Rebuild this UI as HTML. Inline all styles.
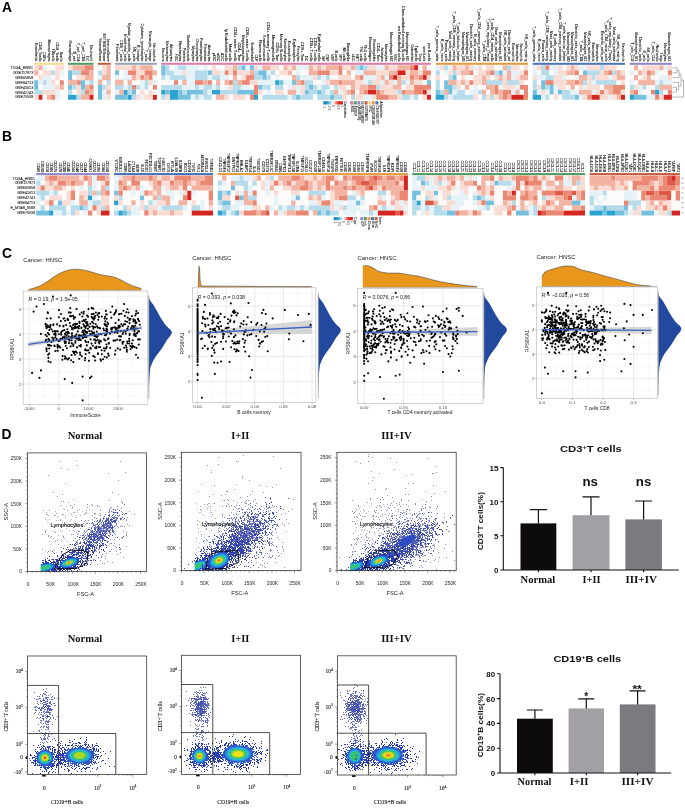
<!DOCTYPE html>
<html><head><meta charset="utf-8"><title>Figure</title>
<style>html,body{margin:0;padding:0;background:#fff;} svg{display:block;filter:blur(0.3px);}</style></head>
<body><svg width="685" height="808" viewBox="0 0 685 808">
<defs><linearGradient id="lg" x1="0" x2="1" y1="0" y2="0">
<stop offset="0" stop-color="#1f72bf"/><stop offset="0.22" stop-color="#2ba2d2"/><stop offset="0.5" stop-color="#ffffff"/>
<stop offset="0.64" stop-color="#f0907e"/><stop offset="0.78" stop-color="#de2c26"/><stop offset="1" stop-color="#d81818"/></linearGradient><filter id="bl" x="-20%" y="-20%" width="140%" height="140%"><feGaussianBlur stdDeviation="0.7"/></filter></defs>
<rect width="685" height="808" fill="#fff"/>
<path stroke="#df5a45" stroke-width="5.19" d="M373.3 178.2h4.3M360.4 183.1h8.6M369.0 188.0h4.3M235.1 197.9h4.3M265.3 212.8h4.3M394.9 212.8h4.3M524.5 183.1h4.3M554.8 193.0h8.6M572.0 193.0h4.3M567.7 197.9h4.3M425.2 202.9h8.6M541.8 212.8h4.3M667.1 178.2h4.3M667.1 183.1h8.6M645.6 193.0h8.6M658.5 193.0h12.9M667.1 197.9h4.3"/>
<path stroke="#d42520" stroke-width="5.19" d="M100.9 212.8h8.6M187.2 193.0h4.3M187.2 197.9h4.3M191.5 212.8h21.5M403.6 178.2h4.3M403.6 183.1h4.3M403.6 188.0h4.3M377.7 212.8h17.3M399.3 212.8h4.3M511.6 193.0h4.3M537.5 212.8h4.3M563.4 212.8h21.6M671.4 178.2h4.3M671.4 212.8h8.6"/>
<path stroke="#74c0de" stroke-width="5.19" d="M57.8 202.9h4.3M79.3 207.8h4.3M36.2 212.8h12.9M114.1 193.0h4.3M139.9 197.9h4.3M122.7 212.8h4.3M230.8 188.0h4.3M217.8 193.0h4.3M226.4 193.0h4.3M217.8 197.9h4.3M239.4 197.9h4.3M295.6 197.9h4.3M222.1 202.9h8.6M356.1 202.9h4.3M222.1 212.8h4.3M235.1 212.8h4.3M317.2 212.8h4.3M325.8 212.8h4.3M420.8 183.1h4.3M494.3 183.1h4.3M412.2 193.0h8.6M433.8 193.0h4.3M412.2 197.9h4.3M477.0 197.9h4.3M485.6 202.9h8.6M572.0 202.9h8.6M446.8 212.8h8.6M515.9 212.8h13.0M602.5 207.8h4.3M624.0 207.8h4.3M602.5 212.8h4.3M615.4 212.8h8.6M641.3 212.8h12.9"/>
<path stroke="#2aa3d0" stroke-width="5.19" d="M87.9 197.9h4.3M49.1 212.8h4.3M114.1 202.9h4.3M118.4 212.8h4.3M217.8 212.8h4.3M416.5 202.9h4.3M589.6 212.8h12.9M606.8 212.8h8.6"/>
<path stroke="#fdfbfa" stroke-width="5.19" d="M40.5 183.1h4.3M83.6 183.1h4.3M96.6 183.1h4.3M66.4 188.0h4.3M75.0 188.0h4.3M83.6 188.0h4.3M96.6 188.0h4.3M57.8 193.0h8.6M75.0 193.0h4.3M44.8 197.9h4.3M62.1 197.9h4.3M75.0 197.9h4.3M96.6 197.9h4.3M40.5 202.9h4.3M53.4 202.9h4.3M75.0 202.9h4.3M36.2 207.8h4.3M44.8 207.8h4.3M66.4 207.8h4.3M79.3 212.8h4.3M92.3 212.8h4.3M127.0 183.1h4.3M139.9 183.1h8.6M144.2 188.0h8.6M187.2 188.0h4.3M122.7 193.0h8.6M135.6 193.0h4.3M161.4 193.0h4.3M174.3 193.0h4.3M195.8 193.0h12.9M122.7 197.9h17.2M144.2 197.9h8.6M174.3 197.9h8.6M191.5 197.9h17.2M122.7 202.9h8.6M135.6 202.9h4.3M144.2 202.9h4.3M170.0 202.9h8.6M187.2 202.9h4.3M195.8 202.9h4.3M204.4 202.9h4.3M118.4 207.8h4.3M187.2 207.8h4.3M204.4 207.8h4.3M139.9 212.8h4.3M182.9 212.8h8.6M217.8 178.2h4.3M226.4 178.2h4.3M261.0 178.2h4.3M274.0 178.2h4.3M338.8 178.2h4.3M226.4 183.1h4.3M248.0 183.1h4.3M256.7 183.1h4.3M330.1 183.1h4.3M222.1 188.0h8.6M235.1 188.0h8.6M252.4 188.0h8.6M274.0 188.0h8.6M230.8 193.0h4.3M256.7 193.0h8.6M269.6 193.0h4.3M278.3 193.0h13.0M299.9 193.0h8.6M325.8 193.0h4.3M347.4 193.0h4.3M364.7 193.0h13.0M386.3 193.0h4.3M230.8 197.9h4.3M256.7 197.9h17.3M278.3 197.9h13.0M299.9 197.9h8.6M325.8 197.9h4.3M356.1 197.9h4.3M364.7 197.9h13.0M386.3 197.9h4.3M230.8 202.9h4.3M256.7 202.9h17.3M278.3 202.9h13.0M295.6 202.9h13.0M343.1 202.9h4.3M364.7 202.9h13.0M386.3 202.9h4.3M239.4 207.8h4.3M261.0 207.8h4.3M274.0 207.8h4.3M360.4 207.8h8.6M269.6 212.8h4.3M308.5 212.8h4.3M338.8 212.8h4.3M356.1 212.8h4.3M477.0 178.2h4.3M494.3 178.2h4.3M550.4 178.2h4.3M416.5 183.1h4.3M455.4 183.1h4.3M477.0 183.1h4.3M485.6 183.1h4.3M554.8 183.1h4.3M468.4 188.0h8.6M494.3 188.0h13.0M520.2 188.0h4.3M541.8 188.0h4.3M572.0 188.0h4.3M420.8 193.0h4.3M438.1 193.0h4.3M451.1 193.0h8.6M468.4 193.0h4.3M494.3 193.0h8.6M515.9 193.0h4.3M537.5 193.0h4.3M416.5 197.9h8.6M438.1 197.9h4.3M468.4 197.9h4.3M494.3 197.9h8.6M515.9 197.9h4.3M537.5 197.9h4.3M438.1 202.9h8.6M464.0 202.9h8.6M494.3 202.9h8.6M515.9 202.9h4.3M524.5 202.9h4.3M537.5 202.9h4.3M554.8 202.9h4.3M459.7 207.8h17.3M490.0 207.8h4.3M563.4 207.8h8.6M416.5 212.8h4.3M481.3 212.8h13.0M502.9 212.8h4.3M511.6 212.8h4.3M628.3 183.1h4.3M628.3 188.0h4.3M606.8 193.0h17.2M637.0 193.0h4.3M671.4 193.0h4.3M598.2 197.9h4.3M606.8 197.9h17.2M637.0 197.9h4.3M671.4 197.9h4.3M593.9 202.9h4.3M602.5 202.9h21.5M641.3 202.9h4.3M654.2 202.9h4.3M671.4 202.9h8.6M628.3 207.8h4.3M641.3 207.8h4.3M671.4 207.8h8.6"/>
<path stroke="#b6dbeb" stroke-width="5.19" d="M36.2 183.1h4.3M87.9 188.0h4.3M105.2 188.0h4.3M36.2 193.0h12.9M53.4 193.0h4.3M87.9 193.0h4.3M96.6 193.0h4.3M40.5 197.9h4.3M92.3 202.9h8.6M40.5 207.8h4.3M49.1 207.8h17.2M70.7 207.8h8.6M83.6 207.8h4.3M100.9 207.8h4.3M62.1 212.8h4.3M70.7 212.8h4.3M118.4 197.9h4.3M157.1 197.9h4.3M148.5 202.9h4.3M122.7 207.8h4.3M144.2 207.8h4.3M161.4 207.8h21.5M191.5 207.8h8.6M114.1 212.8h4.3M127.0 212.8h4.3M239.4 178.2h4.3M269.6 178.2h4.3M217.8 183.1h4.3M235.1 183.1h13.0M252.4 183.1h4.3M243.7 188.0h4.3M222.1 193.0h4.3M308.5 193.0h17.3M377.7 193.0h8.6M248.0 197.9h8.6M347.4 197.9h8.6M360.4 197.9h4.3M217.8 202.9h4.3M222.1 207.8h8.6M278.3 207.8h4.3M286.9 207.8h8.6M299.9 207.8h4.3M308.5 207.8h21.6M343.1 207.8h4.3M382.0 207.8h4.3M230.8 212.8h4.3M321.5 212.8h4.3M330.1 212.8h8.6M369.0 212.8h4.3M416.5 178.2h8.6M425.2 183.1h4.3M438.1 183.1h4.3M498.6 183.1h13.0M576.4 183.1h4.3M425.2 197.9h4.3M446.8 197.9h4.3M472.7 197.9h4.3M481.3 197.9h4.3M541.8 197.9h4.3M412.2 202.9h4.3M511.6 202.9h4.3M412.2 207.8h8.6M425.2 207.8h4.3M433.8 207.8h8.6M485.6 207.8h4.3M533.2 207.8h4.3M412.2 212.8h4.3M433.8 212.8h13.0M533.2 212.8h4.3M602.5 193.0h4.3M589.6 197.9h4.3M589.6 202.9h4.3M628.3 202.9h12.9M593.9 207.8h8.6M606.8 207.8h17.2M632.6 207.8h4.3M624.0 212.8h4.3M667.1 212.8h4.3"/>
<path stroke="#f9ddd4" stroke-width="5.19" d="M79.3 178.2h4.3M44.8 183.1h4.3M53.4 183.1h4.3M100.9 183.1h4.3M36.2 188.0h4.3M44.8 188.0h8.6M62.1 188.0h4.3M70.7 188.0h4.3M66.4 193.0h4.3M79.3 193.0h8.6M49.1 197.9h12.9M66.4 197.9h4.3M83.6 197.9h4.3M100.9 197.9h8.6M44.8 202.9h4.3M62.1 202.9h8.6M100.9 202.9h8.6M96.6 207.8h4.3M75.0 212.8h4.3M96.6 212.8h4.3M118.4 178.2h4.3M157.1 178.2h4.3M170.0 178.2h4.3M148.5 183.1h4.3M161.4 183.1h8.6M191.5 183.1h4.3M131.3 188.0h4.3M165.7 188.0h4.3M178.6 188.0h4.3M152.8 193.0h4.3M182.9 193.0h4.3M114.1 197.9h4.3M118.4 202.9h4.3M139.9 202.9h4.3M157.1 202.9h8.6M191.5 202.9h4.3M127.0 207.8h4.3M139.9 207.8h4.3M148.5 207.8h8.6M208.7 207.8h4.3M148.5 212.8h4.3M157.1 212.8h12.9M174.3 212.8h8.6M252.4 178.2h4.3M265.3 178.2h4.3M304.2 178.2h8.6M317.2 178.2h4.3M334.5 178.2h4.3M261.0 183.1h4.3M269.6 183.1h4.3M278.3 183.1h4.3M291.2 183.1h4.3M312.9 183.1h4.3M347.4 183.1h4.3M399.3 183.1h4.3M261.0 188.0h4.3M282.6 188.0h8.6M312.9 188.0h4.3M321.5 188.0h4.3M377.7 188.0h4.3M235.1 193.0h4.3M274.0 193.0h4.3M291.2 193.0h8.6M330.1 193.0h4.3M356.1 193.0h4.3M222.1 197.9h8.6M312.9 197.9h4.3M330.1 197.9h4.3M377.7 197.9h4.3M390.6 197.9h4.3M317.2 202.9h4.3M330.1 202.9h4.3M394.9 202.9h4.3M403.6 202.9h4.3M252.4 207.8h8.6M330.1 207.8h4.3M338.8 207.8h4.3M394.9 207.8h8.6M239.4 212.8h4.3M282.6 212.8h4.3M403.6 212.8h4.3M425.2 178.2h4.3M433.8 178.2h4.3M442.4 178.2h4.3M455.4 178.2h4.3M468.4 178.2h4.3M502.9 178.2h8.6M537.5 178.2h4.3M546.1 178.2h4.3M567.7 178.2h4.3M580.7 178.2h4.3M433.8 183.1h4.3M446.8 183.1h4.3M459.7 183.1h4.3M490.0 183.1h4.3M520.2 183.1h4.3M580.7 183.1h4.3M420.8 188.0h4.3M438.1 188.0h8.6M451.1 188.0h4.3M459.7 188.0h8.6M485.6 188.0h4.3M511.6 188.0h4.3M528.8 188.0h4.3M546.1 188.0h8.6M563.4 188.0h8.6M576.4 188.0h8.6M425.2 193.0h8.6M442.4 193.0h8.6M464.0 193.0h4.3M477.0 193.0h4.3M485.6 193.0h4.3M429.5 197.9h4.3M442.4 197.9h4.3M490.0 197.9h4.3M546.1 197.9h8.6M446.8 202.9h8.6M477.0 202.9h4.3M507.2 202.9h4.3M528.8 202.9h4.3M541.8 202.9h4.3M442.4 207.8h8.6M494.3 207.8h13.0M524.5 207.8h4.3M537.5 207.8h4.3M546.1 207.8h8.6M425.2 212.8h4.3M468.4 212.8h4.3M494.3 212.8h8.6M615.4 183.1h4.3M624.0 183.1h4.3M654.2 183.1h4.3M589.6 188.0h4.3M598.2 188.0h12.9M615.4 188.0h8.6M654.2 188.0h4.3M645.6 202.9h4.3M662.8 202.9h8.6M637.0 207.8h4.3M645.6 207.8h8.6M658.5 207.8h4.3M667.1 207.8h4.3M632.6 212.8h8.6M658.5 212.8h8.6"/>
<path stroke="#ea8873" stroke-width="5.19" d="M49.1 178.2h8.6M83.6 178.2h4.3M96.6 178.2h8.6M57.8 183.1h8.6M70.7 183.1h4.3M105.2 183.1h4.3M40.5 188.0h4.3M70.7 193.0h4.3M105.2 193.0h4.3M70.7 197.9h4.3M49.1 202.9h4.3M92.3 207.8h4.3M87.9 212.8h4.3M131.3 178.2h4.3M148.5 178.2h4.3M174.3 178.2h17.2M204.4 178.2h8.6M118.4 183.1h4.3M131.3 183.1h8.6M157.1 183.1h4.3M170.0 183.1h4.3M182.9 183.1h4.3M200.1 183.1h12.9M122.7 188.0h4.3M182.9 188.0h4.3M118.4 193.0h4.3M144.2 193.0h4.3M208.7 193.0h4.3M182.9 197.9h4.3M208.7 197.9h4.3M144.2 212.8h4.3M291.2 178.2h8.6M325.8 178.2h8.6M343.1 178.2h4.3M351.7 178.2h13.0M369.0 178.2h4.3M377.7 178.2h4.3M386.3 178.2h8.6M399.3 178.2h4.3M274.0 183.1h4.3M286.9 183.1h4.3M304.2 183.1h4.3M325.8 183.1h4.3M334.5 183.1h4.3M356.1 183.1h4.3M369.0 183.1h8.6M394.9 183.1h4.3M299.9 188.0h8.6M325.8 188.0h4.3M343.1 188.0h4.3M351.7 188.0h4.3M364.7 188.0h4.3M382.0 188.0h4.3M252.4 193.0h4.3M399.3 193.0h8.6M338.8 197.9h8.6M399.3 197.9h8.6M252.4 202.9h4.3M321.5 202.9h8.6M373.3 207.8h4.3M243.7 212.8h13.0M261.0 212.8h4.3M295.6 212.8h13.0M490.0 178.2h4.3M515.9 178.2h13.0M533.2 178.2h4.3M554.8 178.2h8.6M451.1 183.1h4.3M472.7 183.1h4.3M515.9 183.1h4.3M528.8 183.1h13.0M477.0 188.0h4.3M515.9 188.0h4.3M490.0 193.0h4.3M502.9 193.0h4.3M524.5 193.0h4.3M541.8 193.0h13.0M563.4 193.0h8.6M580.7 193.0h4.3M502.9 197.9h13.0M520.2 197.9h8.6M533.2 197.9h4.3M563.4 197.9h4.3M580.7 197.9h4.3M481.3 202.9h4.3M546.1 202.9h4.3M511.6 207.8h4.3M580.7 207.8h4.3M455.4 212.8h4.3M472.7 212.8h4.3M507.2 212.8h4.3M546.1 212.8h17.3M611.1 178.2h4.3M641.3 178.2h17.2M662.8 178.2h4.3M675.7 178.2h4.3M632.6 183.1h17.2M662.8 183.1h4.3M675.7 183.1h4.3M632.6 188.0h4.3M649.9 188.0h4.3M658.5 188.0h17.2M641.3 193.0h4.3M654.2 193.0h4.3M675.7 193.0h4.3M641.3 197.9h4.3M649.9 197.9h17.2M675.7 197.9h4.3M624.0 202.9h4.3M662.8 207.8h4.3"/>
<path stroke="#f2b3a3" stroke-width="5.19" d="M44.8 178.2h4.3M57.8 178.2h21.6M87.9 178.2h4.3M105.2 178.2h4.3M49.1 183.1h4.3M66.4 183.1h4.3M75.0 183.1h8.6M87.9 183.1h4.3M53.4 188.0h8.6M100.9 188.0h4.3M92.3 193.0h4.3M100.9 193.0h4.3M79.3 197.9h4.3M79.3 202.9h8.6M105.2 207.8h4.3M122.7 178.2h8.6M135.6 178.2h12.9M152.8 178.2h4.3M161.4 178.2h8.6M191.5 178.2h12.9M122.7 183.1h4.3M152.8 183.1h4.3M174.3 183.1h8.6M187.2 183.1h4.3M195.8 183.1h4.3M118.4 188.0h4.3M127.0 188.0h4.3M135.6 188.0h4.3M152.8 188.0h8.6M170.0 188.0h8.6M191.5 188.0h21.5M148.5 193.0h4.3M157.1 193.0h4.3M152.8 197.9h4.3M161.4 197.9h8.6M131.3 202.9h4.3M165.7 202.9h4.3M178.6 202.9h8.6M208.7 202.9h4.3M152.8 212.8h4.3M170.0 212.8h4.3M222.1 178.2h4.3M256.7 178.2h4.3M278.3 178.2h13.0M299.9 178.2h4.3M312.9 178.2h4.3M321.5 178.2h4.3M347.4 178.2h4.3M364.7 178.2h4.3M382.0 178.2h4.3M394.9 178.2h4.3M230.8 183.1h4.3M282.6 183.1h4.3M295.6 183.1h8.6M308.5 183.1h4.3M317.2 183.1h8.6M338.8 183.1h8.6M351.7 183.1h4.3M377.7 183.1h17.3M269.6 188.0h4.3M291.2 188.0h8.6M308.5 188.0h4.3M317.2 188.0h4.3M330.1 188.0h13.0M347.4 188.0h4.3M356.1 188.0h8.6M373.3 188.0h4.3M386.3 188.0h17.3M243.7 193.0h4.3M334.5 193.0h13.0M360.4 193.0h4.3M390.6 193.0h8.6M243.7 197.9h4.3M308.5 197.9h4.3M317.2 197.9h4.3M334.5 197.9h4.3M394.9 197.9h4.3M243.7 202.9h8.6M291.2 202.9h4.3M377.7 202.9h8.6M390.6 202.9h4.3M265.3 207.8h4.3M369.0 207.8h4.3M256.7 212.8h4.3M274.0 212.8h4.3M286.9 212.8h8.6M312.9 212.8h4.3M438.1 178.2h4.3M446.8 178.2h8.6M459.7 178.2h4.3M481.3 178.2h8.6M498.6 178.2h4.3M511.6 178.2h4.3M528.8 178.2h4.3M541.8 178.2h4.3M572.0 178.2h8.6M464.0 183.1h8.6M481.3 183.1h4.3M546.1 183.1h8.6M559.1 183.1h4.3M572.0 183.1h4.3M446.8 188.0h4.3M481.3 188.0h4.3M490.0 188.0h4.3M524.5 188.0h4.3M533.2 188.0h8.6M554.8 188.0h8.6M481.3 193.0h4.3M507.2 193.0h4.3M520.2 193.0h4.3M528.8 193.0h8.6M576.4 193.0h4.3M528.8 197.9h4.3M554.8 197.9h8.6M576.4 197.9h4.3M433.8 202.9h4.3M502.9 202.9h4.3M520.2 202.9h4.3M533.2 202.9h4.3M550.4 202.9h4.3M559.1 202.9h13.0M507.2 207.8h4.3M520.2 207.8h4.3M541.8 207.8h4.3M554.8 207.8h8.6M572.0 207.8h8.6M459.7 212.8h8.6M477.0 212.8h4.3M589.6 178.2h21.5M615.4 178.2h25.8M658.5 178.2h4.3M589.6 183.1h25.8M619.7 183.1h4.3M649.9 183.1h4.3M658.5 183.1h4.3M593.9 188.0h4.3M611.1 188.0h4.3M624.0 188.0h4.3M637.0 188.0h12.9M675.7 188.0h4.3M645.6 197.9h4.3M649.9 202.9h4.3M658.5 202.9h4.3M654.2 207.8h4.3"/>
<path stroke="#e5f2f8" stroke-width="5.19" d="M36.2 178.2h8.6M92.3 178.2h4.3M92.3 183.1h4.3M79.3 188.0h4.3M92.3 188.0h4.3M49.1 193.0h4.3M36.2 197.9h4.3M92.3 197.9h4.3M36.2 202.9h4.3M70.7 202.9h4.3M87.9 202.9h4.3M87.9 207.8h4.3M53.4 212.8h8.6M66.4 212.8h4.3M83.6 212.8h4.3M114.1 178.2h4.3M114.1 183.1h4.3M114.1 188.0h4.3M139.9 188.0h4.3M161.4 188.0h4.3M131.3 193.0h4.3M139.9 193.0h4.3M165.7 193.0h8.6M178.6 193.0h4.3M191.5 193.0h4.3M170.0 197.9h4.3M152.8 202.9h4.3M200.1 202.9h4.3M114.1 207.8h4.3M131.3 207.8h8.6M157.1 207.8h4.3M182.9 207.8h4.3M200.1 207.8h4.3M131.3 212.8h8.6M230.8 178.2h8.6M243.7 178.2h8.6M222.1 183.1h4.3M265.3 183.1h4.3M217.8 188.0h4.3M248.0 188.0h4.3M265.3 188.0h4.3M239.4 193.0h4.3M248.0 193.0h4.3M265.3 193.0h4.3M351.7 193.0h4.3M274.0 197.9h4.3M291.2 197.9h4.3M321.5 197.9h4.3M382.0 197.9h4.3M235.1 202.9h8.6M274.0 202.9h4.3M308.5 202.9h8.6M334.5 202.9h8.6M347.4 202.9h8.6M360.4 202.9h4.3M399.3 202.9h4.3M217.8 207.8h4.3M230.8 207.8h8.6M243.7 207.8h8.6M269.6 207.8h4.3M282.6 207.8h4.3M295.6 207.8h4.3M304.2 207.8h4.3M334.5 207.8h4.3M347.4 207.8h13.0M377.7 207.8h4.3M386.3 207.8h8.6M403.6 207.8h4.3M226.4 212.8h4.3M278.3 212.8h4.3M343.1 212.8h13.0M360.4 212.8h8.6M373.3 212.8h4.3M412.2 178.2h4.3M429.5 178.2h4.3M464.0 178.2h4.3M472.7 178.2h4.3M563.4 178.2h4.3M412.2 183.1h4.3M429.5 183.1h4.3M442.4 183.1h4.3M511.6 183.1h4.3M541.8 183.1h4.3M563.4 183.1h8.6M412.2 188.0h8.6M425.2 188.0h13.0M455.4 188.0h4.3M507.2 188.0h4.3M459.7 193.0h4.3M472.7 193.0h4.3M433.8 197.9h4.3M451.1 197.9h17.3M485.6 197.9h4.3M572.0 197.9h4.3M420.8 202.9h4.3M455.4 202.9h8.6M472.7 202.9h4.3M580.7 202.9h4.3M420.8 207.8h4.3M429.5 207.8h4.3M451.1 207.8h8.6M477.0 207.8h8.6M515.9 207.8h4.3M528.8 207.8h4.3M420.8 212.8h4.3M429.5 212.8h4.3M528.8 212.8h4.3M589.6 193.0h12.9M624.0 193.0h12.9M593.9 197.9h4.3M602.5 197.9h4.3M624.0 197.9h12.9M598.2 202.9h4.3M589.6 207.8h4.3M628.3 212.8h4.3M654.2 212.8h4.3"/>
<path stroke="#2aa3d0" stroke-width="5.12" d="M68.1 97.1h8.5M123.5 92.2h4.2M127.6 97.1h4.2M275.1 82.4h4.2M161.3 92.2h4.2M169.7 92.2h8.4M211.9 92.2h8.4M169.7 97.1h8.4M254.0 97.1h4.2M435.7 97.1h8.4M532.7 97.1h8.4M655.1 92.2h4.2M629.8 97.1h4.2"/>
<path stroke="#d42520" stroke-width="5.12" d="M38.4 97.1h4.2M89.3 97.1h4.2M152.7 97.1h4.2M414.1 67.8h4.2M397.3 72.7h8.4M393.1 77.6h4.2M422.6 77.6h4.2M367.8 92.2h8.4M422.6 92.2h4.2M426.8 97.1h4.2M511.2 97.1h12.6M591.4 97.1h8.4M620.8 97.1h4.2M663.5 97.1h8.4"/>
<path stroke="#ea8873" stroke-width="5.12" d="M59.6 82.4h4.2M51.1 97.1h4.2M85.0 67.8h8.5M80.8 72.7h8.5M76.6 82.4h4.2M89.3 87.3h4.2M85.0 92.2h4.2M127.6 72.7h8.4M144.4 72.7h8.4M140.2 77.6h4.2M148.5 77.6h4.2M131.8 87.3h4.2M152.7 87.3h4.2M338.3 67.8h4.2M409.9 67.8h4.2M224.5 72.7h4.2M232.9 72.7h4.2M317.2 72.7h12.6M338.3 72.7h4.2M422.6 72.7h8.4M245.6 77.6h8.4M359.4 77.6h4.2M388.9 77.6h4.2M409.9 77.6h4.2M418.4 77.6h4.2M173.9 82.4h4.2M195.0 82.4h8.4M207.7 82.4h4.2M228.7 82.4h4.2M241.4 82.4h8.4M300.4 82.4h4.2M338.3 82.4h4.2M254.0 87.3h4.2M367.8 87.3h8.4M414.1 87.3h16.9M254.0 92.2h4.2M350.9 92.2h4.2M363.6 92.2h4.2M376.2 92.2h4.2M401.5 92.2h4.2M414.1 92.2h8.4M249.8 97.1h4.2M376.2 97.1h12.6M469.3 72.7h4.2M490.2 72.7h4.2M523.8 72.7h4.2M469.3 82.4h4.2M494.4 87.3h4.2M519.6 87.3h8.4M494.4 92.2h4.2M502.8 92.2h8.4M523.8 92.2h4.2M502.8 97.1h4.2M523.8 97.1h4.2M545.3 67.8h4.2M574.7 72.7h4.2M608.2 72.7h4.2M545.3 82.4h8.4M574.7 82.4h4.2M612.4 87.3h12.6M599.8 92.2h4.2M612.4 92.2h8.4M587.2 97.1h4.2M646.6 72.7h4.2M667.7 72.7h4.2M634.0 92.2h4.2M650.8 92.2h4.2M667.7 92.2h4.2M655.1 97.1h4.2"/>
<path stroke="#74c0de" stroke-width="5.12" d="M34.2 82.4h4.2M34.2 87.3h4.2M68.1 72.7h4.2M68.1 77.6h4.2M80.8 82.4h4.2M68.1 87.3h4.2M80.8 87.3h4.2M97.9 87.3h4.3M97.9 92.2h4.3M97.9 97.1h4.3M115.1 72.7h4.2M131.8 92.2h4.2M115.1 97.1h12.5M161.3 67.8h4.2M241.4 67.8h4.2M249.8 67.8h4.2M359.4 67.8h4.2M161.3 72.7h4.2M207.7 72.7h4.2M258.2 72.7h8.4M262.4 77.6h4.2M279.3 82.4h4.2M291.9 82.4h4.2M426.8 82.4h4.2M258.2 87.3h4.2M308.8 87.3h4.2M165.5 92.2h4.2M178.2 92.2h4.2M186.6 92.2h16.9M237.2 92.2h16.9M304.6 92.2h4.2M317.2 92.2h4.2M178.2 97.1h12.6M296.1 97.1h4.2M329.9 97.1h4.2M498.6 72.7h4.2M452.5 77.6h4.2M444.1 82.4h4.2M444.1 87.3h8.4M435.7 92.2h4.2M448.3 92.2h4.2M583.0 72.7h4.2M541.1 82.4h4.2M541.1 87.3h4.2M549.5 87.3h4.2M532.7 92.2h4.2M549.5 92.2h4.2M557.9 92.2h4.2M574.7 97.1h4.2M634.0 97.1h12.6"/>
<path stroke="#b6dbeb" stroke-width="5.12" d="M51.1 72.7h4.2M42.7 82.4h4.2M34.2 92.2h8.5M72.3 72.7h8.5M89.3 82.4h4.2M72.3 87.3h4.2M68.1 92.2h4.2M80.8 92.2h4.2M76.6 97.1h4.2M97.9 72.7h4.3M106.4 82.4h4.3M102.2 87.3h4.3M144.4 82.4h4.2M115.1 87.3h8.4M127.6 87.3h4.2M136.0 87.3h4.2M144.4 87.3h4.2M127.6 92.2h4.2M131.8 97.1h4.2M165.5 67.8h4.2M178.2 67.8h8.4M237.2 67.8h4.2M355.1 67.8h4.2M363.6 67.8h4.2M165.5 72.7h8.4M195.0 72.7h12.6M254.0 72.7h4.2M270.9 72.7h4.2M161.3 77.6h4.2M169.7 77.6h16.9M195.0 77.6h12.6M211.9 77.6h8.4M254.0 77.6h8.4M266.7 77.6h4.2M296.1 77.6h4.2M317.2 77.6h4.2M325.6 77.6h4.2M232.9 82.4h4.2M304.6 82.4h8.4M367.8 82.4h4.2M401.5 82.4h4.2M161.3 87.3h21.1M195.0 87.3h4.2M203.4 87.3h8.4M216.1 87.3h4.2M232.9 87.3h8.4M262.4 87.3h8.4M275.1 87.3h8.4M304.6 87.3h4.2M313.0 87.3h4.2M321.4 87.3h8.4M334.1 87.3h4.2M376.2 87.3h4.2M182.4 92.2h4.2M203.4 92.2h4.2M220.3 92.2h16.9M308.8 92.2h8.4M321.4 92.2h4.2M329.9 92.2h4.2M397.3 92.2h4.2M161.3 97.1h4.2M195.0 97.1h4.2M203.4 97.1h8.4M262.4 97.1h25.3M291.9 97.1h4.2M300.4 97.1h12.6M317.2 97.1h12.6M334.1 97.1h8.4M350.9 97.1h4.2M401.5 97.1h8.4M414.1 97.1h4.2M444.1 67.8h4.2M507.0 67.8h4.2M435.7 72.7h4.2M452.5 72.7h4.2M494.4 72.7h4.2M448.3 77.6h4.2M435.7 82.4h4.2M486.0 82.4h16.8M507.0 82.4h12.6M435.7 87.3h4.2M452.5 87.3h4.2M439.9 92.2h4.2M456.7 92.2h8.4M477.7 92.2h4.2M444.1 97.1h4.2M452.5 97.1h21.0M481.9 97.1h4.2M490.2 97.1h4.2M541.1 67.8h4.2M599.8 67.8h4.2M541.1 72.7h8.4M587.2 72.7h12.6M612.4 72.7h4.2M545.3 77.6h8.4M591.4 77.6h4.2M532.7 82.4h4.2M583.0 82.4h4.2M595.6 82.4h21.0M532.7 87.3h4.2M545.3 87.3h4.2M562.1 92.2h8.4M545.3 97.1h4.2M562.1 97.1h12.6M659.3 82.4h4.2M629.8 87.3h4.2M642.4 87.3h4.2M655.1 87.3h4.2M659.3 92.2h4.2"/>
<path stroke="#fdfbfa" stroke-width="5.12" d="M46.9 67.8h8.5M38.4 72.7h4.2M34.2 77.6h4.2M51.1 77.6h4.2M59.6 77.6h4.2M55.3 82.4h4.2M38.4 87.3h4.2M59.6 92.2h4.2M42.7 97.1h4.2M59.6 97.1h4.2M72.3 77.6h4.2M72.3 92.2h4.2M97.9 67.8h4.3M102.2 82.4h4.3M152.7 67.8h4.2M119.3 72.7h4.2M119.3 77.6h4.2M152.7 77.6h4.2M123.5 82.4h4.2M131.8 82.4h8.4M148.5 87.3h4.2M136.0 92.2h4.2M144.4 92.2h4.2M152.7 92.2h4.2M169.7 67.8h4.2M199.2 67.8h4.2M207.7 67.8h4.2M216.1 67.8h8.4M279.3 67.8h4.2M418.4 67.8h4.2M426.8 67.8h4.2M275.1 72.7h4.2M291.9 72.7h4.2M300.4 72.7h8.4M342.5 72.7h4.2M350.9 72.7h4.2M228.7 77.6h4.2M237.2 77.6h4.2M270.9 77.6h4.2M279.3 77.6h12.6M329.9 77.6h8.4M350.9 77.6h4.2M161.3 82.4h12.6M178.2 82.4h4.2M211.9 82.4h4.2M220.3 82.4h4.2M313.0 82.4h8.4M422.6 82.4h4.2M220.3 87.3h4.2M249.8 87.3h4.2M270.9 87.3h4.2M283.5 87.3h4.2M329.9 87.3h4.2M346.7 87.3h4.2M401.5 87.3h4.2M262.4 92.2h4.2M270.9 92.2h4.2M283.5 92.2h4.2M355.1 92.2h4.2M211.9 97.1h4.2M228.7 97.1h4.2M245.6 97.1h4.2M258.2 97.1h4.2M313.0 97.1h4.2M346.7 97.1h4.2M418.4 97.1h4.2M481.9 67.8h4.2M494.4 67.8h8.4M519.6 67.8h4.2M439.9 72.7h4.2M473.5 72.7h4.2M439.9 77.6h8.4M456.7 77.6h4.2M465.1 77.6h8.4M490.2 77.6h4.2M439.9 82.4h4.2M523.8 82.4h4.2M439.9 87.3h4.2M460.9 87.3h4.2M469.3 87.3h4.2M477.7 87.3h8.4M465.1 92.2h4.2M486.0 92.2h4.2M519.6 92.2h4.2M477.7 97.1h4.2M562.1 67.8h4.2M616.6 67.8h8.4M536.9 72.7h4.2M549.5 72.7h4.2M578.9 72.7h4.2M566.3 77.6h8.4M536.9 82.4h4.2M616.6 82.4h4.2M566.3 87.3h4.2M574.7 87.3h4.2M599.8 87.3h4.2M549.5 97.1h4.2M557.9 97.1h4.2M629.8 67.8h4.2M638.2 67.8h4.2M634.0 72.7h4.2M659.3 72.7h8.4M629.8 77.6h4.2M638.2 77.6h4.2M650.8 77.6h8.4M634.0 82.4h4.2M646.6 87.3h8.4M642.4 92.2h8.4M663.5 92.2h4.2"/>
<path stroke="#e5f2f8" stroke-width="5.12" d="M42.7 67.8h4.2M59.6 72.7h4.2M42.7 77.6h8.5M38.4 82.4h4.2M46.9 82.4h4.2M42.7 87.3h12.7M55.3 92.2h4.2M55.3 97.1h4.2M85.0 82.4h4.2M97.9 77.6h4.3M102.2 92.2h4.3M102.2 97.1h4.3M123.5 72.7h4.2M115.1 77.6h4.2M123.5 77.6h8.4M140.2 82.4h4.2M152.7 82.4h4.2M123.5 87.3h4.2M140.2 87.3h4.2M115.1 92.2h4.2M140.2 97.1h4.2M173.9 67.8h4.2M186.6 67.8h12.6M203.4 67.8h4.2M245.6 67.8h4.2M258.2 67.8h4.2M296.1 67.8h12.6M376.2 67.8h8.4M173.9 72.7h8.4M186.6 72.7h8.4M220.3 72.7h4.2M266.7 72.7h4.2M296.1 72.7h4.2M355.1 72.7h8.4M165.5 77.6h4.2M186.6 77.6h8.4M207.7 77.6h4.2M220.3 77.6h8.4M275.1 77.6h4.2M300.4 77.6h12.6M321.4 77.6h4.2M363.6 77.6h12.6M384.6 77.6h4.2M186.6 82.4h8.4M258.2 82.4h16.9M283.5 82.4h8.4M321.4 82.4h4.2M363.6 82.4h4.2M380.4 82.4h4.2M393.1 82.4h4.2M405.7 82.4h4.2M182.4 87.3h12.6M199.2 87.3h4.2M211.9 87.3h4.2M224.5 87.3h4.2M241.4 87.3h8.4M287.7 87.3h4.2M296.1 87.3h4.2M317.2 87.3h4.2M207.7 92.2h4.2M266.7 92.2h4.2M296.1 92.2h4.2M325.6 92.2h4.2M338.3 92.2h4.2M190.8 97.1h4.2M199.2 97.1h4.2M287.7 97.1h4.2M363.6 97.1h8.4M409.9 97.1h4.2M435.7 67.8h4.2M448.3 67.8h4.2M473.5 67.8h4.2M444.1 72.7h4.2M502.8 72.7h4.2M511.2 72.7h8.4M511.2 77.6h4.2M473.5 87.3h4.2M498.6 87.3h4.2M515.4 87.3h4.2M452.5 92.2h4.2M469.3 92.2h8.4M511.2 92.2h4.2M448.3 97.1h4.2M532.7 67.8h4.2M549.5 67.8h8.4M578.9 67.8h8.4M532.7 72.7h4.2M553.7 72.7h4.2M536.9 77.6h8.4M562.1 77.6h4.2M574.7 77.6h4.2M608.2 77.6h4.2M591.4 82.4h4.2M553.7 87.3h4.2M583.0 87.3h4.2M536.9 92.2h4.2M545.3 92.2h4.2M553.7 92.2h4.2M570.5 92.2h8.4M591.4 92.2h4.2M541.1 97.1h4.2M578.9 97.1h4.2M608.2 97.1h4.2M663.5 67.8h4.2M629.8 72.7h4.2M655.1 72.7h4.2M659.3 77.6h8.4M629.8 82.4h4.2M655.1 82.4h4.2M663.5 82.4h8.4M638.2 87.3h4.2M638.2 92.2h4.2M646.6 97.1h8.4"/>
<path stroke="#f2b3a3" stroke-width="5.12" d="M38.4 67.8h4.2M34.2 72.7h4.2M59.6 87.3h4.2M46.9 97.1h4.2M72.3 67.8h12.7M89.3 72.7h4.2M85.0 77.6h8.5M68.1 82.4h8.5M85.0 87.3h4.2M89.3 92.2h4.2M80.8 97.1h8.5M106.4 67.8h4.3M106.4 72.7h4.3M102.2 77.6h8.5M97.9 82.4h4.3M106.4 92.2h4.3M131.8 67.8h4.2M140.2 67.8h12.5M152.7 72.7h4.2M131.8 77.6h4.2M144.4 77.6h4.2M115.1 82.4h8.4M127.6 82.4h4.2M119.3 92.2h4.2M232.9 67.8h4.2M262.4 67.8h8.4M283.5 67.8h4.2M291.9 67.8h4.2M308.8 67.8h4.2M317.2 67.8h4.2M325.6 67.8h12.6M350.9 67.8h4.2M384.6 67.8h4.2M397.3 67.8h12.6M422.6 67.8h4.2M249.8 72.7h4.2M287.7 72.7h4.2M308.8 72.7h8.4M346.7 72.7h4.2M363.6 72.7h12.6M388.9 72.7h8.4M409.9 72.7h8.4M232.9 77.6h4.2M291.9 77.6h4.2M355.1 77.6h4.2M380.4 77.6h4.2M397.3 77.6h4.2M414.1 77.6h4.2M182.4 82.4h4.2M203.4 82.4h4.2M216.1 82.4h4.2M224.5 82.4h4.2M237.2 82.4h4.2M296.1 82.4h4.2M329.9 82.4h8.4M342.5 82.4h12.6M384.6 82.4h4.2M397.3 82.4h4.2M409.9 82.4h4.2M350.9 87.3h4.2M359.4 87.3h8.4M393.1 87.3h8.4M287.7 92.2h8.4M334.1 92.2h4.2M346.7 92.2h4.2M359.4 92.2h4.2M380.4 92.2h4.2M405.7 92.2h8.4M216.1 97.1h8.4M388.9 97.1h8.4M452.5 67.8h4.2M465.1 67.8h4.2M502.8 67.8h4.2M460.9 72.7h8.4M486.0 72.7h4.2M507.0 72.7h4.2M481.9 77.6h4.2M498.6 77.6h4.2M507.0 77.6h4.2M519.6 77.6h8.4M448.3 82.4h8.4M460.9 82.4h4.2M481.9 82.4h4.2M465.1 87.3h4.2M486.0 87.3h8.4M444.1 92.2h4.2M481.9 92.2h4.2M490.2 92.2h4.2M498.6 92.2h4.2M515.4 92.2h4.2M498.6 97.1h4.2M507.0 97.1h4.2M570.5 67.8h4.2M566.3 72.7h8.4M604.0 72.7h4.2M616.6 72.7h4.2M578.9 77.6h8.4M616.6 77.6h8.4M566.3 82.4h8.4M578.9 82.4h4.2M570.5 87.3h4.2M604.0 87.3h8.4M578.9 92.2h12.6M608.2 92.2h4.2M616.6 97.1h4.2M634.0 67.8h4.2M659.3 67.8h4.2M638.2 72.7h4.2M650.8 72.7h4.2M634.0 77.6h4.2M646.6 77.6h4.2M638.2 82.4h16.8M659.3 87.3h12.6M629.8 92.2h4.2"/>
<path stroke="#f9ddd4" stroke-width="5.12" d="M34.2 67.8h4.2M55.3 67.8h8.5M42.7 72.7h8.5M55.3 72.7h4.2M38.4 77.6h4.2M55.3 77.6h4.2M51.1 82.4h4.2M55.3 87.3h4.2M42.7 92.2h12.7M34.2 97.1h4.2M68.1 67.8h4.2M76.6 77.6h8.5M76.6 87.3h4.2M76.6 92.2h4.2M102.2 67.8h4.3M102.2 72.7h4.3M106.4 87.3h4.3M106.4 97.1h4.3M115.1 67.8h16.7M136.0 67.8h4.2M136.0 72.7h8.4M136.0 77.6h4.2M148.5 82.4h4.2M140.2 92.2h4.2M148.5 92.2h4.2M136.0 97.1h4.2M144.4 97.1h8.4M211.9 67.8h4.2M224.5 67.8h8.4M254.0 67.8h4.2M270.9 67.8h8.4M287.7 67.8h4.2M313.0 67.8h4.2M321.4 67.8h4.2M342.5 67.8h8.4M367.8 67.8h8.4M388.9 67.8h8.4M182.4 72.7h4.2M211.9 72.7h8.4M228.7 72.7h4.2M237.2 72.7h12.6M279.3 72.7h8.4M329.9 72.7h8.4M376.2 72.7h12.6M405.7 72.7h4.2M418.4 72.7h4.2M241.4 77.6h4.2M313.0 77.6h4.2M338.3 77.6h12.6M376.2 77.6h4.2M401.5 77.6h8.4M426.8 77.6h4.2M249.8 82.4h8.4M325.6 82.4h4.2M355.1 82.4h8.4M372.0 82.4h8.4M388.9 82.4h4.2M414.1 82.4h8.4M228.7 87.3h4.2M291.9 87.3h4.2M300.4 87.3h4.2M338.3 87.3h8.4M355.1 87.3h4.2M380.4 87.3h12.6M405.7 87.3h8.4M258.2 92.2h4.2M275.1 92.2h8.4M300.4 92.2h4.2M342.5 92.2h4.2M384.6 92.2h12.6M426.8 92.2h4.2M165.5 97.1h4.2M224.5 97.1h4.2M232.9 97.1h12.6M342.5 97.1h4.2M355.1 97.1h8.4M372.0 97.1h4.2M397.3 97.1h4.2M422.6 97.1h4.2M439.9 67.8h4.2M456.7 67.8h8.4M469.3 67.8h4.2M477.7 67.8h4.2M486.0 67.8h8.4M511.2 67.8h8.4M523.8 67.8h4.2M448.3 72.7h4.2M456.7 72.7h4.2M477.7 72.7h8.4M519.6 72.7h4.2M435.7 77.6h4.2M460.9 77.6h4.2M473.5 77.6h8.4M486.0 77.6h4.2M494.4 77.6h4.2M502.8 77.6h4.2M515.4 77.6h4.2M456.7 82.4h4.2M465.1 82.4h4.2M473.5 82.4h8.4M502.8 82.4h4.2M519.6 82.4h4.2M456.7 87.3h4.2M502.8 87.3h12.6M473.5 97.1h4.2M486.0 97.1h4.2M494.4 97.1h4.2M536.9 67.8h4.2M557.9 67.8h4.2M566.3 67.8h4.2M574.7 67.8h4.2M587.2 67.8h12.6M604.0 67.8h12.6M557.9 72.7h8.4M599.8 72.7h4.2M620.8 72.7h4.2M532.7 77.6h4.2M553.7 77.6h8.4M587.2 77.6h4.2M595.6 77.6h12.6M612.4 77.6h4.2M553.7 82.4h12.6M587.2 82.4h4.2M620.8 82.4h4.2M536.9 87.3h4.2M557.9 87.3h8.4M578.9 87.3h4.2M587.2 87.3h12.6M541.1 92.2h4.2M595.6 92.2h4.2M604.0 92.2h4.2M620.8 92.2h4.2M553.7 97.1h4.2M583.0 97.1h4.2M599.8 97.1h8.4M612.4 97.1h4.2M642.4 67.8h16.8M667.7 67.8h4.2M642.4 72.7h4.2M642.4 77.6h4.2M667.7 77.6h4.2M634.0 87.3h4.2M659.3 97.1h4.2"/>
<g font-family="Liberation Sans, Arial, sans-serif" fill="#222">
<g font-size="3.75" fill="#161616" stroke="#161616" stroke-width="0.1">
<rect x="34.2" y="62.8" width="29.6" height="2" fill="#f5d98e" stroke="none"/>
<text transform="translate(34.96,61.4) rotate(90)" text-anchor="end" textLength="18.4" lengthAdjust="spacingAndGlyphs">Endothelial</text>
<text transform="translate(39.19,61.4) rotate(90)" text-anchor="end" textLength="19.5" lengthAdjust="spacingAndGlyphs">CD8_Tcells</text>
<text transform="translate(43.42,61.4) rotate(90)" text-anchor="end" textLength="9.4" lengthAdjust="spacingAndGlyphs">CAFs</text>
<text transform="translate(47.65,61.4) rotate(90)" text-anchor="end" textLength="21.9" lengthAdjust="spacingAndGlyphs">Macrophages</text>
<text transform="translate(51.88,61.4) rotate(90)" text-anchor="end" textLength="12.4" lengthAdjust="spacingAndGlyphs">NKcells</text>
<text transform="translate(56.11,61.4) rotate(90)" text-anchor="end" textLength="19.2" lengthAdjust="spacingAndGlyphs">CD4_Tcells</text>
<text transform="translate(60.34,61.4) rotate(90)" text-anchor="end" textLength="9.4" lengthAdjust="spacingAndGlyphs">Bcells</text>
<rect x="68.1" y="62.8" width="25.4" height="2" fill="#4c9a5c" stroke="none"/>
<text transform="translate(68.87,61.4) rotate(90)" text-anchor="end" textLength="20.8" lengthAdjust="spacingAndGlyphs">Macrophage</text>
<text transform="translate(73.1,61.4) rotate(90)" text-anchor="end" textLength="10" lengthAdjust="spacingAndGlyphs">B_cell</text>
<text transform="translate(77.33,61.4) rotate(90)" text-anchor="end" textLength="18.4" lengthAdjust="spacingAndGlyphs">T_cell_CD8</text>
<text transform="translate(81.57,61.4) rotate(90)" text-anchor="end" textLength="19.2" lengthAdjust="spacingAndGlyphs">T_cell_CD4</text>
<text transform="translate(85.8,61.4) rotate(90)" text-anchor="end" textLength="5.2" lengthAdjust="spacingAndGlyphs">DC</text>
<text transform="translate(90.03,61.4) rotate(90)" text-anchor="end" textLength="16.6" lengthAdjust="spacingAndGlyphs">Neutrophil</text>
<rect x="97.9" y="62.8" width="12.8" height="2" fill="#c0583a" stroke="none"/>
<text transform="translate(98.68,61.4) rotate(90)" text-anchor="end" textLength="23.1" lengthAdjust="spacingAndGlyphs">StromalScore</text>
<text transform="translate(102.95,61.4) rotate(90)" text-anchor="end" textLength="27.9" lengthAdjust="spacingAndGlyphs">ESTIMATEScore</text>
<text transform="translate(107.22,61.4) rotate(90)" text-anchor="end" textLength="22.5" lengthAdjust="spacingAndGlyphs">ImmuneScore</text>
<rect x="115.1" y="62.8" width="41.8" height="2" fill="#8fa7b8" stroke="none"/>
<text transform="translate(115.84,61.4) rotate(90)" text-anchor="end" textLength="17.7" lengthAdjust="spacingAndGlyphs">Fibroblasts</text>
<text transform="translate(120.02,61.4) rotate(90)" text-anchor="end" textLength="21.3" lengthAdjust="spacingAndGlyphs">CD8_T_cells</text>
<text transform="translate(124.2,61.4) rotate(90)" text-anchor="end" textLength="27.3" lengthAdjust="spacingAndGlyphs">Endothelial_cells</text>
<text transform="translate(128.38,61.4) rotate(90)" text-anchor="end" textLength="38.6" lengthAdjust="spacingAndGlyphs">Myeloid_dendritic_cells</text>
<text transform="translate(132.56,61.4) rotate(90)" text-anchor="end" textLength="14.5" lengthAdjust="spacingAndGlyphs">NK_cells</text>
<text transform="translate(136.74,61.4) rotate(90)" text-anchor="end" textLength="16.5" lengthAdjust="spacingAndGlyphs">B_lineage</text>
<text transform="translate(140.92,61.4) rotate(90)" text-anchor="end" textLength="37.8" lengthAdjust="spacingAndGlyphs">Cytotoxic_lymphocytes</text>
<text transform="translate(145.1,61.4) rotate(90)" text-anchor="end" textLength="11.7" lengthAdjust="spacingAndGlyphs">T_cells</text>
<text transform="translate(149.28,61.4) rotate(90)" text-anchor="end" textLength="30.6" lengthAdjust="spacingAndGlyphs">Monocytic_lineage</text>
<text transform="translate(153.46,61.4) rotate(90)" text-anchor="end" textLength="18.5" lengthAdjust="spacingAndGlyphs">Neutrophils</text>
<rect x="161.3" y="62.8" width="269.7" height="2" fill="#e07aaa" stroke="none"/>
<text transform="translate(162.06,61.4) rotate(90)" text-anchor="end" textLength="13.6" lengthAdjust="spacingAndGlyphs">Neurons</text>
<text transform="translate(166.27,61.4) rotate(90)" text-anchor="end" textLength="20.6" lengthAdjust="spacingAndGlyphs">Melanocytes</text>
<text transform="translate(170.49,61.4) rotate(90)" text-anchor="end" textLength="17.5" lengthAdjust="spacingAndGlyphs">Adipocytes</text>
<text transform="translate(174.7,61.4) rotate(90)" text-anchor="end" textLength="7.5" lengthAdjust="spacingAndGlyphs">HSC</text>
<text transform="translate(178.91,61.4) rotate(90)" text-anchor="end" textLength="20.6" lengthAdjust="spacingAndGlyphs">Hepatocytes</text>
<text transform="translate(183.13,61.4) rotate(90)" text-anchor="end" textLength="13.6" lengthAdjust="spacingAndGlyphs">Platelets</text>
<text transform="translate(187.34,61.4) rotate(90)" text-anchor="end" textLength="26.7" lengthAdjust="spacingAndGlyphs">Skeletal muscle</text>
<text transform="translate(191.56,61.4) rotate(90)" text-anchor="end" textLength="15.3" lengthAdjust="spacingAndGlyphs">Myocytes</text>
<text transform="translate(195.77,61.4) rotate(90)" text-anchor="end" textLength="22.8" lengthAdjust="spacingAndGlyphs">Chondrocytes</text>
<text transform="translate(199.98,61.4) rotate(90)" text-anchor="end" textLength="23.4" lengthAdjust="spacingAndGlyphs">Preadipocytes</text>
<text transform="translate(204.2,61.4) rotate(90)" text-anchor="end" textLength="17.5" lengthAdjust="spacingAndGlyphs">Fibroblasts</text>
<text transform="translate(208.41,61.4) rotate(90)" text-anchor="end" textLength="16.7" lengthAdjust="spacingAndGlyphs">Astrocytes</text>
<text transform="translate(212.63,61.4) rotate(90)" text-anchor="end" textLength="8.5" lengthAdjust="spacingAndGlyphs">pDC</text>
<text transform="translate(216.84,61.4) rotate(90)" text-anchor="end" textLength="8.3" lengthAdjust="spacingAndGlyphs">aDC</text>
<text transform="translate(221.05,61.4) rotate(90)" text-anchor="end" textLength="8.5" lengthAdjust="spacingAndGlyphs">iDC</text>
<text transform="translate(225.27,61.4) rotate(90)" text-anchor="end" textLength="32.4" lengthAdjust="spacingAndGlyphs">ly Endothelial cells</text>
<text transform="translate(229.48,61.4) rotate(90)" text-anchor="end" textLength="17.5" lengthAdjust="spacingAndGlyphs">Mast cells</text>
<text transform="translate(233.7,61.4) rotate(90)" text-anchor="end" textLength="34.2" lengthAdjust="spacingAndGlyphs">CD4+ naive T-cells</text>
<text transform="translate(237.91,61.4) rotate(90)" text-anchor="end" textLength="18.8" lengthAdjust="spacingAndGlyphs">CD4+ Tem</text>
<text transform="translate(242.12,61.4) rotate(90)" text-anchor="end" textLength="26.7" lengthAdjust="spacingAndGlyphs">Megakaryocytes</text>
<text transform="translate(246.34,61.4) rotate(90)" text-anchor="end" textLength="34.2" lengthAdjust="spacingAndGlyphs">CD8+ naive T-cells</text>
<text transform="translate(250.55,61.4) rotate(90)" text-anchor="end" textLength="18.8" lengthAdjust="spacingAndGlyphs">Endothelial</text>
<text transform="translate(254.77,61.4) rotate(90)" text-anchor="end" textLength="7" lengthAdjust="spacingAndGlyphs">CLP</text>
<text transform="translate(258.98,61.4) rotate(90)" text-anchor="end" textLength="21.6" lengthAdjust="spacingAndGlyphs">Plasma cells</text>
<text transform="translate(263.19,61.4) rotate(90)" text-anchor="end" textLength="26.3" lengthAdjust="spacingAndGlyphs">Smooth muscle</text>
<text transform="translate(267.41,61.4) rotate(90)" text-anchor="end" textLength="39.4" lengthAdjust="spacingAndGlyphs">CD4+ memory T-cells</text>
<text transform="translate(271.62,61.4) rotate(90)" text-anchor="end" textLength="26.7" lengthAdjust="spacingAndGlyphs">Mesangial cells</text>
<text transform="translate(275.84,61.4) rotate(90)" text-anchor="end" textLength="18.8" lengthAdjust="spacingAndGlyphs">CD8+ Tcm</text>
<text transform="translate(280.05,61.4) rotate(90)" text-anchor="end" textLength="27.6" lengthAdjust="spacingAndGlyphs">Memory B-cells</text>
<text transform="translate(284.26,61.4) rotate(90)" text-anchor="end" textLength="22.8" lengthAdjust="spacingAndGlyphs">Keratinocytes</text>
<text transform="translate(288.48,61.4) rotate(90)" text-anchor="end" textLength="20.6" lengthAdjust="spacingAndGlyphs">Eosinophils</text>
<text transform="translate(292.69,61.4) rotate(90)" text-anchor="end" textLength="22.3" lengthAdjust="spacingAndGlyphs">Erythrocytes</text>
<text transform="translate(296.91,61.4) rotate(90)" text-anchor="end" textLength="15.3" lengthAdjust="spacingAndGlyphs">Pericytes</text>
<text transform="translate(301.12,61.4) rotate(90)" text-anchor="end" textLength="19.3" lengthAdjust="spacingAndGlyphs">CD8+ Tem</text>
<text transform="translate(305.34,61.4) rotate(90)" text-anchor="end" textLength="5.7" lengthAdjust="spacingAndGlyphs">DC</text>
<text transform="translate(309.55,61.4) rotate(90)" text-anchor="end" textLength="23.7" lengthAdjust="spacingAndGlyphs">CD8+ T-cells</text>
<text transform="translate(313.76,61.4) rotate(90)" text-anchor="end" textLength="23.7" lengthAdjust="spacingAndGlyphs">CD4+ T-cells</text>
<text transform="translate(317.98,61.4) rotate(90)" text-anchor="end" textLength="27.6" lengthAdjust="spacingAndGlyphs">Epithelial cells</text>
<text transform="translate(322.19,61.4) rotate(90)" text-anchor="end" textLength="5.3" lengthAdjust="spacingAndGlyphs">GMP</text>
<text transform="translate(326.41,61.4) rotate(90)" text-anchor="end" textLength="7" lengthAdjust="spacingAndGlyphs">CMP</text>
<text transform="translate(330.62,61.4) rotate(90)" text-anchor="end" textLength="7.4" lengthAdjust="spacingAndGlyphs">MEP</text>
<text transform="translate(334.83,61.4) rotate(90)" text-anchor="end" textLength="10.9" lengthAdjust="spacingAndGlyphs">B-cells</text>
<text transform="translate(339.05,61.4) rotate(90)" text-anchor="end" textLength="7" lengthAdjust="spacingAndGlyphs">MPP</text>
<text transform="translate(343.26,61.4) rotate(90)" text-anchor="end" textLength="14" lengthAdjust="spacingAndGlyphs">NK cells</text>
<text transform="translate(347.48,61.4) rotate(90)" text-anchor="end" textLength="18.4" lengthAdjust="spacingAndGlyphs">Basophils</text>
<text transform="translate(351.69,61.4) rotate(90)" text-anchor="end" textLength="7.4" lengthAdjust="spacingAndGlyphs">cDC</text>
<text transform="translate(355.9,61.4) rotate(90)" text-anchor="end" textLength="7.4" lengthAdjust="spacingAndGlyphs">NKT</text>
<text transform="translate(360.12,61.4) rotate(90)" text-anchor="end" textLength="15.3" lengthAdjust="spacingAndGlyphs">Th1 cells</text>
<text transform="translate(364.33,61.4) rotate(90)" text-anchor="end" textLength="16.6" lengthAdjust="spacingAndGlyphs">Th2 cells</text>
<text transform="translate(368.55,61.4) rotate(90)" text-anchor="end" textLength="24.1" lengthAdjust="spacingAndGlyphs">Macrophages</text>
<text transform="translate(372.76,61.4) rotate(90)" text-anchor="end" textLength="21.9" lengthAdjust="spacingAndGlyphs">Neutrophils</text>
<text transform="translate(376.97,61.4) rotate(90)" text-anchor="end" textLength="18.4" lengthAdjust="spacingAndGlyphs">CD4+ Tcm</text>
<text transform="translate(381.19,61.4) rotate(90)" text-anchor="end" textLength="14" lengthAdjust="spacingAndGlyphs">Sebocytes</text>
<text transform="translate(385.4,61.4) rotate(90)" text-anchor="end" textLength="17.5" lengthAdjust="spacingAndGlyphs">Monocytes</text>
<text transform="translate(389.62,61.4) rotate(90)" text-anchor="end" textLength="29.3" lengthAdjust="spacingAndGlyphs">Macrophages M2</text>
<text transform="translate(393.83,61.4) rotate(90)" text-anchor="end" textLength="7.4" lengthAdjust="spacingAndGlyphs">MSC</text>
<text transform="translate(398.04,61.4) rotate(90)" text-anchor="end" textLength="35.5" lengthAdjust="spacingAndGlyphs">mv Endothelial cells</text>
<text transform="translate(402.26,61.4) rotate(90)" text-anchor="end" textLength="55.6" lengthAdjust="spacingAndGlyphs">Class-switched memory B-cells</text>
<text transform="translate(406.47,61.4) rotate(90)" text-anchor="end" textLength="29.3" lengthAdjust="spacingAndGlyphs">Macrophages M1</text>
<text transform="translate(410.69,61.4) rotate(90)" text-anchor="end" textLength="17.1" lengthAdjust="spacingAndGlyphs">Osteoblast</text>
<text transform="translate(414.9,61.4) rotate(90)" text-anchor="end" textLength="15.8" lengthAdjust="spacingAndGlyphs">Tgd cells</text>
<text transform="translate(419.11,61.4) rotate(90)" text-anchor="end" textLength="7.9" lengthAdjust="spacingAndGlyphs">Tregs</text>
<text transform="translate(423.33,61.4) rotate(90)" text-anchor="end" textLength="15.3" lengthAdjust="spacingAndGlyphs">naive B-cells</text>
<text transform="translate(427.54,61.4) rotate(90)" text-anchor="end" textLength="18.4" lengthAdjust="spacingAndGlyphs">pro B-cells</text>
<rect x="435.7" y="62.8" width="92.3" height="2" fill="#e49a3e" stroke="none"/>
<text transform="translate(436.45,61.4) rotate(90)" text-anchor="end" textLength="36" lengthAdjust="spacingAndGlyphs">T_cells_gamma_delta</text>
<text transform="translate(440.64,61.4) rotate(90)" text-anchor="end" textLength="22.4" lengthAdjust="spacingAndGlyphs">B_cells_naive</text>
<text transform="translate(444.84,61.4) rotate(90)" text-anchor="end" textLength="21.6" lengthAdjust="spacingAndGlyphs">Plasma_cells</text>
<text transform="translate(449.03,61.4) rotate(90)" text-anchor="end" textLength="30.3" lengthAdjust="spacingAndGlyphs">Mast_cells_resting</text>
<text transform="translate(453.23,61.4) rotate(90)" text-anchor="end" textLength="50" lengthAdjust="spacingAndGlyphs">T_cells_CD4_memory_resting</text>
<text transform="translate(457.42,61.4) rotate(90)" text-anchor="end" textLength="39.5" lengthAdjust="spacingAndGlyphs">T_cells_follicular_helper</text>
<text transform="translate(461.62,61.4) rotate(90)" text-anchor="end" textLength="29.4" lengthAdjust="spacingAndGlyphs">Macrophages_M0</text>
<text transform="translate(465.82,61.4) rotate(90)" text-anchor="end" textLength="29.4" lengthAdjust="spacingAndGlyphs">Macrophages_M1</text>
<text transform="translate(470.01,61.4) rotate(90)" text-anchor="end" textLength="37.3" lengthAdjust="spacingAndGlyphs">Dendritic_cells_resting</text>
<text transform="translate(474.21,61.4) rotate(90)" text-anchor="end" textLength="27.2" lengthAdjust="spacingAndGlyphs">B_cells_memory</text>
<text transform="translate(478.4,61.4) rotate(90)" text-anchor="end" textLength="53.5" lengthAdjust="spacingAndGlyphs">T_cells_CD4_memory_activated</text>
<text transform="translate(482.6,61.4) rotate(90)" text-anchor="end" textLength="21.1" lengthAdjust="spacingAndGlyphs">T_cells_CD8</text>
<text transform="translate(486.79,61.4) rotate(90)" text-anchor="end" textLength="43" lengthAdjust="spacingAndGlyphs">T_cells_regulatory_(Tregs)</text>
<text transform="translate(490.99,61.4) rotate(90)" text-anchor="end" textLength="43.3" lengthAdjust="spacingAndGlyphs">T_cells_CD4_naive_cells</text>
<text transform="translate(495.18,61.4) rotate(90)" text-anchor="end" textLength="34.2" lengthAdjust="spacingAndGlyphs">Mast_cells_activated</text>
<text transform="translate(499.38,61.4) rotate(90)" text-anchor="end" textLength="29.3" lengthAdjust="spacingAndGlyphs">Macrophages_M2</text>
<text transform="translate(503.57,61.4) rotate(90)" text-anchor="end" textLength="31.1" lengthAdjust="spacingAndGlyphs">NK_cells_activated</text>
<text transform="translate(507.77,61.4) rotate(90)" text-anchor="end" textLength="31.1" lengthAdjust="spacingAndGlyphs">Dendritic_cells_act</text>
<text transform="translate(511.97,61.4) rotate(90)" text-anchor="end" textLength="18.4" lengthAdjust="spacingAndGlyphs">Eosinophils</text>
<text transform="translate(516.16,61.4) rotate(90)" text-anchor="end" textLength="17.5" lengthAdjust="spacingAndGlyphs">Monocytes</text>
<text transform="translate(520.36,61.4) rotate(90)" text-anchor="end" textLength="18" lengthAdjust="spacingAndGlyphs">Neutrophils</text>
<text transform="translate(524.55,61.4) rotate(90)" text-anchor="end" textLength="27.1" lengthAdjust="spacingAndGlyphs">NK_cells_resting</text>
<rect x="532.7" y="62.8" width="92.3" height="2" fill="#4a74b8" stroke="none"/>
<text transform="translate(533.45,61.4) rotate(90)" text-anchor="end" textLength="35.5" lengthAdjust="spacingAndGlyphs">T_cells_gamma_delta</text>
<text transform="translate(537.64,61.4) rotate(90)" text-anchor="end" textLength="22.3" lengthAdjust="spacingAndGlyphs">B_cells_naive</text>
<text transform="translate(541.84,61.4) rotate(90)" text-anchor="end" textLength="21.5" lengthAdjust="spacingAndGlyphs">Plasma_cells</text>
<text transform="translate(546.03,61.4) rotate(90)" text-anchor="end" textLength="50" lengthAdjust="spacingAndGlyphs">T_cells_CD4_memory_resting</text>
<text transform="translate(550.23,61.4) rotate(90)" text-anchor="end" textLength="30.7" lengthAdjust="spacingAndGlyphs">Mast_cells_resting</text>
<text transform="translate(554.43,61.4) rotate(90)" text-anchor="end" textLength="27.6" lengthAdjust="spacingAndGlyphs">B_cells_memory</text>
<text transform="translate(558.62,61.4) rotate(90)" text-anchor="end" textLength="53.4" lengthAdjust="spacingAndGlyphs">T_cells_CD4_memory_activated</text>
<text transform="translate(562.82,61.4) rotate(90)" text-anchor="end" textLength="39.4" lengthAdjust="spacingAndGlyphs">T_cells_follicular_helper</text>
<text transform="translate(567.01,61.4) rotate(90)" text-anchor="end" textLength="29.3" lengthAdjust="spacingAndGlyphs">Macrophages_M0</text>
<text transform="translate(571.21,61.4) rotate(90)" text-anchor="end" textLength="29.3" lengthAdjust="spacingAndGlyphs">Macrophages_M1</text>
<text transform="translate(575.4,61.4) rotate(90)" text-anchor="end" textLength="37.2" lengthAdjust="spacingAndGlyphs">Dendritic_cells_resting</text>
<text transform="translate(579.6,61.4) rotate(90)" text-anchor="end" textLength="21" lengthAdjust="spacingAndGlyphs">T_cells_CD8</text>
<text transform="translate(583.79,61.4) rotate(90)" text-anchor="end" textLength="29.3" lengthAdjust="spacingAndGlyphs">Macrophages_M2</text>
<text transform="translate(587.99,61.4) rotate(90)" text-anchor="end" textLength="30.5" lengthAdjust="spacingAndGlyphs">NK_cells_activated</text>
<text transform="translate(592.18,61.4) rotate(90)" text-anchor="end" textLength="19" lengthAdjust="spacingAndGlyphs">Eosinophils</text>
<text transform="translate(596.38,61.4) rotate(90)" text-anchor="end" textLength="17.5" lengthAdjust="spacingAndGlyphs">Monocytes</text>
<text transform="translate(600.57,61.4) rotate(90)" text-anchor="end" textLength="30.6" lengthAdjust="spacingAndGlyphs">Dendritic_cells_act</text>
<text transform="translate(604.77,61.4) rotate(90)" text-anchor="end" textLength="40.9" lengthAdjust="spacingAndGlyphs">T_cells_CD4_naive_cells</text>
<text transform="translate(608.97,61.4) rotate(90)" text-anchor="end" textLength="43.8" lengthAdjust="spacingAndGlyphs">T_cells_regulatory_(Tregs)</text>
<text transform="translate(613.16,61.4) rotate(90)" text-anchor="end" textLength="34.3" lengthAdjust="spacingAndGlyphs">Mast_cells_activated</text>
<text transform="translate(617.36,61.4) rotate(90)" text-anchor="end" textLength="27" lengthAdjust="spacingAndGlyphs">NK_cells_resting</text>
<text transform="translate(621.55,61.4) rotate(90)" text-anchor="end" textLength="18.2" lengthAdjust="spacingAndGlyphs">Neutrophils</text>
<rect x="629.8" y="62.8" width="42.1" height="2" fill="#8e86c6" stroke="none"/>
<text transform="translate(630.55,61.4) rotate(90)" text-anchor="end" textLength="19" lengthAdjust="spacingAndGlyphs">T_cells_CD8</text>
<text transform="translate(634.76,61.4) rotate(90)" text-anchor="end" textLength="29.2" lengthAdjust="spacingAndGlyphs">Macrophages_M1</text>
<text transform="translate(638.97,61.4) rotate(90)" text-anchor="end" textLength="24.1" lengthAdjust="spacingAndGlyphs">Dendritic_cells</text>
<text transform="translate(643.18,61.4) rotate(90)" text-anchor="end" textLength="10.9" lengthAdjust="spacingAndGlyphs">B_cells</text>
<text transform="translate(647.39,61.4) rotate(90)" text-anchor="end" textLength="13.9" lengthAdjust="spacingAndGlyphs">NK_cells</text>
<text transform="translate(651.6,61.4) rotate(90)" text-anchor="end" textLength="19.7" lengthAdjust="spacingAndGlyphs">T_cells_CD4</text>
<text transform="translate(655.81,61.4) rotate(90)" text-anchor="end" textLength="16.8" lengthAdjust="spacingAndGlyphs">Neutrophils</text>
<text transform="translate(660.02,61.4) rotate(90)" text-anchor="end" textLength="8.7" lengthAdjust="spacingAndGlyphs">Tregs</text>
<text transform="translate(664.24,61.4) rotate(90)" text-anchor="end" textLength="18.2" lengthAdjust="spacingAndGlyphs">Monocytes</text>
<text transform="translate(668.44,61.4) rotate(90)" text-anchor="end" textLength="29.2" lengthAdjust="spacingAndGlyphs">Macrophages_M2</text>
</g>
<text x="33.2" y="69.19" font-size="3.7" text-anchor="end" stroke="#222" stroke-width="0.08">TCGA_HNSC</text>
<text x="33.2" y="74.06" font-size="3.7" text-anchor="end" stroke="#222" stroke-width="0.08">GSE117973</text>
<text x="33.2" y="78.92" font-size="3.7" text-anchor="end" stroke="#222" stroke-width="0.08">GSE65858</text>
<text x="33.2" y="83.8" font-size="3.7" text-anchor="end" stroke="#222" stroke-width="0.08">GSE84713</text>
<text x="33.2" y="88.66" font-size="3.7" text-anchor="end" stroke="#222" stroke-width="0.08">GSE41613</text>
<text x="33.2" y="93.53" font-size="3.7" text-anchor="end" stroke="#222" stroke-width="0.08">GSE42743</text>
<text x="33.2" y="98.41" font-size="3.7" text-anchor="end" stroke="#222" stroke-width="0.08">GSE75538</text>
<path d="M672.5 67.84H677V72.71H672.5 M677 70.27H679V77.58H672.5 M672.5 87.31H676.5V92.19H672.5 M676.5 89.75H678.5V82.45H672.5 M679 73.92H681V86.1H678.5 M681 80H683.5V97.06H672.5" fill="none" stroke="#888" stroke-width="0.6"/>
<g font-size="3.75" fill="#161616" stroke="#161616" stroke-width="0.1">
<rect x="36.2" y="173.1" width="73.3" height="2" fill="#8c88c9" stroke="none"/>
<text transform="translate(37.01,172.2) rotate(90)" text-anchor="end" textLength="9" lengthAdjust="spacingAndGlyphs">CD80</text>
<text transform="translate(41.32,172.2) rotate(90)" text-anchor="end" textLength="11.4" lengthAdjust="spacingAndGlyphs">CD160</text>
<text transform="translate(45.63,172.2) rotate(90)" text-anchor="end" textLength="9.6" lengthAdjust="spacingAndGlyphs">CD28</text>
<text transform="translate(49.94,172.2) rotate(90)" text-anchor="end" textLength="9.6" lengthAdjust="spacingAndGlyphs">CD86</text>
<text transform="translate(54.25,172.2) rotate(90)" text-anchor="end" textLength="11.7" lengthAdjust="spacingAndGlyphs">CD276</text>
<text transform="translate(58.56,172.2) rotate(90)" text-anchor="end" textLength="9.6" lengthAdjust="spacingAndGlyphs">CD70</text>
<text transform="translate(62.88,172.2) rotate(90)" text-anchor="end" textLength="11.7" lengthAdjust="spacingAndGlyphs">CD200</text>
<text transform="translate(67.19,172.2) rotate(90)" text-anchor="end" textLength="9.8" lengthAdjust="spacingAndGlyphs">CD40</text>
<text transform="translate(71.5,172.2) rotate(90)" text-anchor="end" textLength="11.7" lengthAdjust="spacingAndGlyphs">CD244</text>
<text transform="translate(75.81,172.2) rotate(90)" text-anchor="end" textLength="9.8" lengthAdjust="spacingAndGlyphs">CD48</text>
<text transform="translate(80.12,172.2) rotate(90)" text-anchor="end" textLength="9.8" lengthAdjust="spacingAndGlyphs">CD27</text>
<text transform="translate(84.44,172.2) rotate(90)" text-anchor="end" textLength="9.8" lengthAdjust="spacingAndGlyphs">CD44</text>
<text transform="translate(88.75,172.2) rotate(90)" text-anchor="end" textLength="13.7" lengthAdjust="spacingAndGlyphs">CD200R1</text>
<text transform="translate(93.06,172.2) rotate(90)" text-anchor="end" textLength="11.7" lengthAdjust="spacingAndGlyphs">CD274</text>
<text transform="translate(97.37,172.2) rotate(90)" text-anchor="end" textLength="9.8" lengthAdjust="spacingAndGlyphs">CD96</text>
<text transform="translate(101.68,172.2) rotate(90)" text-anchor="end" textLength="9.6" lengthAdjust="spacingAndGlyphs">CD84</text>
<text transform="translate(105.99,172.2) rotate(90)" text-anchor="end" textLength="11.7" lengthAdjust="spacingAndGlyphs">CD160</text>
<rect x="114.1" y="173.1" width="98.9" height="2" fill="#4070b6" stroke="none"/>
<text transform="translate(114.9,172.2) rotate(90)" text-anchor="end" textLength="12.6" lengthAdjust="spacingAndGlyphs">VTCN1</text>
<text transform="translate(119.2,172.2) rotate(90)" text-anchor="end" textLength="15.3" lengthAdjust="spacingAndGlyphs">KIR2DL1</text>
<text transform="translate(123.5,172.2) rotate(90)" text-anchor="end" textLength="9.5" lengthAdjust="spacingAndGlyphs">CD96</text>
<text transform="translate(127.8,172.2) rotate(90)" text-anchor="end" textLength="11.5" lengthAdjust="spacingAndGlyphs">LAG3</text>
<text transform="translate(132.1,172.2) rotate(90)" text-anchor="end" textLength="11.5" lengthAdjust="spacingAndGlyphs">CTLA4</text>
<text transform="translate(136.4,172.2) rotate(90)" text-anchor="end" textLength="7.7" lengthAdjust="spacingAndGlyphs">KDR</text>
<text transform="translate(140.7,172.2) rotate(90)" text-anchor="end" textLength="7.7" lengthAdjust="spacingAndGlyphs">IL10</text>
<text transform="translate(145,172.2) rotate(90)" text-anchor="end" textLength="12.6" lengthAdjust="spacingAndGlyphs">PDCD1</text>
<text transform="translate(149.3,172.2) rotate(90)" text-anchor="end" textLength="19.2" lengthAdjust="spacingAndGlyphs">PDCD1LG2</text>
<text transform="translate(153.6,172.2) rotate(90)" text-anchor="end" textLength="11.5" lengthAdjust="spacingAndGlyphs">TIGIT</text>
<text transform="translate(157.9,172.2) rotate(90)" text-anchor="end" textLength="15" lengthAdjust="spacingAndGlyphs">TGFBR1</text>
<text transform="translate(162.2,172.2) rotate(90)" text-anchor="end" textLength="14.1" lengthAdjust="spacingAndGlyphs">HAVCR2</text>
<text transform="translate(166.5,172.2) rotate(90)" text-anchor="end" textLength="9.2" lengthAdjust="spacingAndGlyphs">CSF1R</text>
<text transform="translate(170.8,172.2) rotate(90)" text-anchor="end" textLength="11.5" lengthAdjust="spacingAndGlyphs">BTLA</text>
<text transform="translate(175.1,172.2) rotate(90)" text-anchor="end" textLength="14.6" lengthAdjust="spacingAndGlyphs">LGALS9</text>
<text transform="translate(179.4,172.2) rotate(90)" text-anchor="end" textLength="12.3" lengthAdjust="spacingAndGlyphs">IL10RB</text>
<text transform="translate(183.7,172.2) rotate(90)" text-anchor="end" textLength="9.2" lengthAdjust="spacingAndGlyphs">IDO1</text>
<text transform="translate(188,172.2) rotate(90)" text-anchor="end" textLength="12.3" lengthAdjust="spacingAndGlyphs">CD274</text>
<text transform="translate(192.3,172.2) rotate(90)" text-anchor="end" textLength="9.2" lengthAdjust="spacingAndGlyphs">TGFB1</text>
<text transform="translate(196.6,172.2) rotate(90)" text-anchor="end" textLength="8.4" lengthAdjust="spacingAndGlyphs">PVRL2</text>
<text transform="translate(200.9,172.2) rotate(90)" text-anchor="end" textLength="17.6" lengthAdjust="spacingAndGlyphs">ADORA2A</text>
<text transform="translate(205.2,172.2) rotate(90)" text-anchor="end" textLength="14.1" lengthAdjust="spacingAndGlyphs">KIR2DL3</text>
<text transform="translate(209.5,172.2) rotate(90)" text-anchor="end" textLength="14.1" lengthAdjust="spacingAndGlyphs">TGFBR2</text>
<rect x="217.8" y="173.1" width="190.1" height="2" fill="#e69a3c" stroke="none"/>
<text transform="translate(218.61,172.2) rotate(90)" text-anchor="end" textLength="15" lengthAdjust="spacingAndGlyphs">CXCL12</text>
<text transform="translate(222.93,172.2) rotate(90)" text-anchor="end" textLength="14.1" lengthAdjust="spacingAndGlyphs">TNFSF4</text>
<text transform="translate(227.25,172.2) rotate(90)" text-anchor="end" textLength="18.9" lengthAdjust="spacingAndGlyphs">TNFRSF17</text>
<text transform="translate(231.57,172.2) rotate(90)" text-anchor="end" textLength="15.3" lengthAdjust="spacingAndGlyphs">ENTPD1</text>
<text transform="translate(235.89,172.2) rotate(90)" text-anchor="end" textLength="18.9" lengthAdjust="spacingAndGlyphs">TNFRSF14</text>
<text transform="translate(240.21,172.2) rotate(90)" text-anchor="end" textLength="12.4" lengthAdjust="spacingAndGlyphs">HHLA2</text>
<text transform="translate(244.53,172.2) rotate(90)" text-anchor="end" textLength="12.4" lengthAdjust="spacingAndGlyphs">ULBP1</text>
<text transform="translate(248.85,172.2) rotate(90)" text-anchor="end" textLength="16" lengthAdjust="spacingAndGlyphs">TNFSF14</text>
<text transform="translate(253.17,172.2) rotate(90)" text-anchor="end" textLength="5.8" lengthAdjust="spacingAndGlyphs">IL6</text>
<text transform="translate(257.49,172.2) rotate(90)" text-anchor="end" textLength="14.1" lengthAdjust="spacingAndGlyphs">TMIGD2</text>
<text transform="translate(261.81,172.2) rotate(90)" text-anchor="end" textLength="10.9" lengthAdjust="spacingAndGlyphs">CD70</text>
<text transform="translate(266.14,172.2) rotate(90)" text-anchor="end" textLength="13.1" lengthAdjust="spacingAndGlyphs">CD276</text>
<text transform="translate(270.46,172.2) rotate(90)" text-anchor="end" textLength="21.8" lengthAdjust="spacingAndGlyphs">TNFRSF13C</text>
<text transform="translate(274.78,172.2) rotate(90)" text-anchor="end" textLength="12.4" lengthAdjust="spacingAndGlyphs">BTN2A1</text>
<text transform="translate(279.1,172.2) rotate(90)" text-anchor="end" textLength="9.4" lengthAdjust="spacingAndGlyphs">CD86</text>
<text transform="translate(283.42,172.2) rotate(90)" text-anchor="end" textLength="16" lengthAdjust="spacingAndGlyphs">ENTPD1</text>
<text transform="translate(287.74,172.2) rotate(90)" text-anchor="end" textLength="18.2" lengthAdjust="spacingAndGlyphs">TNFSF13</text>
<text transform="translate(292.06,172.2) rotate(90)" text-anchor="end" textLength="18.9" lengthAdjust="spacingAndGlyphs">TNFSF13B</text>
<text transform="translate(296.38,172.2) rotate(90)" text-anchor="end" textLength="10.9" lengthAdjust="spacingAndGlyphs">IL2RA</text>
<text transform="translate(300.7,172.2) rotate(90)" text-anchor="end" textLength="16.4" lengthAdjust="spacingAndGlyphs">TNFSF15</text>
<text transform="translate(305.02,172.2) rotate(90)" text-anchor="end" textLength="14.6" lengthAdjust="spacingAndGlyphs">ICOSLG</text>
<text transform="translate(309.34,172.2) rotate(90)" text-anchor="end" textLength="12.4" lengthAdjust="spacingAndGlyphs">CD27</text>
<text transform="translate(313.66,172.2) rotate(90)" text-anchor="end" textLength="10.9" lengthAdjust="spacingAndGlyphs">CD28</text>
<text transform="translate(317.98,172.2) rotate(90)" text-anchor="end" textLength="21.8" lengthAdjust="spacingAndGlyphs">TNFRSF13B</text>
<text transform="translate(322.3,172.2) rotate(90)" text-anchor="end" textLength="15.3" lengthAdjust="spacingAndGlyphs">CD40LG</text>
<text transform="translate(326.62,172.2) rotate(90)" text-anchor="end" textLength="18.9" lengthAdjust="spacingAndGlyphs">TNFRSF18</text>
<text transform="translate(330.94,172.2) rotate(90)" text-anchor="end" textLength="13.1" lengthAdjust="spacingAndGlyphs">TNFSF9</text>
<text transform="translate(335.26,172.2) rotate(90)" text-anchor="end" textLength="16.8" lengthAdjust="spacingAndGlyphs">TNFRSF25</text>
<text transform="translate(339.58,172.2) rotate(90)" text-anchor="end" textLength="14.6" lengthAdjust="spacingAndGlyphs">NT5E</text>
<text transform="translate(343.9,172.2) rotate(90)" text-anchor="end" textLength="10.2" lengthAdjust="spacingAndGlyphs">CD40</text>
<text transform="translate(348.22,172.2) rotate(90)" text-anchor="end" textLength="10.2" lengthAdjust="spacingAndGlyphs">CD80</text>
<text transform="translate(352.54,172.2) rotate(90)" text-anchor="end" textLength="10.2" lengthAdjust="spacingAndGlyphs">CD48</text>
<text transform="translate(356.86,172.2) rotate(90)" text-anchor="end" textLength="10.2" lengthAdjust="spacingAndGlyphs">CD86</text>
<text transform="translate(361.19,172.2) rotate(90)" text-anchor="end" textLength="10.2" lengthAdjust="spacingAndGlyphs">CD96</text>
<text transform="translate(365.51,172.2) rotate(90)" text-anchor="end" textLength="18.9" lengthAdjust="spacingAndGlyphs">TNFRSF8</text>
<text transform="translate(369.83,172.2) rotate(90)" text-anchor="end" textLength="8.7" lengthAdjust="spacingAndGlyphs">PVR</text>
<text transform="translate(374.15,172.2) rotate(90)" text-anchor="end" textLength="11.6" lengthAdjust="spacingAndGlyphs">ICOS</text>
<text transform="translate(378.47,172.2) rotate(90)" text-anchor="end" textLength="16" lengthAdjust="spacingAndGlyphs">TNFSF18</text>
<text transform="translate(382.79,172.2) rotate(90)" text-anchor="end" textLength="7.3" lengthAdjust="spacingAndGlyphs">IL6R</text>
<text transform="translate(387.11,172.2) rotate(90)" text-anchor="end" textLength="17" lengthAdjust="spacingAndGlyphs">TNFRSF9</text>
<text transform="translate(391.43,172.2) rotate(90)" text-anchor="end" textLength="9.4" lengthAdjust="spacingAndGlyphs">KDR</text>
<text transform="translate(395.75,172.2) rotate(90)" text-anchor="end" textLength="17" lengthAdjust="spacingAndGlyphs">TNFRSF4</text>
<text transform="translate(400.07,172.2) rotate(90)" text-anchor="end" textLength="10.2" lengthAdjust="spacingAndGlyphs">CD28</text>
<text transform="translate(404.39,172.2) rotate(90)" text-anchor="end" textLength="10.2" lengthAdjust="spacingAndGlyphs">CD44</text>
<rect x="412.2" y="173.1" width="172.8" height="2" fill="#4c9a5c" stroke="none"/>
<text transform="translate(413.01,172.2) rotate(90)" text-anchor="end">CCL1</text>
<text transform="translate(417.33,172.2) rotate(90)" text-anchor="end">CCL11</text>
<text transform="translate(421.65,172.2) rotate(90)" text-anchor="end">CCL13</text>
<text transform="translate(425.97,172.2) rotate(90)" text-anchor="end">CCL2</text>
<text transform="translate(430.29,172.2) rotate(90)" text-anchor="end">CCL14</text>
<text transform="translate(434.61,172.2) rotate(90)" text-anchor="end">CCL15</text>
<text transform="translate(438.93,172.2) rotate(90)" text-anchor="end">CCL16</text>
<text transform="translate(443.25,172.2) rotate(90)" text-anchor="end">CCL17</text>
<text transform="translate(447.57,172.2) rotate(90)" text-anchor="end">CCL18</text>
<text transform="translate(451.89,172.2) rotate(90)" text-anchor="end">CCL19</text>
<text transform="translate(456.21,172.2) rotate(90)" text-anchor="end">CCL20</text>
<text transform="translate(460.53,172.2) rotate(90)" text-anchor="end">CCL21</text>
<text transform="translate(464.85,172.2) rotate(90)" text-anchor="end">CCL22</text>
<text transform="translate(469.17,172.2) rotate(90)" text-anchor="end">CCL23</text>
<text transform="translate(473.49,172.2) rotate(90)" text-anchor="end">CCL24</text>
<text transform="translate(477.81,172.2) rotate(90)" text-anchor="end">CCL25</text>
<text transform="translate(482.13,172.2) rotate(90)" text-anchor="end">CCL3</text>
<text transform="translate(486.45,172.2) rotate(90)" text-anchor="end">CCL26</text>
<text transform="translate(490.77,172.2) rotate(90)" text-anchor="end">CCL4</text>
<text transform="translate(495.09,172.2) rotate(90)" text-anchor="end">CCL27</text>
<text transform="translate(499.41,172.2) rotate(90)" text-anchor="end">CCL28</text>
<text transform="translate(503.73,172.2) rotate(90)" text-anchor="end">CCL5</text>
<text transform="translate(508.05,172.2) rotate(90)" text-anchor="end">CCL7</text>
<text transform="translate(512.37,172.2) rotate(90)" text-anchor="end">CCL8</text>
<text transform="translate(516.69,172.2) rotate(90)" text-anchor="end">CXCL1</text>
<text transform="translate(521.01,172.2) rotate(90)" text-anchor="end">CXCL2</text>
<text transform="translate(525.33,172.2) rotate(90)" text-anchor="end">CXCL3</text>
<text transform="translate(529.65,172.2) rotate(90)" text-anchor="end">CXCL5</text>
<text transform="translate(533.97,172.2) rotate(90)" text-anchor="end">CXCL6</text>
<text transform="translate(538.29,172.2) rotate(90)" text-anchor="end">CXCL8</text>
<text transform="translate(542.61,172.2) rotate(90)" text-anchor="end">CXCL9</text>
<text transform="translate(546.93,172.2) rotate(90)" text-anchor="end">CXCL10</text>
<text transform="translate(551.25,172.2) rotate(90)" text-anchor="end">CXCL11</text>
<text transform="translate(555.57,172.2) rotate(90)" text-anchor="end">CXCL12</text>
<text transform="translate(559.89,172.2) rotate(90)" text-anchor="end">CXCL13</text>
<text transform="translate(564.21,172.2) rotate(90)" text-anchor="end">CXCL14</text>
<text transform="translate(568.53,172.2) rotate(90)" text-anchor="end">CXCL16</text>
<text transform="translate(572.85,172.2) rotate(90)" text-anchor="end">CXCL17</text>
<text transform="translate(577.17,172.2) rotate(90)" text-anchor="end">CX3CL1</text>
<text transform="translate(581.49,172.2) rotate(90)" text-anchor="end">XCL1</text>
<rect x="589.6" y="173.1" width="90.4" height="2" fill="#c65a3a" stroke="none"/>
<text transform="translate(590.4,172.2) rotate(90)" text-anchor="end">HLA-DOA</text>
<text transform="translate(594.71,172.2) rotate(90)" text-anchor="end">HLA-DOB</text>
<text transform="translate(599.01,172.2) rotate(90)" text-anchor="end">HLA-DMA</text>
<text transform="translate(603.32,172.2) rotate(90)" text-anchor="end">HLA-DMB</text>
<text transform="translate(607.62,172.2) rotate(90)" text-anchor="end">HLA-DPA1</text>
<text transform="translate(611.93,172.2) rotate(90)" text-anchor="end">HLA-DPB1</text>
<text transform="translate(616.23,172.2) rotate(90)" text-anchor="end">HLA-DRA</text>
<text transform="translate(620.54,172.2) rotate(90)" text-anchor="end">HLA-DPB2</text>
<text transform="translate(624.84,172.2) rotate(90)" text-anchor="end">HLA-DQA1</text>
<text transform="translate(629.15,172.2) rotate(90)" text-anchor="end">TAP1</text>
<text transform="translate(633.45,172.2) rotate(90)" text-anchor="end">HLA-DQB1</text>
<text transform="translate(637.75,172.2) rotate(90)" text-anchor="end">HLA-DQA2</text>
<text transform="translate(642.06,172.2) rotate(90)" text-anchor="end">HLA-DRB1</text>
<text transform="translate(646.36,172.2) rotate(90)" text-anchor="end">HLA-A</text>
<text transform="translate(650.67,172.2) rotate(90)" text-anchor="end">HLA-B</text>
<text transform="translate(654.97,172.2) rotate(90)" text-anchor="end">HLA-C</text>
<text transform="translate(659.28,172.2) rotate(90)" text-anchor="end">HLA-E</text>
<text transform="translate(663.58,172.2) rotate(90)" text-anchor="end">HLA-F</text>
<text transform="translate(667.89,172.2) rotate(90)" text-anchor="end">HLA-G</text>
<text transform="translate(672.19,172.2) rotate(90)" text-anchor="end">TAPBP</text>
<text transform="translate(676.5,172.2) rotate(90)" text-anchor="end">TAP2</text>
</g>
<text x="35.2" y="179.52" font-size="3.7" text-anchor="end" stroke="#222" stroke-width="0.08">TCGA_HNSC</text>
<text x="35.2" y="184.46" font-size="3.7" text-anchor="end" stroke="#222" stroke-width="0.08">GSE117973</text>
<text x="35.2" y="189.4" font-size="3.7" text-anchor="end" stroke="#222" stroke-width="0.08">GSE65858</text>
<text x="35.2" y="194.34" font-size="3.7" text-anchor="end" stroke="#222" stroke-width="0.08">GSE41613</text>
<text x="35.2" y="199.28" font-size="3.7" text-anchor="end" stroke="#222" stroke-width="0.08">GSE42743</text>
<text x="35.2" y="204.22" font-size="3.7" text-anchor="end" stroke="#222" stroke-width="0.08">GSE84713</text>
<text x="35.2" y="209.16" font-size="3.7" text-anchor="end" stroke="#222" stroke-width="0.08">E_MTAB_8588</text>
<text x="35.2" y="214.1" font-size="3.7" text-anchor="end" stroke="#222" stroke-width="0.08">GSE75538</text>
<rect x="681.5" y="177.87" width="2" height="0.6" fill="#666"/>
<rect x="681.5" y="182.81" width="2" height="0.6" fill="#666"/>
<rect x="681.5" y="187.75" width="2" height="0.6" fill="#666"/>
<rect x="681.5" y="192.69" width="2" height="0.6" fill="#666"/>
<rect x="681.5" y="197.63" width="2" height="0.6" fill="#666"/>
<rect x="681.5" y="202.57" width="2" height="0.6" fill="#666"/>
<rect x="681.5" y="207.51" width="2" height="0.6" fill="#666"/>
<rect x="681.5" y="212.45" width="2" height="0.6" fill="#666"/>
<rect x="323.3" y="101.2" width="19.6" height="3.3" fill="url(#lg)"/>
<text transform="translate(323.3,105.3) rotate(90)" font-size="3">-1</text>
<text transform="translate(327.7,105.3) rotate(90)" font-size="3">-0.5</text>
<text transform="translate(332.1,105.3) rotate(90)" font-size="3">0</text>
<text transform="translate(336.5,105.3) rotate(90)" font-size="3">0.5</text>
<text transform="translate(340.9,105.3) rotate(90)" font-size="3">1</text>
<text transform="translate(344.1,101.2) rotate(90)" font-size="3.2" font-weight="bold" textLength="16.4" lengthAdjust="spacingAndGlyphs">Correlation</text>
<rect x="350.2" y="101.2" width="2.9" height="3.3" fill="#e07aaa"/>
<rect x="353.8" y="101.2" width="2.9" height="3.3" fill="#4c9a5c"/>
<rect x="357.4" y="101.2" width="2.9" height="3.3" fill="#8e86c6"/>
<rect x="361" y="101.2" width="2.9" height="3.3" fill="#8fa7b8"/>
<rect x="364.6" y="101.2" width="2.9" height="3.3" fill="#c0583a"/>
<rect x="368.2" y="101.2" width="2.9" height="3.3" fill="#f5d98e"/>
<rect x="371.8" y="101.2" width="2.9" height="3.3" fill="#e49a3e"/>
<rect x="375.4" y="101.2" width="2.9" height="3.3" fill="#4a74b8"/>
<text transform="translate(350.6,105.4) rotate(90)" font-size="3.1" stroke="#222" stroke-width="0.08" textLength="7.2" lengthAdjust="spacingAndGlyphs">XCELL</text>
<text transform="translate(354.2,105.4) rotate(90)" font-size="3.1" stroke="#222" stroke-width="0.08" textLength="10.5" lengthAdjust="spacingAndGlyphs">TIMER</text>
<text transform="translate(357.8,105.4) rotate(90)" font-size="3.1" stroke="#222" stroke-width="0.08" textLength="14.9" lengthAdjust="spacingAndGlyphs">QUANTISEQ</text>
<text transform="translate(361.4,105.4) rotate(90)" font-size="3.1" stroke="#222" stroke-width="0.08" textLength="17.8" lengthAdjust="spacingAndGlyphs">MCPCOUNTER</text>
<text transform="translate(365,105.4) rotate(90)" font-size="3.1" stroke="#222" stroke-width="0.08" textLength="15.6" lengthAdjust="spacingAndGlyphs">ESTIMATE</text>
<text transform="translate(368.6,105.4) rotate(90)" font-size="3.1" stroke="#222" stroke-width="0.08" textLength="6.9" lengthAdjust="spacingAndGlyphs">EPIC</text>
<text transform="translate(372.2,105.4) rotate(90)" font-size="3.1" stroke="#222" stroke-width="0.08" textLength="19.6" lengthAdjust="spacingAndGlyphs">CIBERSORT-ABS</text>
<text transform="translate(375.8,105.4) rotate(90)" font-size="3.1" stroke="#222" stroke-width="0.08" textLength="18.5" lengthAdjust="spacingAndGlyphs">CIBERSORT</text>
<text transform="translate(380,101.2) rotate(90)" font-size="3.2" font-weight="bold" textLength="16.4" lengthAdjust="spacingAndGlyphs">Algorithm</text>
<rect x="333.7" y="217.1" width="19.2" height="3.1" fill="url(#lg)"/>
<text transform="translate(333.7,221) rotate(90)" font-size="3">-1</text>
<text transform="translate(338,221) rotate(90)" font-size="3">-0.5</text>
<text transform="translate(342.3,221) rotate(90)" font-size="3">0</text>
<text transform="translate(346.6,221) rotate(90)" font-size="3">0.5</text>
<text transform="translate(350.9,221) rotate(90)" font-size="3">1</text>
<text transform="translate(354.1,217.1) rotate(90)" font-size="3.2" font-weight="bold" textLength="7.5" lengthAdjust="spacingAndGlyphs">Corr</text>
<rect x="360.3" y="217.1" width="2.9" height="3.1" fill="#8c88c9"/>
<rect x="363.9" y="217.1" width="2.9" height="3.1" fill="#4c9a5c"/>
<rect x="367.5" y="217.1" width="2.9" height="3.1" fill="#e69a3c"/>
<rect x="371.1" y="217.1" width="2.9" height="3.1" fill="#4070b6"/>
<rect x="374.7" y="217.1" width="2.9" height="3.1" fill="#c65a3a"/>
<text transform="translate(360.7,221.1) rotate(90)" font-size="3.1" stroke="#222" stroke-width="0.08">ICP</text>
<text transform="translate(364.3,221.1) rotate(90)" font-size="3.1" stroke="#222" stroke-width="0.08">Inh</text>
<text transform="translate(367.9,221.1) rotate(90)" font-size="3.1" stroke="#222" stroke-width="0.08">Chem</text>
<text transform="translate(371.5,221.1) rotate(90)" font-size="3.1" stroke="#222" stroke-width="0.08">Stim</text>
<text transform="translate(375.1,221.1) rotate(90)" font-size="3.1" stroke="#222" stroke-width="0.08">MHC</text>
<text transform="translate(379.3,217.1) rotate(90)" font-size="3.2" font-weight="bold" textLength="7.5" lengthAdjust="spacingAndGlyphs">Imm</text>
<text x="2.1" y="12.0" font-size="13.8" font-weight="bold" fill="#000">A</text>
<text x="1.9" y="141.4" font-size="13.8" font-weight="bold" fill="#000">B</text>
<text x="1.9" y="257.6" font-size="13.8" font-weight="bold" fill="#000">C</text>
<text x="1.5" y="439.3" font-size="13.8" font-weight="bold" fill="#000">D</text>
</g>
<g font-family="Liberation Sans, Arial, sans-serif">
<text x="23.2" y="262.2" font-size="5.9" fill="#222">Cancer: HNSC</text>
<path d="M28.5 290.2L28.5 289.6C30.2 289.1 35.8 287.7 39 286.3C42.2 284.9 44.8 283 48 281C51.2 279 54.8 276.1 58 274.3C61.2 272.6 63.8 271.4 67 270.5C70.2 269.6 73.5 269.1 77 269.2C80.5 269.3 84.5 270.2 88 271C91.5 271.8 95.4 273.3 98 274C100.6 274.7 101 274.8 103.5 275.3C106 275.8 110.2 276.1 113 276.8C115.8 277.5 117.8 278.5 120 279.5C122.2 280.5 124 281.8 126.3 282.9C128.6 284 131.5 285.4 134 286.3C136.5 287.2 140.2 288.2 141.4 288.6L141.4 290.2Z" fill="#e8961c"/>
<path d="M28.5 289.6C30.2 289.1 35.8 287.7 39 286.3C42.2 284.9 44.8 283 48 281C51.2 279 54.8 276.1 58 274.3C61.2 272.6 63.8 271.4 67 270.5C70.2 269.6 73.5 269.1 77 269.2C80.5 269.3 84.5 270.2 88 271C91.5 271.8 95.4 273.3 98 274C100.6 274.7 101 274.8 103.5 275.3C106 275.8 110.2 276.1 113 276.8C115.8 277.5 117.8 278.5 120 279.5C122.2 280.5 124 281.8 126.3 282.9C128.6 284 131.5 285.4 134 286.3C136.5 287.2 140.2 288.2 141.4 288.6" fill="none" stroke="#3a3a3a" stroke-width="0.55"/>
<path d="M28.5 290.2H141.4" stroke="#8a8a8a" stroke-width="0.6"/>
<rect x="23.2" y="291" width="124.6" height="113.5" fill="#fff"/>
<path d="M43.9 291V404.5M73.6 291V404.5M103.3 291V404.5M133.1 291V404.5M23.2 396.6H147.8M23.2 371.6H147.8M23.2 346.6H147.8M23.2 321.6H147.8M23.2 296.6H147.8" stroke="#f1f1f1" stroke-width="0.5"/>
<path d="M29.1 291V404.5M58.8 291V404.5M88.5 291V404.5M118.2 291V404.5M23.2 384.1H147.8M23.2 359.1H147.8M23.2 334.1H147.8M23.2 309.1H147.8" stroke="#e2e2e2" stroke-width="0.7"/>
<path d="M28.3 342.1L141.7 325.9L141.7 329.9L28.3 346.5Z" fill="#c8c8c8" fill-opacity="0.75"/>
<path d="M59.8 340.4h0M80.2 339.8h0M93.7 319.6h0M54.1 334.3h0M124 324.2h0M135.5 323.2h0M83.1 330.8h0M84.4 336.9h0M74.8 328.3h0M98.8 316.9h0M80.8 340.1h0M65 338.2h0M86.1 342.1h0M73.9 318.8h0M111.9 331.7h0M128.6 312.6h0M72.8 329.1h0M117.4 332.8h0M91.9 314.1h0M99.9 328.4h0M71.2 316.3h0M100.5 359.3h0M97.9 354.1h0M112.1 329h0M139.8 324.8h0M109 343h0M89.3 331.1h0M118.4 325.7h0M69 358.3h0M88.1 316.7h0M129.4 319h0M84.9 360.3h0M129.5 323.1h0M67.5 338.6h0M91.5 343.6h0M85.3 340.7h0M99.3 313.1h0M104.1 339.4h0M50.6 318.4h0M61.1 333h0M55.3 351h0M51.4 329.3h0M77.8 331.6h0M45.5 334.8h0M47.9 333.1h0M75.4 341h0M78.5 340.2h0M94.7 318.3h0M53.6 338.5h0M78 338h0M47.6 312.2h0M72.4 337.5h0M48 345.1h0M79.4 345.7h0M61.3 334.7h0M76.8 352.8h0M122.6 334h0M101.8 354.2h0M94.6 336.1h0M72 333.4h0M111.3 317.8h0M78.5 338.1h0M66.4 335.3h0M104.7 323.9h0M100.1 347h0M121.4 313.8h0M103.3 328.5h0M62.4 359.8h0M77 323.9h0M83.6 313.8h0M57.5 344.8h0M131.4 327.9h0M73 315.7h0M97.6 336.3h0M46.8 318.5h0M134.2 334h0M128.3 326.5h0M73.3 344.5h0M101.2 334.3h0M131.9 316h0M89 360.8h0M132.7 345.7h0M96 336.6h0M62.8 337.4h0M121.4 324.1h0M98.3 319.7h0M94.7 357h0M98.7 342h0M71.8 333.8h0M117.7 348.4h0M54.9 331h0M94.1 339.5h0M90.9 348.7h0M70.3 326.1h0M135.1 334.1h0M93.4 328.7h0M52.3 337.6h0M119.9 326.2h0M106.8 314.5h0M59 310.1h0M136 354.8h0M91.7 307.9h0M86.4 336.4h0M77.7 331.5h0M47.3 326.8h0M87.3 322.2h0M94.1 332.6h0M139.1 321h0M70.7 312.6h0M57.7 331.4h0M132.1 326h0M132.8 340.3h0M112 328.3h0M85.9 332.3h0M134.6 347h0M126.8 349.9h0M127.4 343.2h0M133.5 326.8h0M57.7 347.6h0M60.8 338.9h0M64.6 341.3h0M73 325h0M62.3 338.5h0M46.9 336.2h0M97.8 327.8h0M110.6 312.2h0M92.5 318.2h0M63.4 326.5h0M138.8 344.5h0M105.9 310.9h0M78.5 328.5h0M115.8 329.6h0M60.9 314h0M108.6 338.2h0M73.3 346h0M60.4 347.5h0M91.7 316.9h0M137.2 333.1h0M79.3 321.7h0M93.2 334h0M93.4 323.2h0M83.4 334.7h0M47.6 341.8h0M95.7 324.3h0M107.9 338.9h0M76.4 327.8h0M106.6 333.7h0M124.8 315.9h0M122.6 343.8h0M95.2 360.5h0M84.3 326.4h0M57.6 346.2h0M48.4 357.9h0M79.7 314.4h0M105.1 316.7h0M110.1 333.7h0M116.6 331.9h0M96.3 336.6h0M69.4 340.7h0M70.7 337.5h0M138.2 339.4h0M81.8 356.3h0M104.1 330.3h0M52.8 331.4h0M74.4 327.3h0M46.6 328.2h0M111.2 328.4h0M73.1 351.6h0M56.7 339.1h0M106.1 330.5h0M123.4 332.4h0M67.7 333h0M135.3 325.7h0M95.2 316h0M115.1 312.9h0M129.7 333.7h0M69 339.5h0M92.2 334h0M74.1 327.8h0M125.3 321.2h0M116.8 328.2h0M75.3 342.7h0M80.8 346.5h0M71.6 343.2h0M55.1 331.8h0M68.7 336.4h0M63.5 325.9h0M136.3 311h0M132.2 347.5h0M49.4 345h0M115 354.4h0M72.6 328.9h0M133.5 319.4h0M73.7 324.6h0M138.2 331.3h0M98.4 313.2h0M61.3 332.1h0M99.3 343.4h0M85.8 319.5h0M63.7 337.2h0M77.9 326.9h0M99.6 327.9h0M85.5 349.3h0M95.3 343h0M71.8 327.2h0M105.3 321.2h0M127.4 328.6h0M83.4 324.2h0M136.1 313.6h0M48.5 361.4h0M130.6 349h0M82.6 332h0M106.9 357.4h0M85.6 328.1h0M95.1 347.8h0M107 331.4h0M49.2 353.6h0M67.5 318.9h0M57.6 347.2h0M105.9 335.1h0M95.3 340.4h0M82.3 332h0M74.1 317.2h0M136.6 348h0M67.7 359.4h0M136.7 333.5h0M92.8 345.7h0M85.4 335.8h0M120.7 331.1h0M85.4 331.2h0M64.3 330.1h0M64.9 358.7h0M68.9 312.4h0M66.5 335.8h0M65.7 345.7h0M85.1 334.7h0M135.6 321.7h0M138 318.9h0M50.4 325.1h0M94.3 317.1h0M59.7 325.9h0M134.4 335.5h0M48.5 345.3h0M77 347.4h0M45.7 341h0M107.3 329.4h0M107.1 326.3h0M90.4 347.8h0M132.8 325.8h0M106.7 318.7h0M90.2 334h0M51.4 342h0M83.8 311.8h0M75.5 326.3h0M71.8 343.4h0M75.5 336h0M132.5 329.3h0M135.1 320.2h0M136.4 328.6h0M71.9 329.2h0M92.3 326.2h0M78.9 337.3h0M103.1 359.2h0M75.8 351.6h0M64.2 318.2h0M68.9 333h0M76.4 334.2h0M138 357.8h0M53.4 324.3h0M87.9 325.3h0M85.1 350.1h0M125.9 345.5h0M57 331.2h0M80.9 345.1h0M64.4 336.6h0M129.5 320.3h0M76.5 309.1h0M67.4 329.2h0M53.3 325.1h0M101.7 316.6h0M73.3 362.1h0M63.5 318.6h0M80.2 354.8h0M70.1 316.1h0M135.3 315.4h0M66.1 325h0M58.9 334.3h0M107.4 322.5h0M46.5 348.3h0M75.1 317.2h0M121 336.4h0M83 336.6h0M106.2 325.9h0M84.4 330.4h0M74.7 324.3h0M79.4 338.9h0M127.6 317.6h0M114.6 332.4h0M46 326.5h0M71.1 360.3h0M60.9 321h0M97.9 353.2h0M104.6 356.8h0M93.4 327.2h0M133.4 321.4h0M92.1 321.9h0M57.5 350.8h0M50.5 325.7h0M75 354.8h0M120.1 349.6h0M83.9 320h0M66.2 358.3h0M94.7 339.3h0M114.3 327.4h0M115.1 327.5h0M49.1 334.5h0M97.7 339.7h0M74.5 352.1h0M108.1 323.9h0M87.1 315.5h0M67.8 333.6h0M119.6 340.2h0M55.6 335.3h0M86.4 322.1h0M49.3 330h0M53.3 340.4h0M50.6 362.2h0M81.3 328h0M81.6 312.5h0M84.6 321.2h0M136.4 322.9h0M133.9 334.6h0M78.8 335.2h0M71.6 340.2h0M93.2 308.7h0M90.3 323.8h0M75.8 327.1h0M134.4 328.3h0M130.5 318.7h0M95.9 312.5h0M79.6 323h0M129.3 343.6h0M139.8 339.4h0M70.6 346.4h0M65.7 342.9h0M87.5 324.4h0M123.4 310.7h0M106.2 314.4h0M75.1 337.7h0M48.6 326.8h0M94.2 318.4h0M97.1 326.4h0M47.6 325.3h0M79.4 335.2h0M100.9 341.4h0M90.6 339.4h0M134.4 330h0M106.1 325h0M90.4 348.3h0M46.5 349.5h0M106.8 347.1h0M134.5 331.4h0M67.7 319.9h0M68 331.8h0M119.5 314h0M87.9 328.8h0M93.6 326.8h0M122.7 325.9h0M50 327.4h0M93.3 355.9h0M125.7 331.6h0M88.4 350.2h0M55.4 337.2h0M116.7 328.1h0M125.8 333.7h0M86.9 345.4h0M95.2 335.9h0M119.4 325.8h0M70.2 308.1h0M116.1 310.2h0M129.1 338.7h0M68.2 319.9h0M108.7 343.6h0M40.9 333.9h0M126.9 351.8h0M74.7 327.2h0M104.6 318.6h0M48 313.1h0M58.9 317.3h0M49.4 345.2h0M115.5 350.6h0M101.6 350.2h0M118.7 327.8h0M80 352.6h0M65 333.9h0M89.6 326.9h0M54.4 345.5h0M54.7 346.2h0M64.9 342.9h0M69.8 323h0M113.5 340.6h0M100.9 360.8h0M48.4 338.9h0M86.9 332.9h0M96.6 346.6h0M127.4 309.2h0M45.6 324.5h0M117.9 330.6h0M92.1 334.4h0M63 349.9h0M86.3 337h0M65.8 341.8h0M105.9 348.6h0M120.3 339.7h0M79.2 358.7h0M82.9 330.5h0M79.1 326.1h0M131.1 329.1h0M81.5 327.6h0M96 340.7h0M117 339.8h0M60.2 347.5h0M65 356.4h0M87.1 332h0M89.3 352.7h0M86.7 325.6h0M112.3 327.9h0M69 343.1h0M95.1 327.3h0M138.1 319.4h0M55.1 331.4h0M138.9 331.4h0M115.1 340.6h0M55.6 333.9h0M82.3 321.3h0M111.3 329.5h0M105.5 340.5h0M83.9 333.2h0M131.7 347.1h0M85.5 327.1h0M114.1 314.6h0M126.5 347.6h0M106.4 344.5h0M54.7 334.2h0M119.8 336.2h0M85.7 354h0M104.5 350.8h0M104.7 324.7h0M82.4 316.5h0M138.1 313h0M119.7 327.5h0M74.6 336.6h0M96.9 337.2h0M124.2 347.7h0M84.4 325.8h0M82.7 338.2h0M57.1 324.4h0M71.5 337.4h0M46.7 351.2h0M78.9 328.3h0M66.8 338.4h0M66.2 332.2h0M57.7 350.7h0M122.4 341.9h0M66.9 348.3h0M65.1 320.8h0M96.3 348.2h0M97.5 315h0M126.3 312.3h0M81.2 335.6h0M45.7 323.8h0M72.2 335.7h0M86.2 322.9h0M108.1 353.6h0M127.1 321.8h0M88.3 342.1h0M82.8 336.9h0M135.9 336.1h0M59 346.1h0M119.2 336.3h0M96.8 331.6h0M71.6 355.1h0M130.4 346.1h0M125.2 324.2h0M115.9 311.7h0M129.3 341.1h0M58.7 341.1h0M51 345.7h0M92.8 332.6h0M127.4 329.9h0M98.9 347.2h0M85.2 358h0M115.6 323h0M48.1 354.7h0M62.6 356.1h0M91.5 331.4h0M104.9 335.3h0M127.3 341.6h0M118.7 319.9h0M86.8 350.5h0M99.7 340.5h0M93.3 308.8h0M93.6 313.9h0M76.9 338.8h0M73.9 352.9h0M49.2 348.5h0M129.6 335.1h0M46 339.8h0M133 346.4h0M131.9 343.5h0M104 348.2h0M110.2 348h0M108.8 355.6h0M62.7 330.8h0M119 314.2h0M123.6 341.8h0M98.9 334.2h0M75.7 323.9h0M106.4 328.6h0M49.2 340.1h0M32.1 372.9h0M39.5 377.9h0M41 370.4h0M33.6 311.6h0M36.5 306.6h0M64.7 379.1h0M72.2 382.9h0M82.6 376.6h0M90 377.9h0M91.5 376.6h0M82.6 400.4h0M52.9 296.6h0M70.7 295.4h0M43.9 304.1h0M88.5 309.1h0M112.3 306.6h0M124.1 304.1h0" stroke="#000" stroke-width="2.1" stroke-linecap="round"/>
<path d="M28.3 344.3L141.7 327.9" stroke="#3a62c0" stroke-width="1.3"/>
<rect x="23.2" y="291" width="124.6" height="113.5" fill="none" stroke="#b5b5b5" stroke-width="0.6"/>
<text x="28.6" y="301.2" font-size="5.2" fill="#222"><tspan font-style="italic">R</tspan> = 0.19, <tspan font-style="italic">p</tspan> = 1.5e-05</text>
<text x="29.1" y="410.1" font-size="4.4" fill="#4d4d4d" text-anchor="middle">-1000</text>
<text x="58.8" y="410.1" font-size="4.4" fill="#4d4d4d" text-anchor="middle">0</text>
<text x="88.5" y="410.1" font-size="4.4" fill="#4d4d4d" text-anchor="middle">1000</text>
<text x="118.2" y="410.1" font-size="4.4" fill="#4d4d4d" text-anchor="middle">2000</text>
<text x="21.2" y="385.6" font-size="4.4" fill="#4d4d4d" text-anchor="end">2</text>
<text x="21.2" y="360.6" font-size="4.4" fill="#4d4d4d" text-anchor="end">3</text>
<text x="21.2" y="335.6" font-size="4.4" fill="#4d4d4d" text-anchor="end">4</text>
<text x="21.2" y="310.6" font-size="4.4" fill="#4d4d4d" text-anchor="end">5</text>
<path d="M29.1 404.5v1.3M58.8 404.5v1.3M88.5 404.5v1.3M118.2 404.5v1.3M23.2 384.1h-1.3M23.2 359.1h-1.3M23.2 334.1h-1.3M23.2 309.1h-1.3" stroke="#555" stroke-width="0.4"/>
<text x="85.5" y="416.6" font-size="4.9" fill="#222" text-anchor="middle">ImmuneScore</text>
<text transform="translate(13.6,349.5) rotate(-90)" font-size="4.9" fill="#222" text-anchor="middle">RPS6KA1</text>
<path d="M148.8 296.2L148.8 296.2C149 296.9 149.1 298.5 150 300.2C150.9 301.9 152.6 303.4 154.3 306.2C156 309 158.5 314 160.4 317.2C162.3 320.4 163.9 322.7 165.8 325.2C167.7 327.7 171.6 329.7 171.8 332.2C172 334.7 168.5 337.5 166.8 340.2C165.1 342.9 163.8 345.5 161.8 348.5C159.8 351.5 156.5 355.2 154.8 358C153.1 360.8 152.2 363.1 151.4 365C150.6 366.9 150.6 366.7 150.2 369.2C149.9 371.7 149.5 376 149.3 380.2C149.1 384.4 148.9 391.9 148.8 394.2L148.8 394.2Z" fill="#22499e"/>
<path d="M148.8 295.4V398.8" stroke="#9a9a9a" stroke-width="0.7"/>
<text x="192.3" y="259.6" font-size="5.9" fill="#222">Cancer: HNSC</text>
<path d="M198.2 287.2L198.2 286.8C198.3 285 198.5 279.4 198.6 276C198.7 272.6 198.8 267.5 199 266.5C199.2 265.5 199.4 267.4 199.6 270C199.8 272.6 200 279.4 200.3 282C200.6 284.6 200.7 284.9 201.5 285.6C202.3 286.3 200.2 286 205 286.1C209.8 286.2 220.8 286.1 230 286.2C239.2 286.2 250 286.3 260 286.4C270 286.5 281.4 286.6 290 286.6C298.6 286.7 307.9 286.7 311.5 286.7L311.5 287.2Z" fill="#e8961c"/>
<path d="M198.2 286.8C198.3 285 198.5 279.4 198.6 276C198.7 272.6 198.8 267.5 199 266.5C199.2 265.5 199.4 267.4 199.6 270C199.8 272.6 200 279.4 200.3 282C200.6 284.6 200.7 284.9 201.5 285.6C202.3 286.3 200.2 286 205 286.1C209.8 286.2 220.8 286.1 230 286.2C239.2 286.2 250 286.3 260 286.4C270 286.5 281.4 286.6 290 286.6C298.6 286.7 307.9 286.7 311.5 286.7" fill="none" stroke="#3a3a3a" stroke-width="0.55"/>
<path d="M198.2 287.2H311.9" stroke="#8a8a8a" stroke-width="0.6"/>
<rect x="192.3" y="287.8" width="123.5" height="114.8" fill="#fff"/>
<path d="M211.9 287.8V402.6M240.5 287.8V402.6M269.1 287.8V402.6M297.7 287.8V402.6M192.3 393.9H315.8M192.3 368.9H315.8M192.3 343.8H315.8M192.3 318.6H315.8M192.3 293.5H315.8" stroke="#f1f1f1" stroke-width="0.5"/>
<path d="M197.6 287.8V402.6M226.2 287.8V402.6M254.8 287.8V402.6M283.4 287.8V402.6M312 287.8V402.6M192.3 381.4H315.8M192.3 356.3H315.8M192.3 331.2H315.8M192.3 306.1H315.8" stroke="#e2e2e2" stroke-width="0.7"/>
<path d="M197.6 331.7L311.9 320L311.9 334L197.6 334.7Z" fill="#c8c8c8" fill-opacity="0.75"/>
<path d="M197.6 315.7h0M197.6 316.9h0M197.6 334.5h0M197.6 331.8h0M197.6 299.8h0M197.6 345.9h0M197.6 318h0M197.6 321.7h0M197.6 331.2h0M197.6 332.3h0M197.6 327.2h0M197.6 333.6h0M197.6 312.6h0M197.6 330.2h0M197.6 330.9h0M197.6 328.7h0M197.6 320h0M197.6 348.5h0M197.6 336h0M197.6 345.9h0M197.6 313h0M197.6 336.9h0M197.6 346h0M197.6 351.2h0M197.6 333.4h0M197.6 340h0M197.6 321.3h0M197.6 328h0M197.6 335.6h0M197.6 338.7h0M197.6 343.3h0M197.6 346.4h0M197.6 325.6h0M197.6 361.9h0M197.6 333.6h0M197.6 328.2h0M197.6 327.2h0M197.6 342.4h0M197.6 324.1h0M197.6 347.3h0M197.6 323.1h0M197.6 340.3h0M197.6 314.4h0M197.6 346.3h0M197.6 333.5h0M197.6 319.3h0M197.6 329.7h0M197.6 334.9h0M197.6 321.5h0M197.6 344.6h0M197.6 325.8h0M197.6 350.3h0M197.6 318.7h0M197.6 324.3h0M197.6 332.4h0M197.6 361.5h0M197.6 338.6h0M197.6 345.1h0M197.6 332.3h0M197.6 354.7h0M197.6 324.9h0M197.6 352.7h0M197.6 311.6h0M197.6 348.2h0M197.6 339.3h0M197.6 336.8h0M197.6 336.1h0M197.6 343.8h0M197.6 339.5h0M197.6 333.2h0M197.6 336.6h0M197.6 328.2h0M197.6 323h0M197.6 318.4h0M197.6 329.2h0M197.6 332h0M197.6 348.6h0M197.6 331.1h0M197.6 359.6h0M197.6 318.8h0M197.6 323.1h0M197.6 334.6h0M197.6 330.2h0M197.6 327.7h0M197.6 322.9h0M197.6 342.5h0M197.6 316.9h0M197.6 325.8h0M197.6 323.1h0M197.6 334.9h0M197.6 314.5h0M197.6 337.5h0M197.6 314.9h0M197.6 305h0M197.6 323.1h0M197.6 330.1h0M197.6 312.7h0M197.6 345.9h0M197.6 337h0M197.6 350h0M197.6 319.5h0M197.6 315.8h0M197.6 337.5h0M197.6 316.4h0M197.6 336.8h0M197.6 323.8h0M197.6 327.9h0M197.6 324.4h0M197.6 312.6h0M197.6 330.9h0M197.6 324.5h0M197.6 336.3h0M197.6 327.2h0M197.6 336.9h0M197.6 310.7h0M197.6 342.9h0M197.6 344.9h0M197.6 312.7h0M197.6 326.9h0M197.6 325.5h0M197.6 339.1h0M197.6 334.8h0M197.6 338.7h0M197.6 328.6h0M197.6 336.3h0M197.6 325.9h0M197.6 327.4h0M197.6 336h0M197.6 317.7h0M197.6 343.9h0M197.6 334.6h0M197.6 323h0M197.6 335h0M197.6 324h0M197.6 326.5h0M197.6 334h0M197.6 342.8h0M197.6 328.4h0M197.6 343.2h0M197.6 324.9h0M197.6 345.8h0M197.6 325h0M197.6 337.1h0M197.6 323.3h0M197.6 313h0M197.6 327.7h0M197.6 329.9h0M197.6 333.7h0M197.6 324h0M197.6 326.2h0M197.6 347.8h0M197.6 333.8h0M197.6 345.2h0M197.6 328.2h0M197.6 343h0M197.6 334.7h0M197.6 332.4h0M197.6 325.6h0M197.6 339.6h0M197.6 337.5h0M197.6 326.9h0M197.6 317.3h0M197.6 332h0M197.6 318h0M197.6 318.8h0M197.6 341h0M197.6 314.6h0M197.6 308.8h0M197.6 322.9h0M197.6 347.8h0M197.6 333.7h0M197.6 323.7h0M197.6 334.3h0M197.6 332.5h0M197.6 309.3h0M197.6 335.1h0M197.6 340.3h0M197.6 346h0M197.6 339.5h0M197.6 318.8h0M197.6 347h0M197.6 347.2h0M197.6 331.9h0M197.6 338.1h0M197.6 328.6h0M197.6 322.6h0M197.6 319.4h0M197.6 318.9h0M197.6 358.7h0M197.6 324.3h0M197.6 345.4h0M197.6 330.5h0M197.6 343.7h0M197.6 365h0M197.6 318.5h0M197.6 322.8h0M197.6 354.8h0M197.6 304.2h0M197.6 340.1h0M197.6 340.5h0M197.6 341.3h0M197.6 346h0M197.6 326.4h0M197.6 311.1h0M197.6 336.6h0M197.6 323h0M197.6 356.7h0M197.6 338.7h0M197.6 340.1h0M197.6 360h0M197.6 339.9h0M197.6 345.7h0M197.6 334.2h0M197.6 338.6h0M197.6 315.4h0M197.6 318h0M197.6 336.6h0M197.6 339.4h0M197.6 334h0M197.6 335.9h0M197.6 320.1h0M197.6 319h0M197.6 324.2h0M197.6 348.9h0M197.6 340.2h0M197.6 347.8h0M197.6 328.6h0M197.6 335.9h0M197.6 323.8h0M197.6 344.8h0M197.6 321.3h0M197.6 326.5h0M197.6 339.5h0M197.6 340.5h0M197.6 331.4h0M197.6 339.8h0M197.6 336.6h0M197.6 330.8h0M197.6 333h0M197.6 338.5h0M197.6 333h0M197.6 339.7h0M197.6 340.3h0M197.6 347.9h0M197.6 352.9h0M197.6 334.7h0M197.6 354.2h0M197.6 329h0M197.6 314.8h0M197.6 314.2h0M197.6 345.1h0M197.6 340h0M197.6 351.6h0M197.6 321.6h0M197.6 342.5h0M197.6 323h0M197.6 335.8h0M197.6 320.4h0M197.6 342.1h0M197.6 312.6h0M197.6 340h0M197.6 329.7h0M197.6 347.2h0M197.6 340h0M197.6 343.3h0M197.6 310.8h0M197.6 328.7h0M197.6 319.8h0M197.6 317h0M197.6 327.7h0M197.6 330.2h0M197.6 347.9h0M197.6 351.4h0M197.6 334.5h0M197.6 342.1h0M197.6 339h0M197.6 338.1h0M197.6 333.4h0M197.6 347.6h0M197.6 338.6h0M197.6 345.9h0M197.6 331.3h0M197.6 341h0M197.6 319.6h0M197.6 346.9h0M197.6 300.8h0M197.6 312h0M197.6 315.4h0M197.6 306.2h0M197.6 334.1h0M197.6 336.2h0M197.6 317.9h0M197.6 325.2h0M197.6 316.3h0M197.6 314.6h0M197.6 333.2h0M197.6 329.9h0M197.6 342.9h0M197.6 340.5h0M197.6 309.7h0M197.6 327.6h0M197.6 318.5h0M197.6 341.8h0M197.6 344.8h0M197.6 337.9h0M197.6 329.1h0M197.6 327.9h0M197.6 328.9h0M197.6 324.8h0M197.6 348h0M197.6 311h0M197.6 330.8h0M197.6 337.1h0M197.6 326.4h0M197.6 318.8h0M197.6 341.9h0M197.6 335.6h0M197.6 329.7h0M197.6 319.4h0M197.6 335.8h0M197.6 304.5h0M197.6 324.5h0M197.6 313.9h0M197.6 346.2h0M197.6 318.2h0M197.6 336.1h0M197.6 347.8h0M197.6 319.7h0M197.6 322.2h0M197.6 342.6h0M197.6 327h0M197.6 322h0M197.6 336.5h0M197.6 316.9h0M197.6 342.1h0M197.6 324.1h0M197.6 327.1h0M197.6 342.8h0M197.6 334.4h0M197.6 323.4h0M206.7 332.9h0M233.9 337.1h0M218.2 318.3h0M214.6 352.6h0M251.3 322.1h0M289.3 333.6h0M218.6 316.5h0M236.5 315.4h0M215.2 330.8h0M235.4 312.3h0M221 341.8h0M251.5 334.1h0M223.2 336.3h0M207.5 318.5h0M249.7 334.7h0M214.9 336.9h0M212.4 320.3h0M205.5 326.4h0M211.8 356h0M265.7 314h0M244.3 331.8h0M227 327.9h0M217 342.8h0M234.4 349.2h0M225.6 328.4h0M261.5 325h0M202.1 323.2h0M212.6 329.2h0M202 338.6h0M234.1 312.9h0M229.2 331.6h0M214.4 316.5h0M233.9 329.3h0M234.7 342.4h0M202.4 331h0M246.5 324.5h0M261.9 313h0M230.4 320.2h0M248.5 303h0M237.7 313.3h0M230 321.8h0M202.6 348.2h0M217.6 362.8h0M231 333.6h0M228.6 327.5h0M239.3 341.3h0M222.2 331.2h0M216.9 326.4h0M212.9 317.1h0M210 314.8h0M221.1 361.6h0M212.4 320.2h0M244.6 342.7h0M256.2 336h0M245.3 340.5h0M231.1 347.3h0M243.8 334.4h0M202.9 318.5h0M208.4 335.7h0M213.5 345.6h0M215 328.6h0M240.2 326.6h0M242.9 339.1h0M204.8 345.9h0M222.2 330.2h0M237.3 343.1h0M259.2 346.5h0M210.3 329.1h0M264.5 328.7h0M207.9 348.5h0M245.3 351.6h0M264.2 331.8h0M233.5 343.5h0M215.2 343.8h0M247.3 335.4h0M223.2 348.9h0M236.7 349.6h0M288.9 339.3h0M223.7 331.2h0M228 323.5h0M272.7 318.4h0M218.1 323.2h0M234.1 310.6h0M263 341.3h0M221.1 326.1h0M214 350.1h0M266.4 323.5h0M212.3 347.9h0M208.3 325h0M213.4 322.2h0M265.3 336.9h0M232.9 311.9h0M212.4 323.6h0M238.6 351h0M214.2 328.8h0M241.3 323.4h0M203.9 311.9h0M215.4 343.7h0M223.1 338.2h0M205 318.9h0M205 304.9h0M247.7 317.2h0M220.1 321.7h0M209.5 337.3h0M224 334.2h0M216.8 317.9h0M256.2 324.6h0M230.8 303.4h0M243.4 324.5h0M238.9 343.3h0M231.5 315.6h0M209.9 313.1h0M201.1 339.1h0M228.8 336.5h0M236 351.5h0M237.2 350.5h0M245.3 331.6h0M260 343.8h0M244 347h0M298 315h0M224.6 317.1h0M243.7 321h0M259.8 331.5h0M234 322.2h0M205 324.6h0M245.8 330.3h0M212.1 336.4h0M235.5 343.7h0M228.1 319.2h0M214.2 362.6h0M220.6 313.9h0M207.8 348.9h0M259.9 343.4h0M234.3 321.4h0M235.4 335.4h0M209.1 334.7h0M257.4 323.1h0M219.2 328.9h0M216 332.1h0M213.8 330h0M218.9 327h0M227.3 331.6h0M211.4 342h0M221.6 331.2h0M308.8 313.9h0M265.5 327.4h0M258.6 339.9h0M232.3 341h0M267.3 336.1h0M261.7 341.9h0M225.9 341.5h0M202.9 317.1h0M213.4 315.4h0M210.2 332.4h0M214.4 330.1h0M253.5 329.9h0M223.2 333.9h0M212.5 323.3h0M229.6 362h0M237.3 341.5h0M197.6 380.1h0M197.6 375.1h0M197.6 373.9h0M201.9 397.7h0M214.8 373.9h0M250.5 377.6h0M251.9 370.1h0M263.4 309.9h0M284.8 309.9h0M303.4 341.2h0M310.6 324.9h0M267.7 351.3h0M249.1 356.3h0M211.9 293.5h0" stroke="#000" stroke-width="2.1" stroke-linecap="round"/>
<path d="M197.6 333.2L311.9 327" stroke="#3a62c0" stroke-width="1.3"/>
<rect x="192.3" y="287.8" width="123.5" height="114.8" fill="none" stroke="#b5b5b5" stroke-width="0.6"/>
<text x="197.6" y="299.2" font-size="5.2" fill="#222"><tspan font-style="italic">R</tspan> = 0.093, <tspan font-style="italic">p</tspan> = 0.038</text>
<text x="197.6" y="408.2" font-size="4.4" fill="#4d4d4d" text-anchor="middle">0.00</text>
<text x="226.2" y="408.2" font-size="4.4" fill="#4d4d4d" text-anchor="middle">0.02</text>
<text x="254.8" y="408.2" font-size="4.4" fill="#4d4d4d" text-anchor="middle">0.04</text>
<text x="283.4" y="408.2" font-size="4.4" fill="#4d4d4d" text-anchor="middle">0.06</text>
<text x="312" y="408.2" font-size="4.4" fill="#4d4d4d" text-anchor="middle">0.08</text>
<text x="190.3" y="382.9" font-size="4.4" fill="#4d4d4d" text-anchor="end">2</text>
<text x="190.3" y="357.8" font-size="4.4" fill="#4d4d4d" text-anchor="end">3</text>
<text x="190.3" y="332.7" font-size="4.4" fill="#4d4d4d" text-anchor="end">4</text>
<text x="190.3" y="307.6" font-size="4.4" fill="#4d4d4d" text-anchor="end">5</text>
<path d="M197.6 402.6v1.3M226.2 402.6v1.3M254.8 402.6v1.3M283.4 402.6v1.3M312 402.6v1.3M192.3 381.4h-1.3M192.3 356.3h-1.3M192.3 331.2h-1.3M192.3 306.1h-1.3" stroke="#555" stroke-width="0.4"/>
<text x="254" y="414.2" font-size="4.9" fill="#222" text-anchor="middle">B cells memory</text>
<text transform="translate(184.4,343.5) rotate(-90)" font-size="4.9" fill="#222" text-anchor="middle">RPS6KA1</text>
<path d="M318.3 294L318.3 294C318.5 294.7 318.6 296.3 319.5 298C320.4 299.7 322 301.2 323.7 304C325.4 306.8 327.8 311.8 329.7 315C331.5 318.2 333.1 320.5 335 323C336.8 325.5 340.7 327.5 340.8 330C341 332.5 337.6 335.3 335.9 338C334.3 340.7 333 343.3 331 346.3C329.1 349.3 325.9 353.1 324.2 355.8C322.5 358.6 321.6 360.9 320.8 362.8C320.1 364.7 320 364.5 319.7 367C319.3 369.5 319 373.8 318.8 378C318.6 382.2 318.4 389.7 318.3 392L318.3 392Z" fill="#22499e"/>
<path d="M318.3 292.5V398.5" stroke="#9a9a9a" stroke-width="0.7"/>
<text x="357.6" y="259.6" font-size="5.9" fill="#222">Cancer: HNSC</text>
<path d="M362.8 287.3L362.8 266.2C363.5 266.1 365.3 265.4 366.8 265.6C368.3 265.8 370 266.4 372 267.3C374 268.2 376 270.3 378.6 271.3C381.2 272.3 384.5 272.8 387.8 273.1C391.1 273.4 394.8 272.8 398.3 273.1C401.8 273.4 404.9 274.1 408.8 274.7C412.8 275.3 417.6 276 422 277C426.4 278 430.6 279.5 435 280.5C439.4 281.5 443.8 282.4 448.2 283.1C452.6 283.9 456.6 284.4 461.4 285C466.2 285.6 474.5 286.3 477.1 286.6L477.1 287.3Z" fill="#e8961c"/>
<path d="M362.8 266.2C363.5 266.1 365.3 265.4 366.8 265.6C368.3 265.8 370 266.4 372 267.3C374 268.2 376 270.3 378.6 271.3C381.2 272.3 384.5 272.8 387.8 273.1C391.1 273.4 394.8 272.8 398.3 273.1C401.8 273.4 404.9 274.1 408.8 274.7C412.8 275.3 417.6 276 422 277C426.4 278 430.6 279.5 435 280.5C439.4 281.5 443.8 282.4 448.2 283.1C452.6 283.9 456.6 284.4 461.4 285C466.2 285.6 474.5 286.3 477.1 286.6" fill="none" stroke="#3a3a3a" stroke-width="0.55"/>
<path d="M362.8 287.3H477.5" stroke="#8a8a8a" stroke-width="0.6"/>
<rect x="357.6" y="288.4" width="125.4" height="115" fill="#fff"/>
<path d="M383.9 288.4V403.4M423.3 288.4V403.4M462.7 288.4V403.4M357.6 394.9H483M357.6 369.4H483M357.6 343.9H483M357.6 318.4H483M357.6 292.9H483" stroke="#f1f1f1" stroke-width="0.5"/>
<path d="M364.2 288.4V403.4M403.6 288.4V403.4M443 288.4V403.4M357.6 382.2H483M357.6 356.7H483M357.6 331.2H483M357.6 305.7H483" stroke="#e2e2e2" stroke-width="0.7"/>
<path d="M364.2 331.3L477.5 327.1L477.5 336.1L364.2 333.7Z" fill="#c8c8c8" fill-opacity="0.75"/>
<path d="M364.1 337h0M364.2 335.1h0M364.3 320.5h0M364.2 333.4h0M364.2 329.2h0M364.3 336h0M364.1 334.1h0M364.1 322.8h0M364.1 334.7h0M364.2 312.7h0M364.3 327.2h0M364.2 316h0M364.3 325.7h0M364.2 312.9h0M364.3 312.1h0M364.2 321.4h0M364.2 327.1h0M364.3 326.2h0M364.1 350.9h0M364.1 354.7h0M364.2 332.6h0M364.3 350.9h0M364.2 334.8h0M364.1 328.7h0M364.2 340.5h0M364.2 340.7h0M364.1 333.1h0M364.3 318.3h0M364.1 347.3h0M364.1 347.9h0M364.1 345.9h0M364.3 328.5h0M364.1 326.6h0M364.2 327.2h0M364.2 344.8h0M364.2 350h0M364.1 338.8h0M364.3 333h0M364.3 342.3h0M364.3 330.7h0M364.3 343.3h0M364.2 342.3h0M364.3 329.5h0M364.2 331.3h0M364.2 331.2h0M364.3 330.6h0M364.1 344.4h0M364.1 332.2h0M364.1 338h0M364.2 318.5h0M364.1 326.9h0M364.1 321.2h0M364.1 337h0M364.1 334.7h0M364.1 361.2h0M364.3 330.8h0M364.2 341.8h0M364.3 340.2h0M364.2 341.3h0M364.1 344.8h0M364.3 307.8h0M364.2 315.6h0M364.3 325.1h0M364.2 317.2h0M364.3 326.4h0M364.1 315.6h0M364.1 338.5h0M364.1 333.5h0M364.1 318.9h0M364.1 331.4h0M364.3 350.7h0M364.1 329h0M364.3 316.3h0M364.3 325.6h0M364.3 339.8h0M364.2 334.8h0M364.3 321.3h0M364.2 322.3h0M364.2 316.1h0M364.1 355.7h0M364.3 345.1h0M364.3 346.7h0M364.1 315.4h0M364.1 305.3h0M364.1 363.7h0M364.1 306.1h0M364.3 310.2h0M364.1 320.3h0M364.1 315.6h0M364.2 334.7h0M364.3 337.5h0M364.3 338h0M364.1 358.2h0M364.3 330.3h0M364.1 310h0M364.2 341.7h0M364.1 332.8h0M364.1 327.6h0M364.2 327.8h0M364.1 336.9h0M364.3 339.7h0M364.1 329h0M364.1 333.6h0M364.2 347.5h0M364.2 361h0M364.1 331.8h0M364.3 306.6h0M364.1 337.8h0M364.1 328.1h0M364.1 323.5h0M364.2 345.5h0M364.2 333.2h0M364.2 313.1h0M364.2 331.2h0M364.3 351.1h0M364.3 338.4h0M364.1 335.1h0M364.2 345.1h0M364.2 320h0M364.2 334.6h0M364.1 304.1h0M364.1 355.2h0M364.2 350.7h0M364.1 339.2h0M364.1 325.9h0M364.3 320.2h0M364.1 351.1h0M364.2 336.4h0M364.2 343.1h0M364.1 346.1h0M364.2 333.1h0M364.2 357.5h0M364.2 323.2h0M364.3 332.8h0M364.2 347h0M364.2 318.6h0M364.1 347h0M364.2 345h0M364.2 341.2h0M364.1 334.9h0M364.3 320.3h0M364.2 340.3h0M364.1 341.4h0M364.3 331.2h0M364.2 347.8h0M364.3 335.3h0M364.3 331.9h0M364.2 324.7h0M364.3 347.6h0M364.3 350.9h0M364.3 320.4h0M364.3 329.1h0M364.1 327.2h0M364.1 327.3h0M364.2 346.8h0M364.2 314.5h0M364.3 321.6h0M364.3 325.8h0M364.3 346.3h0M364.3 327.9h0M364.2 321.1h0M364.2 316.9h0M364.2 331.5h0M364.2 320.2h0M364.2 324h0M364.1 331.5h0M364.1 323.7h0M364.1 314.2h0M364.1 331.2h0M364.2 308.3h0M369.5 353.3h0M375.2 321.6h0M407.4 346.5h0M404.2 317h0M403.6 340.3h0M425.4 322h0M456.1 335.5h0M373.6 344.9h0M436.3 344.2h0M449.7 321.3h0M364.8 344.8h0M444 340.6h0M410.2 321.5h0M413.7 341.6h0M390.4 333.3h0M429.2 345.9h0M398.9 331.6h0M373.7 339.1h0M366.7 313.6h0M365.5 320.8h0M393.5 336.9h0M377 332h0M456.5 327.3h0M414.3 337.8h0M457.7 334.1h0M390.1 322.3h0M383.4 346.3h0M394.6 333.4h0M402.5 326.1h0M371.4 340.5h0M401 347.5h0M375 329.1h0M369.5 317.7h0M395.5 340.7h0M404.3 343.2h0M440 337.1h0M432.1 326.7h0M452.8 349.3h0M447.5 319.3h0M365.4 327.5h0M366 339.3h0M383.7 337.2h0M380.5 341.6h0M386 350.1h0M367.9 324.6h0M375.3 336.9h0M435.4 349.2h0M450.1 322.5h0M368.2 313.3h0M443.7 325.3h0M388 342.6h0M368.2 338.2h0M373.5 328.3h0M456.8 338.9h0M369.6 346.3h0M416.9 319.5h0M409.4 334.4h0M367.1 346.4h0M367.3 353h0M381.9 335.6h0M380.4 320.6h0M366.5 358.8h0M382.6 329.9h0M379.4 336.2h0M370.3 329.4h0M445.1 334h0M453.6 334.8h0M408 336h0M435 322.4h0M373 311.4h0M366.6 354.6h0M378.8 339.9h0M413.9 316.8h0M419.9 321.5h0M401.1 336.6h0M453.4 339.3h0M444.2 321.9h0M375.2 343.3h0M367.1 348.9h0M409.7 332.1h0M415.9 345.1h0M403.8 333h0M378.3 330.8h0M448.7 329.5h0M439.5 350.8h0M435.7 341.2h0M390.9 319.5h0M393.5 329.9h0M366.3 341h0M400.4 337.1h0M365.7 332h0M365.2 314.6h0M392 327.7h0M378.8 343.6h0M364.5 319.8h0M374.7 337.5h0M434.2 335.8h0M379.5 339.3h0M386.8 350.1h0M401.3 347.9h0M420.6 330.5h0M388.1 326.6h0M400.7 314.8h0M432.7 337.1h0M390.6 326.1h0M367.6 317.7h0M396.5 360h0M402.5 344.4h0M400.5 340.1h0M372.6 316.6h0M367.1 336.4h0M400.8 332.8h0M384.8 307.2h0M388.4 361.4h0M393.5 331.1h0M438.8 327h0M405.5 351.8h0M374.6 347h0M421.4 353.1h0M401.4 317.1h0M376.8 332h0M377 344.1h0M386.3 341.4h0M444.4 340.5h0M391.6 340h0M378 345.2h0M429.5 352.9h0M442.4 328.2h0M374.8 322.8h0M448.6 354.1h0M412.6 350.4h0M380.9 323.9h0M368.4 333.1h0M366.6 318h0M441.2 332.5h0M417.5 320.1h0M381.3 354.2h0M390.1 311.2h0M424.1 363.8h0M427.5 321h0M375.3 352.2h0M380.5 335.2h0M456.6 308.9h0M383.5 323.7h0M435.8 315.9h0M365 346h0M379.2 305.7h0M420.7 340.6h0M365.3 349.6h0M372 318.7h0M372.3 345.8h0M388.9 336.3h0M390.9 357.4h0M392 309.2h0M381.5 354.6h0M374.3 343.8h0M414.1 326.8h0M368.6 338h0M371.5 336.3h0M441.6 320h0M395.1 324.2h0M407 335.5h0M390.6 342.8h0M371.5 324.4h0M450.3 356.5h0M399.8 324.7h0M380.6 331.8h0M390.5 347.4h0M371.8 351.7h0M393.2 310h0M371.3 332h0M384 336.3h0M453.2 333.4h0M417.1 322.6h0M391 353h0M394.9 319.9h0M445.1 346h0M376.1 347.6h0M396.3 339.7h0M374.4 321.4h0M446.9 348.2h0M419 335.7h0M397.8 319.9h0M445.1 327h0M384.6 346.7h0M444.5 322.6h0M407.3 321h0M380.6 316.4h0M418.4 333.6h0M414.1 357h0M431.5 337.7h0M372.8 350h0M405.3 333.8h0M375.2 323.4h0M451.2 328.4h0M366 344.3h0M373.5 313.8h0M391.9 332.1h0M407.7 355.1h0M442.8 340.6h0M387.3 340.8h0M419 341.3h0M439.7 326h0M382.4 308h0M438.3 317h0M372.4 329.7h0M394.7 344h0M420.8 339.3h0M446.6 308.5h0M373.6 333.1h0M366 339.5h0M429.5 331.5h0M378.5 337.2h0M392.6 325.3h0M434.4 346.6h0M431.4 333.9h0M391.1 351.6h0M396.8 340.1h0M423.9 336.1h0M385.5 353.3h0M446.2 335.8h0M399.3 350.9h0M424.9 321.2h0M382.7 333.1h0M449.4 327.6h0M376.4 346.2h0M438.2 325.2h0M401.6 356.8h0M376.6 328.8h0M381 329.9h0M450.4 322.7h0M432.9 318.4h0M375.7 334.2h0M407.7 331.1h0M420.5 330.9h0M367.4 321.2h0M370.6 352.9h0M382.3 321.9h0M415.4 327.4h0M425.5 329.8h0M375.6 323h0M421.1 326.3h0M420.5 326.2h0M393.2 337.1h0M365.5 330.6h0M403.5 342.2h0M426.4 351h0M379.3 314.2h0M365.7 309.9h0M457.5 330.7h0M405.2 319.4h0M396.2 326.8h0M402.6 331.1h0M371.1 330.6h0M428.5 315.3h0M371.4 340.5h0M368.2 332.2h0M393.5 338.7h0M441 324.2h0M439.1 318.9h0M422.9 306.6h0M404.9 332.1h0M423.7 352.2h0M371.6 345.8h0M393.4 333.8h0M364.8 331.5h0M403.7 339h0M369.7 330.7h0M376.7 316h0M375.2 334.9h0M409 328.9h0M394.5 337.5h0M368 361.3h0M364.4 355.3h0M377 338.8h0M408.6 349.2h0M422.9 350.1h0M401.8 356.2h0M407.1 333.2h0M409 335.7h0M447.5 318.9h0M431.7 332.7h0M396.5 321.3h0M407.4 313.3h0M398.2 334.8h0M453 334h0M368.5 322.5h0M448.3 322.1h0M399.5 338.1h0M401.6 338.6h0M373.1 333.7h0M375 340.5h0M415.5 342.2h0M376.6 345.8h0M391.9 326.8h0M393.1 333.6h0M364.5 333.8h0M368.8 311.5h0M429.9 340.5h0M371 352.9h0M369.1 335.8h0M455.5 340.9h0M385.3 342.4h0M372.8 347.3h0M372.7 320h0M377 331.3h0M456 336.5h0M368.8 342.3h0M394.5 349.5h0M433.7 321.5h0M452.5 346.2h0M443 311.5h0M445.4 326h0M367.5 351.2h0M450 321.8h0M389.8 316.2h0M379.8 310.8h0M426.7 341h0M367.9 336.5h0M367.5 320.2h0M367.7 335.4h0M371.1 343.2h0M389.5 320.5h0M372.1 349h0M384.4 317.1h0M402 345.1h0M446.7 318.3h0M427.7 327.5h0M407 340.8h0M409 333.9h0M410.8 338.2h0M387.8 338.7h0M399.9 330h0M452.9 337.3h0M435.2 334.2h0M412.5 307h0M453.6 338.6h0M388.7 319.8h0M374.2 309.2h0M451.8 353.3h0M408.3 327.3h0M385.5 339h0M457.3 343.2h0M383.2 313.2h0M368.8 331.2h0M434.8 341.9h0M422.3 334.7h0M367.9 321.9h0M410.2 362.7h0M449.8 328.5h0M419 323.8h0M386.6 318.6h0M384.2 329.3h0M384.9 320h0M364.5 337.5h0M370.5 348.2h0M380.2 330.2h0M387.1 327.2h0M458.7 307.9h0M387.4 321.1h0M364.2 380.9h0M364.2 375.8h0M368.1 373.3h0M380 377.1h0M383.9 398.8h0M395.7 375.8h0M399.7 374.6h0M443 372h0M458.8 370.7h0M458.8 310.8h0M462.7 315.9h0M466.6 332.5h0M395.7 292.9h0M364.2 292.9h0M435.1 333.8h0" stroke="#000" stroke-width="2.1" stroke-linecap="round"/>
<path d="M364.2 332.5L477.5 331.6" stroke="#3a62c0" stroke-width="1.3"/>
<rect x="357.6" y="288.4" width="125.4" height="115" fill="none" stroke="#b5b5b5" stroke-width="0.6"/>
<text x="362.8" y="298.6" font-size="5.2" fill="#222"><tspan font-style="italic">R</tspan> = 0.0076, <tspan font-style="italic">p</tspan> = 0.86</text>
<text x="364.2" y="409" font-size="4.4" fill="#4d4d4d" text-anchor="middle">0.00</text>
<text x="403.6" y="409" font-size="4.4" fill="#4d4d4d" text-anchor="middle">0.05</text>
<text x="443" y="409" font-size="4.4" fill="#4d4d4d" text-anchor="middle">0.10</text>
<text x="355.6" y="383.7" font-size="4.4" fill="#4d4d4d" text-anchor="end">2</text>
<text x="355.6" y="358.2" font-size="4.4" fill="#4d4d4d" text-anchor="end">3</text>
<text x="355.6" y="332.7" font-size="4.4" fill="#4d4d4d" text-anchor="end">4</text>
<text x="355.6" y="307.2" font-size="4.4" fill="#4d4d4d" text-anchor="end">5</text>
<path d="M364.2 403.4v1.3M403.6 403.4v1.3M443 403.4v1.3M357.6 382.2h-1.3M357.6 356.7h-1.3M357.6 331.2h-1.3M357.6 305.7h-1.3" stroke="#555" stroke-width="0.4"/>
<text x="420" y="414.2" font-size="4.9" fill="#222" text-anchor="middle">T cells CD4 memory activated</text>
<text transform="translate(350,343.5) rotate(-90)" font-size="4.9" fill="#222" text-anchor="middle">RPS6KA1</text>
<path d="M483.9 293.6L483.9 293.6C484.1 294.3 484.2 295.9 485.1 297.6C486 299.3 487.7 300.8 489.4 303.6C491.1 306.4 493.6 311.4 495.5 314.6C497.4 317.8 499 320.1 500.9 322.6C502.8 325.1 506.7 327.1 506.9 329.6C507.1 332.1 503.6 334.9 501.9 337.6C500.2 340.3 498.9 342.9 496.9 345.9C494.9 348.9 491.6 352.7 489.9 355.4C488.2 358.2 487.3 360.5 486.5 362.4C485.7 364.3 485.6 364.1 485.3 366.6C484.9 369.1 484.6 373.4 484.4 377.6C484.2 381.8 484 389.3 483.9 391.6L483.9 391.6Z" fill="#22499e"/>
<path d="M483.9 292.5V398.7" stroke="#9a9a9a" stroke-width="0.7"/>
<text x="536.5" y="259.4" font-size="5.9" fill="#222">Cancer: HNSC</text>
<path d="M541.8 286.5L541.8 277.2C542.3 276.3 543.2 273.3 545 272C546.8 270.7 549.8 270 552.3 269.2C554.8 268.4 557.7 267.5 560 267C562.3 266.5 563.7 266.1 565.9 266C568.1 265.9 570.8 266 573.3 266.6C575.8 267.2 578 268.8 581.2 269.8C584.5 270.8 589.2 271.6 592.8 272.5C596.4 273.4 599.5 274.5 603 275.5C606.5 276.5 610.3 277.4 613.8 278.4C617.3 279.3 620.5 280.2 624 281.2C627.5 282.2 631.6 283.5 634.8 284.2C638 284.9 640.3 285.1 643 285.4C645.7 285.7 649.8 285.8 651.2 285.9L651.2 286.5Z" fill="#e8961c"/>
<path d="M541.8 277.2C542.3 276.3 543.2 273.3 545 272C546.8 270.7 549.8 270 552.3 269.2C554.8 268.4 557.7 267.5 560 267C562.3 266.5 563.7 266.1 565.9 266C568.1 265.9 570.8 266 573.3 266.6C575.8 267.2 578 268.8 581.2 269.8C584.5 270.8 589.2 271.6 592.8 272.5C596.4 273.4 599.5 274.5 603 275.5C606.5 276.5 610.3 277.4 613.8 278.4C617.3 279.3 620.5 280.2 624 281.2C627.5 282.2 631.6 283.5 634.8 284.2C638 284.9 640.3 285.1 643 285.4C645.7 285.7 649.8 285.8 651.2 285.9" fill="none" stroke="#3a3a3a" stroke-width="0.55"/>
<path d="M541.8 286.5H657.5" stroke="#8a8a8a" stroke-width="0.6"/>
<rect x="536.5" y="287" width="121.1" height="111.7" fill="#fff"/>
<path d="M557.1 287V398.7M587.7 287V398.7M618.3 287V398.7M648.9 287V398.7M536.5 390.9H657.6M536.5 366.4H657.6M536.5 341.9H657.6M536.5 317.4H657.6M536.5 292.9H657.6" stroke="#f1f1f1" stroke-width="0.5"/>
<path d="M541.8 287V398.7M572.4 287V398.7M603 287V398.7M633.6 287V398.7M536.5 378.6H657.6M536.5 354.1H657.6M536.5 329.6H657.6M536.5 305.1H657.6" stroke="#e2e2e2" stroke-width="0.7"/>
<path d="M541.8 328.4L651.5 326.8L651.5 334L541.8 330.8Z" fill="#c8c8c8" fill-opacity="0.75"/>
<path d="M563.9 332.1h0M545.3 317h0M580.8 310.3h0M571 347.5h0M557.3 336.6h0M603.5 326.5h0M578.8 324.5h0M556.9 321.2h0M566.5 315.4h0M629.2 334.5h0M545.1 324.1h0M560.4 332.3h0M603.9 321.7h0M624.7 340.2h0M573.3 329h0M610.2 312.6h0M555.2 316.5h0M586.3 339.6h0M557 339.3h0M548.9 318h0M570.5 329.1h0M588.8 331.7h0M554.6 327.3h0M603.4 339.1h0M568.1 335.9h0M589 341.6h0M551.9 315.2h0M558.9 322.9h0M568.8 328.1h0M579.2 314.8h0M587.1 335.7h0M553.1 331.5h0M553.6 329h0M602.6 341.3h0M602.5 343.9h0M594.6 349.4h0M579.4 344h0M576.2 331.3h0M542.1 338.6h0M586.5 321.2h0M587.5 329.8h0M559.7 337h0M568.6 316.8h0M558.5 323h0M581.9 326.2h0M558.7 330.8h0M555 340.4h0M547.5 333.3h0M557 340.6h0M550.1 322.2h0M550 311.2h0M552.4 334.3h0M557.6 332.2h0M576.1 330.3h0M556.6 332.3h0M590.5 323.3h0M584.4 334.8h0M551.9 326.1h0M594 309.4h0M561.1 330.1h0M573.4 333.8h0M555.4 344.1h0M587.8 330.7h0M548.7 338.4h0M556.6 328.3h0M593.5 339.4h0M550.7 319.5h0M559.5 332.5h0M571.7 337.2h0M590 337.1h0M568.3 333.9h0M547.5 325.7h0M552.3 322.6h0M554.2 326.1h0M563.5 322.9h0M551.3 322.8h0M585.5 313.9h0M571.7 334.2h0M555.2 311.7h0M557.7 315.3h0M572 322.7h0M561.7 329.8h0M562.8 349.3h0M578.2 318.7h0M581.1 319.5h0M564.1 332.7h0M566.1 322.8h0M566.6 323.9h0M600.5 311h0M595.8 340.9h0M558.2 346.5h0M576.4 313.8h0M594.5 343.5h0M588.7 310.6h0M597.7 343.2h0M592.1 334.1h0M562.7 320.6h0M593 323.7h0M546.3 310.7h0M571.5 321.3h0M593.4 320.1h0M561.2 332.4h0M550.7 322.1h0M567 342.6h0M555.9 349.5h0M551.7 305.8h0M579.8 347.6h0M547.7 321.1h0M615.4 336.1h0M582.4 323.1h0M587.4 322.6h0M562.9 333h0M554.9 347.5h0M603.3 330.5h0M577.1 318.8h0M601.2 305.8h0M601.2 329.7h0M623.9 328.3h0M552.7 325h0M558.5 341.5h0M574.8 335h0M563.7 328.4h0M599.2 330.8h0M580.5 315.1h0M555.6 333h0M593.2 350.2h0M609.2 322h0M602.6 319.8h0M552.2 343.5h0M552.2 320.1h0M547.3 325.3h0M554.7 319.3h0M604.3 359.8h0M555.4 326.7h0M552.7 312.1h0M566.2 321.1h0M564.4 333.9h0M597.3 341.7h0M543.5 330.5h0M568 340.9h0M587 323.5h0M596.5 332.4h0M579.6 345.7h0M566.2 310h0M545.6 311.7h0M572.1 320.7h0M570.8 336.6h0M580.9 327.7h0M566.7 338.8h0M600.5 339.9h0M594.6 332.6h0M586.1 322.1h0M593.6 329.1h0M556.5 320.3h0M594.6 326.8h0M576.2 306.2h0M554.2 314.4h0M550 328.8h0M592.9 346.7h0M552.2 322.1h0M565.5 314.3h0M604.4 311.3h0M553.4 329.8h0M564.4 329.8h0M568.4 333.8h0M569.2 338.5h0M602.4 337h0M552.7 343.1h0M593.3 317.6h0M573.5 325.9h0M577.8 341.9h0M603.5 338.2h0M561.4 332.6h0M607.1 311.8h0M590.5 331.2h0M581.1 316.7h0M559.3 309.1h0M601.6 330.1h0M578.1 336.8h0M567.6 311.4h0M559.6 318.3h0M597.8 348.7h0M588.7 323h0M550.3 330.6h0M559.4 337.7h0M581.9 349.9h0M569.5 339.3h0M602.8 336.5h0M552.8 328.2h0M605.3 349.9h0M582.7 335h0M557.8 328.1h0M549.7 332.1h0M546.3 348.2h0M562.8 325.7h0M550.6 326.7h0M573.9 335.4h0M552.3 316.6h0M558 335.2h0M600 355.1h0M583.5 351.2h0M568.6 310.6h0M598.6 341.7h0M616.1 324.3h0M576.5 333.1h0M550.6 343.2h0M565.4 326.9h0M601.7 317h0M603.5 308.7h0M552.5 317.4h0M561.3 331.9h0M549.8 332.8h0M563.9 312.6h0M575.6 335.3h0M560.6 339.5h0M604.3 328.9h0M555.8 328.6h0M595.6 339.3h0M547.3 345.3h0M561.2 316.7h0M579.5 329.1h0M554.8 319.3h0M601.7 309.5h0M598.4 341.1h0M566.3 330.6h0M595.2 324.3h0M559.1 330.1h0M584.3 341.2h0M582.7 319.5h0M563.7 312.7h0M550.9 325.4h0M572.6 323.8h0M566.8 325.3h0M557 328.9h0M557.6 329h0M565.3 324.1h0M556.7 322.5h0M554.6 340.8h0M563.1 314.4h0M561.6 320h0M553.3 341.3h0M567.7 305.6h0M549.7 318.9h0M582 344.4h0M574.4 332.6h0M594.1 325.3h0M584.8 346.4h0M599.8 323h0M556.1 335.8h0M586 325.1h0M562.4 333.6h0M586 337.6h0M551.8 315.3h0M572.6 323.1h0M584.8 352.2h0M601.8 329.8h0M570.6 336h0M591.4 329.5h0M547.1 327.2h0M545.3 334.7h0M595 334.2h0M559.4 340.4h0M542 312.4h0M584.1 319.2h0M564.9 325.9h0M598 330.2h0M561.5 323.9h0M555.4 353.2h0M562.5 345.7h0M559.6 330.4h0M572.7 333.7h0M559.3 336.1h0M605.6 330.3h0M564.6 345.2h0M571.2 318.5h0M570.8 336.2h0M590.3 321.9h0M555.9 325.4h0M584 347.4h0M545.7 331h0M574.2 327.3h0M562.5 323.8h0M564.3 348.7h0M593.4 315.8h0M568.9 349.6h0M604.4 327.5h0M601.1 323.8h0M562.2 319.4h0M591.5 338.3h0M549.5 318.3h0M580.1 337.4h0M543.1 338.2h0M565.7 321.9h0M562.3 335h0M585.1 335.6h0M560.2 312.9h0M579.5 351h0M561.7 337.4h0M573.1 314h0M561.8 339.5h0M551.3 323.3h0M596.8 329.6h0M544.2 312.7h0M604.5 326.4h0M556.4 329.6h0M604.9 342h0M550.7 332.8h0M568.4 318.1h0M541.9 321.6h0M547.6 337.9h0M560 319.8h0M573.2 346.6h0M598.2 312.7h0M563.4 341.3h0M547.2 339.5h0M564.3 337.8h0M562.9 342h0M562.6 318.3h0M552.2 332.3h0M587.2 337.4h0M569.5 324.6h0M588.9 321.6h0M589.4 328.5h0M570.5 321.4h0M558.5 313.7h0M581.2 323h0M577.2 316.9h0M572.9 334.6h0M585.4 334.4h0M582.1 337.7h0M595.1 334h0M600.1 361.1h0M585.9 319.7h0M546.2 309.6h0M596.2 333.7h0M595 332.4h0M568.4 329.9h0M574.8 322.1h0M543.5 331.3h0M581.9 326h0M552.1 331.8h0M626.7 321.4h0M592.9 335.6h0M596.5 306.8h0M581.6 314.7h0M586.7 351h0M555.4 324.4h0M589.7 325.6h0M565.8 337.6h0M603.1 340.3h0M545.6 318.3h0M556 331.3h0M575.5 347.6h0M600.8 344.7h0M555.4 326.7h0M594 322h0M571.2 324.1h0M556.4 307.4h0M595.2 330h0M580.6 314.9h0M597.2 315.2h0M588.9 347h0M555 322.2h0M574.5 324.6h0M565.3 322.5h0M578.9 324.7h0M568.4 316.6h0M544.7 327.9h0M577.8 326.6h0M592 337h0M578.6 311.3h0M564.4 313.3h0M553.2 322.2h0M550.5 326.4h0M547.2 331.9h0M547.3 338.4h0M571.5 329h0M592.5 331.2h0M542.3 334.9h0M548.7 336.1h0M600.8 350.5h0M565.6 316.4h0M568.5 326.9h0M554.5 352.2h0M566.5 342.2h0M557.8 334.3h0M549.3 352.2h0M582.1 345.8h0M552.1 346.6h0M595.9 341.4h0M545.2 343h0M580.2 333.2h0M559.9 323.9h0M576.9 327.6h0M548.6 334.8h0M588.3 335.3h0M574 324h0M549.7 339.4h0M565 331h0M604.1 338.1h0M565.6 313.6h0M548.8 316.2h0M555.7 325.8h0M559.3 342.2h0M577 331.3h0M570.4 320.6h0M560.6 334.7h0M565.9 319.8h0M551.5 319.3h0M547 322.3h0M552.4 324.9h0M558 328h0M589.5 306.7h0M602.5 344.3h0M590.8 321.1h0M559.4 324.3h0M579.4 317.7h0M559.5 332.6h0M572.1 333.7h0M574.5 349.3h0M568.3 330.1h0M559.2 352.6h0M558.4 335.6h0M585.3 335.3h0M549.2 324.8h0M555.2 320.8h0M550.2 318.1h0M555.1 320.8h0M569.1 342.9h0M585.6 316.6h0M573.5 339.6h0M598.2 308.8h0M558.9 338.1h0M561.2 322.3h0M587.8 352.5h0M578.3 327.2h0M551.7 318.4h0M556.7 340.6h0M559 308.4h0M542.6 340h0M597.2 325.5h0M541.8 320.4h0M543.4 331.2h0M587.4 342.7h0M560.2 336.5h0M564.4 324.7h0M545.1 333.1h0M591.1 327.4h0M558.8 335.9h0M587.3 349.1h0M580.4 339.3h0M577.5 319.2h0M563.2 334.6h0M587 327.7h0M601.3 343.5h0M581.6 326.5h0M552.3 337.8h0M602.8 317.1h0M583.6 330.2h0M554.3 331.5h0M566.7 328.9h0M596.4 327.2h0M561.4 345.4h0M565.7 340.3h0M567.4 329.9h0M579.2 317.8h0M581.7 328.9h0M576.6 339.9h0M548.4 319.1h0M610 318.2h0M547.1 318h0M559.4 317.4h0M578.9 352.9h0M560.8 328.2h0M576.7 346.7h0M577.5 345.2h0M571.4 348.3h0M582.7 336.3h0M574.9 327.8h0M598.1 331h0M541.8 393.3h0M544.9 367.6h0M547.9 373.7h0M563.2 371.2h0M575.5 371.2h0M575.5 377.4h0M587.7 372.5h0M621.4 371.2h0M630.5 363.9h0M624.4 359h0M633.6 346.8h0M642.8 314.9h0M652 310h0M624.4 303.9h0M630.5 305.1h0M633.6 314.9h0M642.8 333.3h0M547.9 292.9h0M566.3 292.9h0" stroke="#000" stroke-width="2.1" stroke-linecap="round"/>
<path d="M541.8 329.6L651.5 330.4" stroke="#3a62c0" stroke-width="1.3"/>
<rect x="536.5" y="287" width="121.1" height="111.7" fill="none" stroke="#b5b5b5" stroke-width="0.6"/>
<text x="541.8" y="296.8" font-size="5.2" fill="#222"><tspan font-style="italic">R</tspan> = −0.026, <tspan font-style="italic">p</tspan> = 0.56</text>
<text x="541.8" y="404.3" font-size="4.4" fill="#4d4d4d" text-anchor="middle">0.0</text>
<text x="572.4" y="404.3" font-size="4.4" fill="#4d4d4d" text-anchor="middle">0.1</text>
<text x="603" y="404.3" font-size="4.4" fill="#4d4d4d" text-anchor="middle">0.2</text>
<text x="633.6" y="404.3" font-size="4.4" fill="#4d4d4d" text-anchor="middle">0.3</text>
<text x="534.5" y="380.1" font-size="4.4" fill="#4d4d4d" text-anchor="end">2</text>
<text x="534.5" y="355.6" font-size="4.4" fill="#4d4d4d" text-anchor="end">3</text>
<text x="534.5" y="331.1" font-size="4.4" fill="#4d4d4d" text-anchor="end">4</text>
<text x="534.5" y="306.6" font-size="4.4" fill="#4d4d4d" text-anchor="end">5</text>
<path d="M541.8 398.7v1.3M572.4 398.7v1.3M603 398.7v1.3M633.6 398.7v1.3M536.5 378.6h-1.3M536.5 354.1h-1.3M536.5 329.6h-1.3M536.5 305.1h-1.3" stroke="#555" stroke-width="0.4"/>
<text x="597" y="409.8" font-size="4.9" fill="#222" text-anchor="middle">T cells CD8</text>
<text transform="translate(528.5,341) rotate(-90)" font-size="4.9" fill="#222" text-anchor="middle">RPS6KA1</text>
<path d="M658.3 292.5L658.3 292.5C658.5 293.2 658.6 294.8 659.5 296.5C660.4 298.2 662.1 299.7 663.8 302.5C665.5 305.3 668 310.3 669.9 313.5C671.8 316.7 673.4 319 675.3 321.5C677.2 324 681.1 326 681.3 328.5C681.5 331 678 333.8 676.3 336.5C674.6 339.2 673.3 341.8 671.3 344.8C669.3 347.8 666 351.6 664.3 354.3C662.6 357.1 661.7 359.4 660.9 361.3C660.1 363.2 660 363 659.7 365.5C659.3 368 659 372.3 658.8 376.5C658.6 380.7 658.4 388.2 658.3 390.5L658.3 390.5Z" fill="#22499e"/>
<path d="M658.3 291.5V394.8" stroke="#9a9a9a" stroke-width="0.7"/>
</g>
<g font-family="Liberation Sans, Arial, sans-serif" fill="#222">
<text x="67.7" y="438.5" font-family="Liberation Serif, Times New Roman, serif" font-weight="bold" font-size="11" textLength="34.5" lengthAdjust="spacingAndGlyphs" fill="#111">Normal</text>
<text x="67.7" y="641.6" font-family="Liberation Serif, Times New Roman, serif" font-weight="bold" font-size="11" textLength="34.5" lengthAdjust="spacingAndGlyphs" fill="#111">Normal</text>
<text x="231.2" y="438.5" font-family="Liberation Serif, Times New Roman, serif" font-weight="bold" font-size="11" textLength="18.1" lengthAdjust="spacingAndGlyphs" fill="#111">I+II</text>
<text x="231.2" y="641.6" font-family="Liberation Serif, Times New Roman, serif" font-weight="bold" font-size="11" textLength="18.1" lengthAdjust="spacingAndGlyphs" fill="#111">I+II</text>
<text x="381.2" y="438.5" font-family="Liberation Serif, Times New Roman, serif" font-weight="bold" font-size="11" textLength="30.6" lengthAdjust="spacingAndGlyphs" fill="#111">III+IV</text>
<text x="381.2" y="641.6" font-family="Liberation Serif, Times New Roman, serif" font-weight="bold" font-size="11" textLength="30.6" lengthAdjust="spacingAndGlyphs" fill="#111">III+IV</text>
<path transform="translate(0 0.5)" d="M76 460h1m-18 1h1m60 0h1m-44 4h1m-17 3h1m6 1h1m56 3h1m-18 1h1m-61 2h1m69 5h1m-54 3h1m-13 9h1m8 2h1m55 0h1m-62 2h1m15 3h1m35 1h1m-49 1h1m1 0h1m57 0h1m-54 1h1m53 0h1m-1 1h1m-49 1h1m12 0h1m3 0h1m-31 1h1m8 0h1m21 0h1m4 0h1m-1 1h1m1 0h1m17 0h1m-46 1h1m14 0h1m21 2h1m5 0h1m1 0h1m-75 1h1m5 0h1m17 0h1m9 0h1m22 0h1m20 1h1m7 0h1m-84 1h1m27 0h1m39 0h1m-59 1h1m38 0h1m4 0h1m-54 1h1m14 0h1m21 0h1m-31 1h1m59 1h1m-50 1h1m28 0h1m20 0h1m1 0h1m-11 1h1m3 0h1m-20 1h1m14 0h1m7 0h1m7 0h1m-64 1h1m20 0h1m3 0h1m14 1h1m14 0h1m2 0h1m-55 1h1m33 0h1m0 0h1m-26 1h1m8 0h1m8 0h1m-24 1h1m0 0h1m4 0h1m9 0h1m7 0h1m1 1h1m14 0h1m10 0h1m7 0h1m-55 1h1m6 0h1m1 0h1m14 0h1m20 0h1m-26 1h1m1 1h1m-53 3h1m8 0h1m19 0h1m4 0h1m6 0h1m11 0h1m-54 1h1m9 0h1m29 0h1m4 0h1m2 0h1m-52 2h1m28 0h1m1 0h1m41 0h1m10 0h1m-79 1h1m31 0h1m6 0h1m38 0h1m-79 1h1m2 0h1m11 0h1m27 0h1m-42 1h1m12 0h1m16 0h1m34 0h1m-41 1h1m9 0h1m15 0h1m-18 1h1m25 0h1m3 0h1m-58 1h1m19 0h1m9 0h1m18 0h1m-52 1h1m20 0h1m2 2h1m34 0h1m-15 1h1m2 0h1m-30 1h1m4 1h1m16 0h1m29 0h1m-66 1h1m16 0h1m17 0h1m19 0h1m-42 1h1m-34 1h1m29 0h1m14 0h1m0 0h1m6 0h1m2 0h1m20 0h1m0 0h1m-32 1h1m-42 1h1m47 0h1m19 0h1m-56 1h1m15 0h1m8 0h1m33 0h1m-15 1h1m-38 1h1m7 0h1m6 0h1m2 0h1m29 0h1m-35 2h1m0 0h1m16 0h1m3 0h1m-5 1h1m21 0h1m-77 1h1m57 0h1m-57 1h1m16 0h1m2 0h1m-5 1h1m11 0h1m15 0h1m6 0h1m-43 1h1m25 0h1m22 0h1m-55 1h1m4 0h1m32 0h1m20 0h1m-52 1h1m40 0h1m1 0h1m-26 1h1m10 0h1m6 0h1" stroke="#8a90c8" stroke-width="1.0"/>
<path transform="translate(0 0.5)" d="M59 506h1m6 0h1m5 0h1m16 0h1m-27 2h1m8 0h1m-9 1h1m14 0h1m9 0h1m2 0h1m-38 2h1m26 0h1m-10 1h1m3 0h1m-8 1h1m14 0h1m0 0h1m-41 1h1m16 0h1m7 0h1m22 0h1m-47 1h1m6 0h1m9 0h1m10 0h1m3 0h1m11 0h1m-35 1h1m13 0h1m-16 1h1m17 0h1m0 0h1m-32 2h1m3 0h1m10 0h1m10 0h1m-16 1h1m1 0h1m11 0h1m-24 1h1m14 0h1m21 0h1m-18 1h1m-7 2h1m20 0h1m12 0h1m-27 1h1m-4 3h1m13 0h1m-35 1h1m7 0h1m-10 1h1m14 0h1m8 0h1m8 0h1m-27 1h1m9 0h1m13 1h1m6 0h1m-6 1h1m-33 1h1m46 0h1m-36 1h1m3 0h1m28 2h1m-39 1h1m10 0h1m-4 1h1m21 0h1m11 1h1m-47 1h1m11 0h1m5 0h1m7 0h1m4 0h1m14 2h1m-46 1h1m7 0h1m23 0h1m3 0h1m-23 1h1m4 1h1m9 0h1m-13 1h1m27 0h1m-6 1h1m-38 1h1m-9 1h1m4 0h1m3 0h1m12 0h1m-6 1h1m-16 1h1m5 0h1m2 0h1m15 0h1m-3 1h1m3 0h1m-5 1h1m4 0h1m-18 2h1m19 0h1m-34 1h1m15 0h1m28 0h1m-33 1h1m18 0h1m6 0h1m1 0h1m0 0h1m1 0h1m-39 1h1m42 0h1m-42 1h1m36 0h1m-35 1h1m-3 1h1m22 0h1m5 0h1" stroke="#b4b8da" stroke-width="1.0"/>
<path transform="translate(0 0.5)" d="M113 509h1m5 1h1m-7 2h1m0 0h1m2 0h1m7 1h1m0 0h1m-14 1h1m-5 1h1m2 0h1m6 0h1m-9 1h1m0 1h1m-10 1h1m2 0h1m1 0h1m5 0h1m2 0h1m2 0h1m3 0h1m-17 1h1m1 0h1m0 0h1m0 0h1m2 0h1m-16 1h1m4 0h1m0 0h1m0 0h1m0 0h1m1 0h1m2 0h1m0 0h1m0 0h1m-14 1h1m2 0h1m0 0h1m1 0h1m0 0h1m1 0h1m0 0h1m1 0h1m-23 1h1m15 0h1m1 0h1m1 0h1m1 0h1m-10 1h1m0 0h1m1 0h1m0 0h1m0 0h1m-14 1h1m3 0h1m0 0h1m0 0h1m0 0h1m0 0h1m0 0h1m0 0h1m1 0h1m-12 1h1m4 0h1m3 0h1m0 0h1m2 0h1m0 0h1m2 0h1m-19 1h1m0 0h1m3 0h1m0 0h1m0 0h1m1 0h1m1 0h1m0 0h1m-16 1h1m3 0h1m0 0h1m1 0h1m2 0h1m0 0h1m2 0h1m0 0h1m0 0h1m1 0h1m-22 1h1m5 0h1m0 0h1m1 0h1m0 0h1m0 0h1m0 0h1m1 0h1m1 0h1m4 0h1m-25 1h1m0 0h1m5 0h1m1 0h1m0 0h1m0 0h1m0 0h1m0 0h1m1 0h1m2 0h1m0 0h1m-13 1h1m2 0h1m0 0h1m0 0h1m0 0h1m0 0h1m0 0h1m3 0h1m0 0h1m0 0h1m2 0h1m0 0h1m-23 1h1m0 0h1m4 0h1m0 0h1m0 0h1m0 0h1m2 0h1m0 0h1m1 0h1m1 0h1m3 0h1m-23 1h1m4 0h1m1 0h1m0 0h1m0 0h1m2 0h1m2 0h1m-17 1h1m1 0h1m1 0h1m0 0h1m0 0h1m0 0h1m2 0h1m2 0h1m3 0h1m0 0h1m1 0h1m-21 1h1m0 0h1m0 0h1m0 0h1m0 0h1m1 0h1m0 0h1m1 0h1m0 0h1m0 0h1m0 0h1m3 0h1m4 0h1m-29 1h1m6 0h1m1 0h1m2 0h1m0 0h1m2 0h1m2 0h1m1 0h1m0 0h1m-18 1h1m0 0h1m1 0h1m1 0h1m1 0h1m0 0h1m0 0h1m0 0h1m1 0h1m2 0h1m3 0h1m-18 1h1m0 0h1m2 0h1m0 0h1m0 0h1m0 0h1m0 0h1m0 0h1m1 0h1m1 0h1m3 0h1m-21 1h1m2 0h1m1 0h1m1 0h1m0 0h1m2 0h1m0 0h1m1 0h1m7 0h1m-21 1h1m1 0h1m2 0h1m0 0h1m1 0h1m0 0h1m1 0h1m-6 1h1m0 0h1m3 0h1m0 0h1m4 0h1m-22 1h1m-1 1h1m1 0h1m3 0h1m0 0h1m1 0h1m0 0h1m0 0h1m-17 1h1m0 0h1m14 0h1m0 0h1m-10 1h1m1 0h1m0 0h1m0 0h1m-9 1h1m3 0h1m2 0h1m2 0h1m-11 1h1m2 0h1m-2 1h1m0 0h1m2 0h1m6 0h1m-18 1h1m6 0h1m7 1h1m-16 1h1m6 0h1m1 0h1m-18 2h1m1 0h1m3 0h1m3 1h1m3 0h1m-8 3h1m-1 3h1m-4 2h1" stroke="#3a4aae" stroke-width="1.0"/>
<path transform="translate(0 0.5)" d="M124 504h1m-10 6h1m-7 1h1m1 0h1m3 1h1m1 1h1m-13 1h1m3 0h1m12 0h1m1 0h1m-25 1h1m7 0h1m6 0h1m1 0h1m-14 1h1m4 0h1m1 0h1m-4 1h1m4 0h1m0 0h1m0 0h1m6 0h1m-15 1h1m4 0h1m0 0h1m-15 1h1m5 0h1m0 0h1m8 0h1m3 0h1m-24 1h1m4 0h1m2 0h1m0 0h1m0 0h1m2 0h1m0 0h1m1 0h1m2 0h1m-18 1h1m8 0h1m4 0h1m1 0h1m-18 1h1m2 0h1m1 0h1m1 0h1m1 0h1m1 0h1m5 0h1m-23 1h1m3 0h1m5 0h1m1 0h1m1 0h1m1 0h1m6 0h1m-18 1h1m3 0h1m1 0h1m0 0h1m0 0h1m1 0h1m0 0h1m0 0h1m4 0h1m-24 1h1m8 0h1m1 0h1m0 0h1m0 0h1m0 0h1m0 0h1m0 0h1m0 0h1m0 0h1m-15 1h1m0 0h1m2 0h1m0 0h1m0 0h1m3 0h1m2 0h1m1 0h1m1 0h1m-19 1h1m1 0h1m1 0h1m2 0h1m2 0h1m1 0h1m2 0h1m1 0h1m-20 1h1m0 0h1m1 0h1m1 0h1m1 0h1m1 0h1m0 0h1m0 0h1m0 0h1m-13 1h1m0 0h1m1 0h1m1 0h1m1 0h1m1 0h1m6 0h1m1 0h1m-21 1h1m4 0h1m0 0h1m2 0h1m0 0h1m0 0h1m0 0h1m0 0h1m0 0h1m1 0h1m0 0h1m-19 1h1m0 0h1m1 0h1m1 0h1m0 0h1m0 0h1m1 0h1m0 0h1m0 0h1m2 0h1m3 0h1m3 0h1m-22 1h1m2 0h1m0 0h1m0 0h1m2 0h1m3 0h1m4 0h1m3 0h1m-25 1h1m7 0h1m2 0h1m1 0h1m0 0h1m0 0h1m-11 1h1m1 0h1m1 0h1m1 0h1m0 0h1m0 0h1m0 0h1m-21 1h1m1 0h1m2 0h1m2 0h1m1 0h1m0 0h1m2 0h1m0 0h1m1 0h1m0 0h1m6 0h1m-32 1h1m11 0h1m2 0h1m0 0h1m0 0h1m0 0h1m0 0h1m0 0h1m1 0h1m0 0h1m0 0h1m0 0h1m2 0h1m0 0h1m-21 1h1m3 0h1m0 0h1m1 0h1m1 0h1m1 0h1m0 0h1m0 0h1m1 0h1m1 0h1m-16 1h1m1 0h1m0 0h1m6 0h1m0 0h1m0 0h1m0 0h1m0 0h1m0 0h1m-19 1h1m6 0h1m0 0h1m1 0h1m1 0h1m0 0h1m0 0h1m2 0h1m0 0h1m-17 1h1m1 0h1m2 0h1m0 0h1m1 0h1m1 0h1m0 0h1m1 0h1m1 0h1m-19 1h1m3 0h1m1 0h1m6 0h1m4 0h1m-20 1h1m5 0h1m1 0h1m1 0h1m1 0h1m0 0h1m4 0h1m-17 1h1m3 0h1m6 0h1m-10 1h1m0 0h1m0 0h1m0 0h1m11 0h1m-17 1h1m1 0h1m2 0h1m1 0h1m1 0h1m3 0h1m-14 1h1m5 0h1m1 1h1m-19 1h1m8 0h1m0 0h1m7 0h1m-14 2h1m5 1h1m1 0h1m6 4h1m-9 3h1m-7 5h1" stroke="#5864b8" stroke-width="1.0"/>
<path transform="translate(0 0.5)" d="M112 492h1m-2 15h1m-2 1h1m10 0h1m-36 2h1m22 0h1m-1 1h1m3 0h1m-28 1h1m21 0h1m0 0h1m6 0h1m5 0h1m-29 1h1m39 1h1m-26 2h1m1 0h1m6 0h1m-16 1h1m10 0h1m1 0h1m0 0h1m9 0h1m-32 1h1m3 0h1m3 0h1m11 0h1m4 0h1m-19 1h1m11 0h1m5 0h1m4 0h1m-39 1h1m10 0h1m2 0h1m23 0h1m-33 1h1m1 0h1m0 0h1m4 0h1m1 0h1m4 1h1m-35 1h1m10 0h1m0 0h1m1 0h1m1 0h1m1 0h1m6 0h1m10 0h1m-16 1h1m4 0h1m0 0h1m24 0h1m-34 1h1m9 0h1m0 0h1m0 0h1m2 0h1m2 0h1m2 0h1m-24 1h1m2 0h1m12 0h1m8 0h1m4 0h1m1 0h1m-36 1h1m1 0h1m3 0h1m1 0h1m2 0h1m0 0h1m16 0h1m-17 1h1m2 0h1m0 0h1m1 0h1m0 0h1m5 0h1m-16 1h1m0 0h1m1 0h1m-31 1h1m10 0h1m2 0h1m2 0h1m0 0h1m7 0h1m4 0h1m2 0h1m2 0h1m2 0h1m-36 1h1m5 0h1m8 0h1m4 0h1m3 0h1m20 0h1m-33 1h1m3 0h1m2 0h1m5 0h1m5 0h1m15 0h1m-43 1h1m2 0h1m3 0h1m3 0h1m0 0h1m0 0h1m0 0h1m0 0h1m3 0h1m1 0h1m1 0h1m1 0h1m4 0h1m-42 1h1m3 0h1m5 0h1m3 0h1m14 0h1m7 0h1m-16 1h1m6 0h1m2 0h1m3 0h1m-26 1h1m2 0h1m2 0h1m10 0h1m0 0h1m1 0h1m4 0h1m-28 1h1m0 0h1m0 0h1m11 0h1m9 0h1m14 0h1m0 0h1m-38 1h1m7 0h1m10 0h1m17 0h1m-44 1h1m7 0h1m7 0h1m23 0h1m-47 1h1m9 0h1m2 0h1m0 0h1m1 0h1m7 0h1m1 0h1m-9 1h1m4 0h1m3 0h1m6 0h1m0 0h1m-32 1h1m15 0h1m-17 1h1m12 0h1m1 0h1m2 0h1m14 0h1m0 0h1m-35 1h1m7 0h1m11 0h1m5 0h1m15 0h1m-39 1h1m6 0h1m13 0h1m10 0h1m1 1h1m-36 1h1m18 0h1m20 1h1m-10 1h1m-35 1h1m15 1h1m5 0h1m9 0h1m0 0h1m-44 1h1m14 0h1m1 0h1m8 0h1m-23 1h1m4 0h1m11 0h1m13 1h1m-17 1h1m1 1h1m2 0h1m-5 1h1m0 1h1m-13 1h1m16 0h1m6 1h1m-20 10h1" stroke="#8a92c8" stroke-width="1.0"/>
<path transform="translate(0 0.5)" d="M94 525h1m12 0h1m3 3h1m-2 6h1m-20 1h1m4 0h1m15 0h1m-23 1h1m3 0h1m2 0h1m3 0h1m21 0h1m-45 1h1m14 0h1m3 0h1m7 0h1m0 0h1m9 0h1m-36 1h1m6 0h1m1 1h1m3 1h1m6 0h1m1 0h1m-18 1h1m1 0h1m3 0h1m-18 1h1m3 0h1m7 0h1m1 0h1m6 0h1m3 0h1m5 0h1m-33 1h1m3 0h1m4 0h1m1 0h1m12 0h1m2 0h1m0 0h1m-34 1h1m1 0h1m1 0h1m1 0h1m12 0h1m3 0h1m3 0h1m7 0h1m-32 1h1m0 0h1m12 0h1m0 0h1m1 0h1m0 0h1m4 0h1m2 0h1m0 0h1m1 0h1m2 0h1m-29 1h1m1 0h1m1 0h1m0 0h1m2 0h1m1 0h1m1 0h1m0 0h1m0 0h1m0 0h1m0 0h1m4 0h1m0 0h1m-34 1h1m7 0h1m4 0h1m1 0h1m5 0h1m0 0h1m2 0h1m1 0h1m4 0h1m6 0h1m12 0h1m-57 1h1m9 0h1m4 0h1m0 0h1m0 0h1m1 0h1m2 0h1m0 0h1m0 0h1m0 0h1m0 0h1m0 0h1m1 0h1m3 0h1m2 0h1m-34 1h1m1 0h1m1 0h1m7 0h1m0 0h1m1 0h1m0 0h1m0 0h1m1 0h1m0 0h1m0 0h1m13 0h1m1 0h1m-35 1h1m2 0h1m1 0h1m0 0h1m0 0h1m0 0h1m0 0h1m0 0h1m0 0h1m1 0h1m0 0h1m1 0h1m0 0h1m4 0h1m0 0h1m1 0h1m0 0h1m7 0h1m-52 1h1m8 0h1m10 0h1m0 0h1m0 0h1m0 0h1m2 0h1m2 0h1m2 0h1m0 0h1m0 0h1m1 0h1m3 0h1m1 0h1m9 0h1m-36 1h1m0 0h1m0 0h1m0 0h1m3 0h1m1 0h1m0 0h1m0 0h1m0 0h1m0 0h1m1 0h1m2 0h1m0 0h1m3 0h1m0 0h1m5 0h1m-46 1h1m17 0h1m4 0h1m0 0h1m1 0h1m0 0h1m1 0h1m3 0h1m0 0h1m4 0h1m-32 1h1m2 0h1m3 0h1m1 0h1m1 0h1m0 0h1m0 0h1m0 0h1m0 0h1m0 0h1m3 0h1m2 0h1m4 0h1m1 0h1m-36 1h1m9 0h1m0 0h1m3 0h1m0 0h1m0 0h1m1 0h1m2 0h1m0 0h1m1 0h1m0 0h1m3 0h1m0 0h1m0 0h1m0 0h1m-34 1h1m3 0h1m1 0h1m3 0h1m0 0h1m0 0h1m0 0h1m0 0h1m0 0h1m5 0h1m0 0h1m5 0h1m5 0h1m-29 1h1m2 0h1m1 0h1m0 0h1m0 0h1m0 0h1m0 0h1m0 0h1m0 0h1m2 0h1m3 0h1m0 0h1m3 0h1m0 0h1m3 0h1m6 0h1m-36 1h1m0 0h1m4 0h1m4 0h1m1 0h1m0 0h1m3 0h1m2 0h1m0 0h1m0 0h1m0 0h1m-36 1h1m2 0h1m1 0h1m1 0h1m8 0h1m3 0h1m0 0h1m0 0h1m1 0h1m0 0h1m9 0h1m-25 1h1m0 0h1m1 0h1m3 0h1m0 0h1m0 0h1m1 0h1m10 0h1m2 0h1m1 0h1m0 0h1m3 0h1m-43 1h1m2 0h1m3 0h1m2 0h1m5 0h1m4 0h1m1 0h1m1 0h1m0 0h1m0 0h1m1 0h1m2 0h1m-33 1h1m7 0h1m0 0h1m12 0h1m0 0h1m0 0h1m0 0h1m1 0h1m1 0h1m-36 1h1m5 0h1m1 0h1m1 0h1m0 0h1m2 0h1m1 0h1m1 0h1m0 0h1m0 0h1m1 0h1m3 0h1m0 0h1m6 0h1m2 0h1m2 0h1m-33 1h1m1 0h1m2 0h1m5 0h1m2 0h1m1 0h1m0 0h1m1 0h1m0 0h1m0 0h1m4 0h1m2 0h1m2 0h1m2 0h1m-39 1h1m2 0h1m4 0h1m0 0h1m4 0h1m2 0h1m2 0h1m13 0h1m-42 1h1m5 0h1m5 0h1m2 0h1m2 0h1m2 0h1m10 0h1m2 0h1m1 0h1m-32 1h1m8 0h1m9 0h1m0 0h1m3 0h1m0 0h1m-15 1h1m0 0h1m1 0h1m0 0h1m0 0h1m1 0h1m2 0h1m0 0h1m1 0h1m-25 1h1m2 0h1m5 0h1m3 0h1m3 0h1m5 0h1m4 0h1m-31 1h1m5 0h1m3 0h1m17 0h1m-22 1h1m1 0h1m0 0h1m25 0h1" stroke="#3444ac" stroke-width="1.0"/>
<path transform="translate(0 0.5)" d="M49 556h1m-3 2h1m16 0h1m4 0h1m-25 1h1m7 0h1m2 0h1m-15 1h1m0 0h1m1 0h1m2 0h1m0 0h1m6 0h1m0 0h1m1 0h1m1 0h1m-17 1h1m0 0h1m3 0h1m2 0h1m0 0h1m1 0h1m0 0h1m2 0h1m3 0h1m-23 1h1m0 0h1m1 0h1m0 0h1m0 0h1m0 0h1m2 0h1m0 0h1m1 0h1m0 0h1m4 0h1m8 0h1m-27 1h1m0 0h1m0 0h1m0 0h1m0 0h1m0 0h1m1 0h1m0 0h1m3 0h1m2 0h1m1 0h1m-20 1h1m0 0h1m0 0h1m0 0h1m1 0h1m0 0h1m0 0h1m1 0h1m0 0h1m0 0h1m0 0h1m0 0h1m3 0h1m1 0h1m-19 1h1m1 0h1m0 0h1m0 0h1m0 0h1m0 0h1m0 0h1m0 0h1m0 0h1m0 0h1m2 0h1m0 0h1m0 0h1m3 0h1m-21 1h1m0 0h1m0 0h1m0 0h1m0 0h1m0 0h1m0 0h1m0 0h1m0 0h1m0 0h1m0 0h1m0 0h1m0 0h1m0 0h1m0 0h1m0 0h1m0 0h1m3 0h1m3 0h1m-25 1h1m0 0h1m0 0h1m0 0h1m0 0h1m0 0h1m0 0h1m0 0h1m0 0h1m0 0h1m0 0h1m0 0h1m0 0h1m1 0h1m0 0h1m1 0h1m0 0h1m0 0h1m1 0h1m-21 1h1m0 0h1m0 0h1m0 0h1m0 0h1m0 0h1m0 0h1m0 0h1m0 0h1m0 0h1m1 0h1m0 0h1m3 0h1m0 0h1m1 0h1m-21 1h1m0 0h1m0 0h1m0 0h1m0 0h1m0 0h1m0 0h1m0 0h1m0 0h1m0 0h1m0 0h1m0 0h1m0 0h1m0 0h1m0 0h1m1 0h1m1 0h1m-19 1h1m0 0h1m1 0h1m0 0h1m0 0h1m0 0h1m0 0h1m0 0h1m1 0h1m0 0h1m0 0h1m0 0h1m0 0h1m0 0h1m-15 1h1m0 0h1m2 0h1m1 0h1m0 0h1m2 0h1m0 0h1m1 0h1m0 0h1" stroke="#2a3cb4" stroke-width="1.0"/>
<clipPath id="cp27"><rect x="40.6" y="452.9" width="105.9" height="118.6"/></clipPath><g clip-path="url(#cp27)">
<g transform="translate(44.2,567.7) rotate(-12)" filter="url(#bl)">
<ellipse rx="11.2" ry="3.7" fill="#2a4cc4"/>
<ellipse rx="9.8" ry="3.2" fill="#2470d6"/>
<ellipse rx="9.5" ry="3.1" fill="#1f98df"/>
<ellipse rx="7.7" ry="2.5" fill="#22c3d2"/>
<ellipse rx="6" ry="2" fill="#35c27a"/>
</g>
</g>
<path transform="translate(0 0.5)" d="M79 550h1m12 0h1m-19 2h1m-1 2h1m10 0h1m-25 1h1m1 0h1m8 0h1m0 0h1m16 0h1m-26 1h1m1 0h1m2 0h1m0 0h1m6 0h1m0 0h1m1 0h1m-22 1h1m0 0h1m3 0h1m1 0h1m0 0h1m0 0h1m1 0h1m0 0h1m0 0h1m2 0h1m0 0h1m-19 1h1m2 0h1m4 0h1m0 0h1m0 0h1m0 0h1m0 0h1m0 0h1m1 0h1m1 0h1m0 0h1m0 0h1m0 0h1m0 0h1m2 0h1m-23 1h1m0 0h1m2 0h1m1 0h1m0 0h1m0 0h1m0 0h1m0 0h1m0 0h1m0 0h1m1 0h1m0 0h1m0 0h1m0 0h1m2 0h1m-22 1h1m1 0h1m0 0h1m0 0h1m0 0h1m0 0h1m0 0h1m0 0h1m0 0h1m0 0h1m0 0h1m0 0h1m0 0h1m0 0h1m0 0h1m0 0h1m1 0h1m1 0h1m1 0h1m-26 1h1m5 0h1m0 0h1m0 0h1m0 0h1m0 0h1m0 0h1m1 0h1m0 0h1m0 0h1m0 0h1m0 0h1m0 0h1m0 0h1m0 0h1m1 0h1m2 0h1m0 0h1m1 0h1m-31 1h1m2 0h1m2 0h1m0 0h1m0 0h1m0 0h1m0 0h1m0 0h1m0 0h1m0 0h1m0 0h1m0 0h1m0 0h1m1 0h1m0 0h1m0 0h1m0 0h1m-20 1h1m2 0h1m1 0h1m0 0h1m0 0h1m0 0h1m0 0h1m0 0h1m0 0h1m0 0h1m0 0h1m0 0h1m0 0h1m0 0h1m0 0h1m1 0h1m0 0h1m7 0h1m1 0h1m-28 1h1m0 0h1m0 0h1m0 0h1m1 0h1m0 0h1m0 0h1m0 0h1m0 0h1m0 0h1m0 0h1m0 0h1m0 0h1m0 0h1m0 0h1m0 0h1m0 0h1m0 0h1m-23 1h1m0 0h1m2 0h1m0 0h1m1 0h1m0 0h1m0 0h1m0 0h1m0 0h1m0 0h1m0 0h1m0 0h1m0 0h1m1 0h1m0 0h1m0 0h1m4 0h1m3 0h1m-27 1h1m0 0h1m0 0h1m2 0h1m0 0h1m0 0h1m0 0h1m0 0h1m1 0h1m1 0h1m1 0h1m0 0h1m0 0h1m4 0h1m0 0h1m-27 1h1m1 0h1m0 0h1m0 0h1m0 0h1m2 0h1m0 0h1m0 0h1m0 0h1m0 0h1m0 0h1m0 0h1m2 0h1m0 0h1m0 0h1m0 0h1m0 0h1m-25 1h1m0 0h1m3 0h1m0 0h1m0 0h1m0 0h1m0 0h1m1 0h1m1 0h1m4 0h1m0 0h1m0 0h1m5 0h1m-27 1h1m4 0h1m0 0h1m0 0h1m0 0h1m0 0h1m1 0h1m0 0h1m1 0h1m0 0h1m1 0h1m0 0h1m-11 1h1m1 0h1m2 0h1m1 0h1m3 0h1m-16 1h1m0 0h1m11 0h1m4 0h1" stroke="#2a3cb4" stroke-width="1.0"/>
<g transform="translate(69.1,562.7) rotate(-18)" filter="url(#bl)">
<ellipse rx="10" ry="4.2" fill="#2a4cc4"/>
<ellipse rx="8.8" ry="3.6" fill="#2470d6"/>
<ellipse rx="8.5" ry="3.5" fill="#1f98df"/>
<ellipse rx="6.9" ry="2.9" fill="#22c3d2"/>
<ellipse rx="5.4" ry="2.2" fill="#35c27a"/>
<ellipse rx="4" ry="1.7" fill="#9ed62a"/>
<ellipse rx="2.8" ry="1.1" fill="#ece51e"/>
<ellipse rx="1.6" ry="0.7" fill="#f39a1e"/>
<ellipse rx="0.9" ry="0.4" fill="#e3281e"/>
</g>
<path d="M54.4 568.9L57.8 561.3L63.5 554.2L71 550.1L82.4 550.4L88.1 552.8L86.7 563.2L76.7 568.4Z" fill="none" stroke="#000" stroke-width="0.9"/>
<text x="50.5" y="527" font-size="5.6" fill="#111" stroke="#111" stroke-width="0.12">Lymphocytes</text>
<rect x="27.5" y="452.9" width="119" height="118.6" fill="none" stroke="#3a3a3a" stroke-width="0.8"/>
<path d="M27.5 571.5v2.2M27.5 571.5h-2.2M32 571.5v1.2M27.5 567h-1.2M36.5 571.5v1.2M27.5 562.5h-1.2M41.1 571.5v1.2M27.5 557.9h-1.2M45.6 571.5v1.2M27.5 553.4h-1.2M50.1 571.5v2.2M27.5 548.9h-2.2M54.6 571.5v1.2M27.5 544.4h-1.2M59.1 571.5v1.2M27.5 539.9h-1.2M63.7 571.5v1.2M27.5 535.3h-1.2M68.2 571.5v1.2M27.5 530.8h-1.2M72.7 571.5v2.2M27.5 526.3h-2.2M77.2 571.5v1.2M27.5 521.8h-1.2M81.7 571.5v1.2M27.5 517.3h-1.2M86.3 571.5v1.2M27.5 512.7h-1.2M90.8 571.5v1.2M27.5 508.2h-1.2M95.3 571.5v2.2M27.5 503.7h-2.2M99.8 571.5v1.2M27.5 499.2h-1.2M104.3 571.5v1.2M27.5 494.7h-1.2M108.9 571.5v1.2M27.5 490.1h-1.2M113.4 571.5v1.2M27.5 485.6h-1.2M117.9 571.5v2.2M27.5 481.1h-2.2M122.4 571.5v1.2M27.5 476.6h-1.2M126.9 571.5v1.2M27.5 472.1h-1.2M131.5 571.5v1.2M27.5 467.5h-1.2M136 571.5v1.2M27.5 463h-1.2M140.5 571.5v2.2M27.5 458.5h-2.2M145 571.5v1.2M27.5 454h-1.2" stroke="#333" stroke-width="0.5"/>
<text x="28" y="586" font-size="4.9" text-anchor="middle">0</text>
<text x="21.9" y="573.3" font-size="4.9" text-anchor="end">0</text>
<text x="50.6" y="586" font-size="4.9" text-anchor="middle">50K</text>
<text x="21.9" y="550.7" font-size="4.9" text-anchor="end">50K</text>
<text x="73.2" y="586" font-size="4.9" text-anchor="middle">100K</text>
<text x="21.9" y="528.1" font-size="4.9" text-anchor="end">100K</text>
<text x="95.8" y="586" font-size="4.9" text-anchor="middle">150K</text>
<text x="21.9" y="505.5" font-size="4.9" text-anchor="end">150K</text>
<text x="118.4" y="586" font-size="4.9" text-anchor="middle">200K</text>
<text x="21.9" y="482.9" font-size="4.9" text-anchor="end">200K</text>
<text x="141" y="586" font-size="4.9" text-anchor="middle">250K</text>
<text x="21.9" y="460.3" font-size="4.9" text-anchor="end">250K</text>
<text x="85.5" y="596.3" font-size="5.7" text-anchor="middle">FSC-A</text>
<text transform="translate(7.7,511.7) rotate(-90)" font-size="5.8" text-anchor="middle">SSC-A</text>
<path transform="translate(0 0.5)" d="M243 455h1m29 1h1m-56 1h1m17 4h1m1 0h1m-21 3h1m-12 1h1m72 3h1m-70 2h1m-1 2h1m30 4h1m-1 2h1m-42 6h1m34 0h1m-39 7h1m27 0h1m-14 3h1m-5 2h1m14 4h1m3 0h1m4 0h1m19 1h1m-13 1h1m3 1h1m0 0h1m9 0h1m9 0h1m-63 1h1m23 0h1m-29 2h1m21 0h1m3 0h1m2 0h1m22 0h1m16 0h1m4 0h1m-34 1h1m8 0h1m18 0h1m-63 1h1m2 0h1m28 0h1m8 0h1m15 0h1m3 0h1m-69 1h1m32 0h1m7 0h1m24 0h1m-16 1h1m11 0h1m14 0h1m-43 3h1m-25 1h1m9 0h1m15 0h1m9 0h1m32 0h1m-39 1h1m4 0h1m6 0h1m-1 1h1m-32 1h1m39 0h1m-14 1h1m3 0h1m12 0h1m3 0h1m-41 1h1m5 0h1m25 0h1m4 0h1m-73 1h1m34 0h1m33 0h1m-44 1h1m24 0h1m3 0h1m4 0h1m0 0h1m-43 1h1m22 0h1m35 0h1m-72 1h1m32 0h1m16 0h1m-58 1h1m16 0h1m23 0h1m34 0h1m1 0h1m-72 2h1m32 0h1m0 0h1m13 0h1m25 0h1m-55 1h1m12 0h1m3 0h1m-36 1h1m11 0h1m7 0h1m37 0h1m10 0h1m-34 1h1m2 0h1m6 0h1m-27 1h1m26 0h1m-24 1h1m41 0h1m-75 1h1m26 0h1m2 0h1m24 0h1m4 0h1m17 0h1m-55 1h1m11 0h1m3 0h1m1 0h1m29 0h1m-70 1h1m17 0h1m31 0h1m-23 1h1m10 0h1m23 0h1m2 0h1m4 0h1m-65 1h1m28 0h1m5 0h1m-26 1h1m10 0h1m-34 1h1m15 1h1m17 0h1m7 0h1m30 0h1m-58 1h1m9 0h1m3 0h1m12 0h1m15 0h1m8 0h1m-20 1h1m12 0h1m6 0h1m3 0h1m-49 1h1m32 0h1m14 1h1m-61 1h1m8 0h1m3 0h1m13 0h1m3 0h1m12 0h1m8 0h1m2 0h1m-50 1h1m23 0h1m32 0h1m-42 1h1m3 0h1m45 0h1m-85 1h1m30 0h1m19 0h1m12 0h1m-52 1h1m58 1h1m-42 1h1m18 0h1m22 0h1m-2 1h1m-59 1h1m24 0h1m21 0h1m18 0h1m-49 1h1m13 0h1m3 0h1m1 0h1m16 0h1m-59 1h1m10 0h1m37 0h1m-63 1h1m4 0h1m21 0h1m12 0h1m2 0h1m5 0h1m10 0h1m-17 1h1m31 0h1m-77 1h1m73 0h1m0 0h1m-74 1h1m27 0h1m9 0h1m38 0h1m-73 1h1m13 0h1m44 1h1m-27 2h1m19 0h1m-44 1h1m12 0h1m10 0h1m26 0h1" stroke="#8a90c8" stroke-width="1.0"/>
<path transform="translate(0 0.5)" d="M196 503h1m11 0h1m0 0h1m3 0h1m13 0h1m21 1h1m-24 1h1m-19 1h1m1 2h1m-14 1h1m3 1h1m8 0h1m4 0h1m21 1h1m-39 1h1m0 0h1m9 0h1m0 0h1m30 1h1m5 0h1m-47 1h1m1 1h1m35 1h1m-19 1h1m8 0h1m7 0h1m0 0h1m8 3h1m-51 1h1m5 0h1m0 0h1m15 0h1m2 0h1m-19 1h1m23 0h1m-27 1h1m19 0h1m7 0h1m-19 1h1m8 0h1m5 0h1m18 0h1m-3 1h1m-29 2h1m-22 1h1m21 0h1m24 1h1m2 0h1m-31 1h1m19 0h1m-39 1h1m20 0h1m12 1h1m13 0h1m-45 2h1m24 0h1m19 0h1m-24 1h1m-26 1h1m2 1h1m10 1h1m33 0h1m-16 1h1m-23 1h1m21 0h1m-29 1h1m8 0h1m16 0h1m0 0h1m-38 1h1m32 0h1m-31 1h1m4 0h1m17 0h1m-10 1h1m5 0h1m18 0h1m-29 1h1m20 0h1m-28 1h1m25 0h1m3 0h1m6 0h1m-11 1h1m15 0h1m-52 2h1m9 0h1m12 0h1m18 0h1m4 0h1m3 0h1m0 0h1m-2 1h1m-50 1h1m2 0h1m14 0h1m4 0h1m-26 1h1m36 0h1m1 0h1m0 0h1m11 0h1m-20 1h1m12 1h1m-6 1h1m9 0h1m-34 1h1m14 1h1m-24 1h1m22 0h1m-31 1h1m8 0h1m13 0h1m15 0h1m-43 1h1m39 1h1" stroke="#b4b8da" stroke-width="1.0"/>
<path transform="translate(0 0.5)" d="M270 498h1m17 0h1m-24 4h1m5 0h1m-22 1h1m18 0h1m-15 2h1m24 1h1m-29 1h1m13 0h1m2 0h1m-11 1h1m20 0h1m-39 1h1m40 0h1m-45 2h1m11 0h1m6 0h1m7 0h1m-23 1h1m0 0h1m3 0h1m10 0h1m11 0h1m-28 1h1m5 0h1m7 0h1m6 0h1m6 0h1m-30 1h1m2 0h1m3 0h1m4 0h1m5 0h1m1 0h1m4 0h1m-12 1h1m-16 1h1m7 0h1m1 0h1m0 0h1m2 0h1m4 0h1m0 0h1m5 0h1m4 0h1m-41 1h1m5 0h1m5 0h1m6 0h1m2 0h1m11 0h1m4 0h1m-41 1h1m7 0h1m2 0h1m3 0h1m4 0h1m7 0h1m7 0h1m1 0h1m3 0h1m-41 1h1m13 0h1m1 0h1m4 0h1m5 0h1m1 0h1m14 0h1m-51 1h1m11 0h1m1 0h1m3 0h1m0 0h1m4 0h1m2 0h1m0 0h1m7 0h1m4 0h1m0 0h1m0 0h1m-26 1h1m5 0h1m1 0h1m0 0h1m3 0h1m5 0h1m1 0h1m5 0h1m-43 1h1m9 0h1m0 0h1m3 0h1m6 0h1m4 0h1m0 0h1m3 0h1m1 0h1m0 0h1m-27 1h1m2 0h1m4 0h1m2 0h1m0 0h1m1 0h1m6 0h1m0 0h1m0 0h1m-21 1h1m0 0h1m0 0h1m5 0h1m1 0h1m1 0h1m0 0h1m0 0h1m10 0h1m4 0h1m-43 1h1m3 0h1m2 0h1m6 0h1m1 0h1m2 0h1m4 0h1m0 0h1m0 0h1m4 0h1m3 0h1m4 0h1m4 0h1m-56 1h1m8 0h1m3 0h1m3 0h1m9 0h1m0 0h1m0 0h1m1 0h1m0 0h1m4 0h1m2 0h1m2 0h1m0 0h1m-38 1h1m6 0h1m2 0h1m1 0h1m6 0h1m4 0h1m0 0h1m0 0h1m0 0h1m2 0h1m12 0h1m-42 1h1m6 0h1m1 0h1m3 0h1m3 0h1m0 0h1m4 0h1m0 0h1m0 0h1m8 0h1m-35 1h1m1 0h1m2 0h1m0 0h1m2 0h1m2 0h1m0 0h1m1 0h1m0 0h1m0 0h1m2 0h1m0 0h1m3 0h1m0 0h1m0 0h1m0 0h1m0 0h1m2 0h1m-34 1h1m0 0h1m2 0h1m2 0h1m2 0h1m1 0h1m0 0h1m4 0h1m0 0h1m0 0h1m0 0h1m2 0h1m0 0h1m2 0h1m0 0h1m0 0h1m-32 1h1m1 0h1m0 0h1m0 0h1m4 0h1m0 0h1m0 0h1m0 0h1m0 0h1m2 0h1m0 0h1m0 0h1m1 0h1m0 0h1m0 0h1m0 0h1m0 0h1m0 0h1m9 0h1m0 0h1m-32 1h1m2 0h1m1 0h1m0 0h1m1 0h1m0 0h1m0 0h1m1 0h1m0 0h1m1 0h1m3 0h1m0 0h1m3 0h1m0 0h1m2 0h1m3 0h1m2 0h1m-33 1h1m1 0h1m1 0h1m2 0h1m3 0h1m0 0h1m0 0h1m0 0h1m1 0h1m2 0h1m1 0h1m0 0h1m-29 1h1m0 0h1m0 0h1m5 0h1m0 0h1m0 0h1m1 0h1m0 0h1m1 0h1m0 0h1m1 0h1m1 0h1m2 0h1m0 0h1m0 0h1m0 0h1m0 0h1m6 0h1m-40 1h1m5 0h1m1 0h1m2 0h1m0 0h1m1 0h1m1 0h1m0 0h1m0 0h1m0 0h1m1 0h1m1 0h1m5 0h1m-26 1h1m0 0h1m1 0h1m0 0h1m0 0h1m4 0h1m2 0h1m0 0h1m1 0h1m2 0h1m0 0h1m0 0h1m0 0h1m6 0h1m-37 1h1m5 0h1m0 0h1m0 0h1m1 0h1m0 0h1m0 0h1m0 0h1m1 0h1m1 0h1m0 0h1m1 0h1m4 0h1m0 0h1m2 0h1m1 0h1m2 0h1m3 0h1m15 0h1m-53 1h1m3 0h1m3 0h1m1 0h1m0 0h1m0 0h1m1 0h1m2 0h1m0 0h1m0 0h1m2 0h1m2 0h1m0 0h1m0 0h1m9 0h1m6 0h1m1 0h1m-51 1h1m9 0h1m0 0h1m2 0h1m0 0h1m0 0h1m5 0h1m0 0h1m0 0h1m2 0h1m0 0h1m0 0h1m1 0h1m4 0h1m-26 1h1m1 0h1m1 0h1m0 0h1m2 0h1m1 0h1m0 0h1m0 0h1m0 0h1m0 0h1m0 0h1m2 0h1m1 0h1m0 0h1m0 0h1m0 0h1m1 0h1m4 0h1m-34 1h1m1 0h1m2 0h1m0 0h1m1 0h1m0 0h1m4 0h1m0 0h1m0 0h1m2 0h1m0 0h1m1 0h1m2 0h1m4 0h1m7 0h1m-44 1h1m0 0h1m3 0h1m1 0h1m5 0h1m1 0h1m0 0h1m4 0h1m0 0h1m5 0h1m-31 1h1m11 0h1m0 0h1m0 0h1m1 0h1m0 0h1m1 0h1m4 0h1m0 0h1m0 0h1m0 0h1m1 0h1m-33 1h1m3 0h1m9 0h1m2 0h1m1 0h1m0 0h1m1 0h1m1 0h1m0 0h1m3 0h1m0 0h1m-33 1h1m6 0h1m4 0h1m3 0h1m0 0h1m3 0h1m0 0h1m0 0h1m1 0h1m1 0h1m24 0h1m-48 1h1m0 0h1m5 0h1m8 0h1m1 0h1m6 0h1m7 0h1m-30 1h1m3 0h1m3 0h1m2 0h1m4 0h1m0 0h1m1 0h1m1 0h1m6 0h1m-44 1h1m1 0h1m3 0h1m0 0h1m9 0h1m10 0h1m0 0h1m1 0h1m3 0h1m-25 1h1m1 0h1m10 0h1m5 0h1m0 0h1m16 0h1m-49 1h1m8 0h1m4 0h1m1 0h1m12 0h1m6 0h1m1 0h1m0 0h1m-35 1h1m9 0h1m5 0h1m6 0h1m1 0h1m4 0h1m3 0h1m-19 1h1m1 0h1m0 0h1m4 0h1m0 0h1m-28 1h1m11 0h1m2 0h1m8 0h1m4 0h1m2 0h1m-25 1h1m1 0h1m0 0h1m1 0h1m0 0h1m4 0h1m1 0h1m3 0h1m-16 1h1m9 1h1m3 0h1m6 0h1m1 0h1m-27 1h1m3 0h1m32 0h1m-38 1h1m15 0h1m4 0h1m-27 1h1m8 0h1m-7 1h1m10 1h1m-17 1h1m11 0h1m-23 1h1m8 0h1m12 1h1m-1 2h1m-15 1h1m13 0h1m-1 2h1" stroke="#3a4aae" stroke-width="1.0"/>
<path transform="translate(0 0.5)" d="M266 504h1m5 1h1m-7 1h1m0 2h1m-21 1h1m6 0h1m2 0h1m2 0h1m12 3h1m2 0h1m-32 1h1m6 0h1m2 0h1m4 0h1m8 0h1m2 0h1m-19 1h1m2 0h1m4 0h1m10 0h1m-45 1h1m32 0h1m-15 1h1m0 0h1m-14 1h1m13 0h1m1 0h1m2 0h1m1 0h1m-29 1h1m10 0h1m7 0h1m1 0h1m2 0h1m0 0h1m13 0h1m-25 1h1m4 0h1m0 0h1m2 0h1m3 0h1m4 0h1m-25 1h1m5 0h1m3 0h1m15 0h1m5 0h1m2 0h1m-38 1h1m2 0h1m1 0h1m7 0h1m0 0h1m4 0h1m0 0h1m1 0h1m0 0h1m5 0h1m5 0h1m-30 1h1m0 0h1m5 0h1m10 0h1m5 0h1m-36 1h1m6 0h1m10 0h1m0 0h1m0 0h1m0 0h1m0 0h1m3 0h1m1 0h1m0 0h1m0 0h1m6 0h1m-34 1h1m2 0h1m3 0h1m0 0h1m1 0h1m0 0h1m1 0h1m0 0h1m0 0h1m1 0h1m2 0h1m0 0h1m3 0h1m1 0h1m1 0h1m11 0h1m-44 1h1m0 0h1m9 0h1m0 0h1m1 0h1m0 0h1m2 0h1m2 0h1m0 0h1m0 0h1m3 0h1m-25 1h1m4 0h1m2 0h1m0 0h1m1 0h1m1 0h1m0 0h1m0 0h1m0 0h1m1 0h1m0 0h1m2 0h1m3 0h1m5 0h1m-37 1h1m0 0h1m2 0h1m0 0h1m2 0h1m0 0h1m2 0h1m0 0h1m0 0h1m0 0h1m0 0h1m1 0h1m3 0h1m0 0h1m1 0h1m0 0h1m0 0h1m5 0h1m-33 1h1m2 0h1m4 0h1m0 0h1m1 0h1m0 0h1m1 0h1m0 0h1m0 0h1m0 0h1m0 0h1m0 0h1m3 0h1m3 0h1m1 0h1m0 0h1m0 0h1m3 0h1m-34 1h1m2 0h1m2 0h1m1 0h1m1 0h1m0 0h1m1 0h1m0 0h1m5 0h1m5 0h1m5 0h1m2 0h1m4 0h1m-42 1h1m0 0h1m6 0h1m4 0h1m0 0h1m3 0h1m0 0h1m1 0h1m5 0h1m0 0h1m2 0h1m-35 1h1m2 0h1m1 0h1m2 0h1m2 0h1m1 0h1m0 0h1m2 0h1m0 0h1m0 0h1m0 0h1m4 0h1m1 0h1m0 0h1m4 0h1m0 0h1m-30 1h1m1 0h1m0 0h1m1 0h1m1 0h1m2 0h1m3 0h1m1 0h1m0 0h1m2 0h1m-25 1h1m1 0h1m6 0h1m0 0h1m0 0h1m1 0h1m1 0h1m0 0h1m1 0h1m3 0h1m0 0h1m0 0h1m1 0h1m0 0h1m0 0h1m1 0h1m-34 1h1m5 0h1m0 0h1m1 0h1m0 0h1m0 0h1m0 0h1m1 0h1m0 0h1m1 0h1m0 0h1m2 0h1m1 0h1m1 0h1m1 0h1m1 0h1m-28 1h1m1 0h1m4 0h1m2 0h1m0 0h1m1 0h1m0 0h1m0 0h1m0 0h1m3 0h1m0 0h1m0 0h1m0 0h1m2 0h1m-35 1h1m7 0h1m0 0h1m0 0h1m0 0h1m0 0h1m0 0h1m0 0h1m0 0h1m1 0h1m1 0h1m1 0h1m0 0h1m5 0h1m0 0h1m3 0h1m-40 1h1m13 0h1m5 0h1m0 0h1m0 0h1m1 0h1m0 0h1m0 0h1m0 0h1m1 0h1m0 0h1m0 0h1m3 0h1m7 0h1m6 0h1m-37 1h1m3 0h1m0 0h1m1 0h1m0 0h1m0 0h1m2 0h1m0 0h1m0 0h1m1 0h1m0 0h1m1 0h1m9 0h1m-29 1h1m0 0h1m0 0h1m0 0h1m3 0h1m1 0h1m3 0h1m0 0h1m0 0h1m1 0h1m0 0h1m1 0h1m3 0h1m-39 1h1m12 0h1m0 0h1m0 0h1m1 0h1m2 0h1m2 0h1m1 0h1m1 0h1m0 0h1m0 0h1m0 0h1m0 0h1m2 0h1m0 0h1m2 0h1m10 0h1m-44 1h1m11 0h1m1 0h1m0 0h1m2 0h1m0 0h1m0 0h1m2 0h1m10 0h1m-41 1h1m3 0h1m5 0h1m0 0h1m3 0h1m1 0h1m0 0h1m1 0h1m0 0h1m0 0h1m0 0h1m0 0h1m0 0h1m0 0h1m3 0h1m2 0h1m2 0h1m3 0h1m9 0h1m-41 1h1m1 0h1m1 0h1m3 0h1m1 0h1m0 0h1m0 0h1m0 0h1m2 0h1m2 0h1m4 0h1m-32 1h1m4 0h1m4 0h1m0 0h1m1 0h1m2 0h1m0 0h1m7 0h1m0 0h1m7 0h1m13 0h1m-54 1h1m0 0h1m16 0h1m0 0h1m0 0h1m1 0h1m1 0h1m1 0h1m7 0h1m3 0h1m16 0h1m-49 1h1m0 0h1m0 0h1m0 0h1m0 0h1m2 0h1m12 0h1m3 0h1m0 0h1m-24 1h1m2 0h1m2 0h1m1 0h1m1 0h1m3 0h1m1 0h1m0 0h1m0 0h1m13 0h1m-43 1h1m2 0h1m4 0h1m0 0h1m3 0h1m5 0h1m3 0h1m3 0h1m2 0h1m3 0h1m3 0h1m-42 1h1m8 0h1m1 0h1m0 0h1m1 0h1m1 0h1m3 0h1m2 0h1m1 0h1m0 0h1m0 0h1m2 0h1m0 0h1m-30 1h1m10 0h1m0 0h1m4 0h1m6 0h1m0 0h1m6 0h1m1 0h1m-34 1h1m6 0h1m4 0h1m8 0h1m2 0h1m0 0h1m7 0h1m0 0h1m-31 1h1m4 0h1m1 0h1m6 0h1m0 0h1m0 0h1m0 0h1m-5 1h1m0 0h1m1 0h1m-31 1h1m18 0h1m6 0h1m0 0h1m12 0h1m-29 1h1m4 0h1m7 0h1m3 0h1m5 0h1m2 0h1m-23 1h1m0 0h1m0 0h1m13 0h1m0 0h1m3 0h1m1 0h1m-26 1h1m0 0h1m3 0h1m15 0h1m-35 1h1m9 0h1m28 0h1m-21 1h1m2 0h1m11 0h1m-19 1h1m1 0h1m11 0h1m0 0h1m-2 1h1m-10 1h1m13 0h1m-14 1h1m-6 1h1" stroke="#5864b8" stroke-width="1.0"/>
<path transform="translate(0 0.5)" d="M249 480h1m26 4h1m-63 1h1m45 0h1m5 1h1m5 1h1m-39 2h1m-8 2h1m24 0h1m10 1h1m-39 2h1m24 0h1m-30 1h1m25 1h1m-8 1h1m24 0h1m4 0h1m-44 2h1m27 0h1m14 0h1m22 0h1m-72 1h1m23 0h1m1 0h1m-4 1h1m25 0h1m-35 1h1m6 0h1m-31 1h1m-8 1h1m40 0h1m-18 1h1m4 0h1m2 0h1m10 0h1m15 0h1m-57 1h1m23 0h1m10 0h1m15 0h1m14 0h1m-42 1h1m30 0h1m1 0h1m2 0h1m1 0h1m-36 1h1m16 0h1m11 0h1m13 0h1m-45 1h1m11 0h1m42 0h1m-30 1h1m6 0h1m-25 1h1m21 0h1m19 0h1m-58 1h1m10 0h1m4 0h1m4 0h1m10 0h1m1 0h1m-24 1h1m42 0h1m-53 1h1m2 0h1m21 0h1m9 0h1m-47 1h1m40 0h1m-53 1h1m30 0h1m4 0h1m3 0h1m0 0h1m1 0h1m21 0h1m-46 1h1m14 0h1m1 0h1m5 0h1m9 0h1m-50 1h1m11 0h1m0 0h1m2 0h1m4 0h1m16 0h1m-8 1h1m5 0h1m1 0h1m3 0h1m27 0h1m-52 1h1m7 0h1m4 0h1m7 0h1m2 0h1m1 0h1m-57 1h1m41 0h1m-42 1h1m14 0h1m5 0h1m7 0h1m1 0h1m15 0h1m7 0h1m9 0h1m-64 1h1m17 0h1m8 0h1m2 0h1m3 0h1m8 0h1m12 0h1m17 0h1m5 0h1m-75 1h1m5 0h1m5 0h1m7 0h1m10 0h1m5 0h1m25 0h1m-68 1h1m8 0h1m2 0h1m1 0h1m4 0h1m5 0h1m4 0h1m3 0h1m3 0h1m16 0h1m18 0h1m-52 1h1m0 0h1m5 0h1m9 0h1m12 0h1m9 0h1m2 0h1m-45 1h1m18 0h1m1 0h1m9 0h1m-36 1h1m17 0h1m20 0h1m-62 1h1m20 0h1m3 0h1m0 0h1m7 0h1m7 0h1m3 0h1m-42 1h1m29 0h1m4 0h1m1 0h1m1 0h1m6 0h1m-39 1h1m8 0h1m1 0h1m11 0h1m1 0h1m2 0h1m1 0h1m0 0h1m4 0h1m3 0h1m4 0h1m21 0h1m-69 1h1m20 0h1m0 0h1m1 0h1m1 0h1m2 0h1m11 0h1m9 0h1m1 0h1m-49 1h1m11 0h1m10 0h1m6 0h1m9 0h1m7 0h1m-39 1h1m1 0h1m5 0h1m5 0h1m0 0h1m0 0h1m0 0h1m20 0h1m-52 1h1m1 0h1m1 0h1m6 0h1m9 0h1m6 0h1m2 0h1m0 0h1m13 0h1m-58 1h1m7 0h1m2 0h1m6 0h1m1 0h1m8 0h1m2 0h1m5 0h1m5 0h1m5 0h1m2 0h1m-43 1h1m7 0h1m7 0h1m1 0h1m3 0h1m1 0h1m8 0h1m4 0h1m18 0h1m-49 1h1m5 0h1m1 0h1m15 0h1m1 0h1m0 0h1m2 0h1m0 0h1m-55 1h1m21 0h1m23 0h1m1 0h1m0 0h1m5 0h1m16 0h1m-75 1h1m2 0h1m26 0h1m11 0h1m3 0h1m10 0h1m-44 1h1m11 0h1m3 0h1m3 0h1m21 0h1m-44 1h1m15 0h1m13 0h1m3 0h1m6 0h1m10 0h1m2 0h1m9 0h1m-61 1h1m3 0h1m28 0h1m0 0h1m2 0h1m8 0h1m1 0h1m0 0h1m-31 1h1m21 0h1m8 0h1m-56 1h1m5 0h1m16 0h1m30 0h1m-61 1h1m12 0h1m10 0h1m2 0h1m4 0h1m8 0h1m4 0h1m-48 1h1m4 0h1m8 0h1m0 0h1m23 0h1m9 0h1m4 0h1m17 0h1m-38 1h1m8 0h1m-13 1h1m0 0h1m3 0h1m35 0h1m-80 1h1m12 0h1m23 0h1m1 0h1m8 0h1m7 0h1m9 0h1m6 0h1m-57 1h1m3 0h1m11 0h1m3 0h1m0 0h1m13 0h1m26 0h1m-64 1h1m10 0h1m6 0h1m21 0h1m-47 1h1m0 0h1m29 0h1m1 0h1m0 0h1m7 0h1m4 0h1m3 0h1m15 0h1m-58 1h1m0 0h1m1 0h1m11 0h1m3 0h1m5 0h1m11 0h1m-31 1h1m0 0h1m21 0h1m9 0h1m7 0h1m6 0h1m-61 1h1m49 0h1m8 0h1m-56 1h1m7 0h1m36 0h1m-37 1h1m3 0h1m1 0h1m17 0h1m-27 1h1m9 0h1m10 1h1m-20 1h1m18 1h1m23 0h1m-54 1h1m14 0h1m29 0h1m-43 1h1m34 0h1m-45 1h1m19 0h1m2 0h1m22 0h1m1 1h1m-67 1h1m34 0h1m16 0h1m7 0h1m6 0h1m18 0h1m-57 1h1m-16 1h1m-9 1h1m16 0h1m6 0h1" stroke="#8a92c8" stroke-width="1.0"/>
<path transform="translate(0 0.5)" d="M265 514h1m-19 1h1m8 4h1m12 1h1m-35 1h1m24 1h1m-24 1h1m-10 1h1m26 0h1m-1 1h1m-17 1h1m0 0h1m1 0h1m1 0h1m4 0h1m5 0h1m-21 1h1m8 0h1m12 0h1m7 0h1m-26 1h1m4 0h1m0 0h1m7 0h1m-10 1h1m1 0h1m0 0h1m2 0h1m7 0h1m-36 1h1m4 0h1m1 1h1m1 0h1m10 0h1m12 0h1m-16 1h1m1 0h1m20 0h1m3 0h1m-45 1h1m0 0h1m5 0h1m2 0h1m1 0h1m10 0h1m1 0h1m0 0h1m13 0h1m-44 1h1m8 0h1m3 0h1m3 0h1m0 0h1m4 0h1m0 0h1m5 0h1m1 0h1m13 0h1m-55 1h1m9 0h1m4 0h1m4 0h1m0 0h1m1 0h1m3 0h1m3 0h1m6 0h1m1 0h1m0 0h1m1 0h1m3 0h1m-46 1h1m4 0h1m1 0h1m9 0h1m9 0h1m0 0h1m1 0h1m3 0h1m1 0h1m-32 1h1m14 0h1m5 0h1m2 0h1m5 0h1m4 0h1m2 0h1m-41 1h1m3 0h1m10 0h1m1 0h1m0 0h1m1 0h1m5 0h1m1 0h1m7 0h1m1 0h1m-44 1h1m6 0h1m1 0h1m6 0h1m1 0h1m0 0h1m5 0h1m21 0h1m-43 1h1m0 0h1m5 0h1m0 0h1m1 0h1m1 0h1m0 0h1m3 0h1m3 0h1m0 0h1m0 0h1m4 0h1m0 0h1m3 0h1m-50 1h1m8 0h1m0 0h1m7 0h1m1 0h1m2 0h1m0 0h1m0 0h1m3 0h1m1 0h1m1 0h1m0 0h1m1 0h1m0 0h1m0 0h1m0 0h1m0 0h1m3 0h1m15 0h1m-55 1h1m0 0h1m2 0h1m11 0h1m0 0h1m3 0h1m2 0h1m1 0h1m1 0h1m0 0h1m3 0h1m1 0h1m0 0h1m1 0h1m13 0h1m-49 1h1m1 0h1m1 0h1m0 0h1m1 0h1m0 0h1m2 0h1m3 0h1m2 0h1m0 0h1m5 0h1m0 0h1m2 0h1m2 0h1m9 0h1m3 0h1m2 0h1m-47 1h1m0 0h1m1 0h1m10 0h1m3 0h1m0 0h1m0 0h1m1 0h1m1 0h1m0 0h1m0 0h1m0 0h1m2 0h1m0 0h1m0 0h1m1 0h1m-35 1h1m5 0h1m3 0h1m2 0h1m0 0h1m4 0h1m0 0h1m0 0h1m3 0h1m0 0h1m1 0h1m5 0h1m-44 1h1m1 0h1m7 0h1m0 0h1m5 0h1m1 0h1m1 0h1m0 0h1m0 0h1m0 0h1m2 0h1m1 0h1m0 0h1m0 0h1m1 0h1m1 0h1m0 0h1m1 0h1m2 0h1m12 0h1m14 0h1m-70 1h1m9 0h1m0 0h1m2 0h1m1 0h1m1 0h1m0 0h1m1 0h1m0 0h1m0 0h1m1 0h1m0 0h1m0 0h1m0 0h1m1 0h1m1 0h1m0 0h1m1 0h1m1 0h1m3 0h1m5 0h1m-47 1h1m4 0h1m1 0h1m4 0h1m0 0h1m0 0h1m1 0h1m0 0h1m1 0h1m1 0h1m1 0h1m0 0h1m0 0h1m1 0h1m2 0h1m1 0h1m0 0h1m2 0h1m3 0h1m1 0h1m11 0h1m-62 1h1m2 0h1m1 0h1m0 0h1m1 0h1m1 0h1m4 0h1m4 0h1m2 0h1m0 0h1m1 0h1m1 0h1m0 0h1m1 0h1m0 0h1m0 0h1m0 0h1m1 0h1m0 0h1m0 0h1m0 0h1m0 0h1m0 0h1m0 0h1m2 0h1m3 0h1m-50 1h1m11 0h1m0 0h1m0 0h1m1 0h1m2 0h1m0 0h1m0 0h1m0 0h1m2 0h1m0 0h1m0 0h1m0 0h1m0 0h1m0 0h1m0 0h1m0 0h1m0 0h1m1 0h1m0 0h1m0 0h1m0 0h1m0 0h1m0 0h1m0 0h1m0 0h1m0 0h1m1 0h1m0 0h1m-45 1h1m8 0h1m0 0h1m1 0h1m4 0h1m0 0h1m0 0h1m1 0h1m0 0h1m2 0h1m0 0h1m0 0h1m1 0h1m2 0h1m0 0h1m0 0h1m1 0h1m0 0h1m0 0h1m0 0h1m0 0h1m7 0h1m-48 1h1m6 0h1m3 0h1m5 0h1m0 0h1m0 0h1m0 0h1m0 0h1m0 0h1m0 0h1m1 0h1m1 0h1m0 0h1m0 0h1m0 0h1m0 0h1m0 0h1m0 0h1m3 0h1m0 0h1m0 0h1m0 0h1m0 0h1m10 0h1m4 0h1m-60 1h1m2 0h1m13 0h1m1 0h1m2 0h1m1 0h1m1 0h1m1 0h1m0 0h1m0 0h1m0 0h1m0 0h1m0 0h1m0 0h1m1 0h1m1 0h1m0 0h1m0 0h1m-48 1h1m13 0h1m4 0h1m1 0h1m0 0h1m2 0h1m0 0h1m4 0h1m1 0h1m0 0h1m0 0h1m0 0h1m0 0h1m0 0h1m1 0h1m0 0h1m0 0h1m0 0h1m0 0h1m0 0h1m8 0h1m-46 1h1m0 0h1m5 0h1m0 0h1m2 0h1m0 0h1m0 0h1m3 0h1m1 0h1m2 0h1m0 0h1m2 0h1m1 0h1m0 0h1m0 0h1m1 0h1m3 0h1m1 0h1m0 0h1m4 0h1m-48 1h1m10 0h1m1 0h1m1 0h1m0 0h1m0 0h1m0 0h1m0 0h1m1 0h1m0 0h1m0 0h1m0 0h1m0 0h1m1 0h1m0 0h1m0 0h1m0 0h1m1 0h1m1 0h1m4 0h1m1 0h1m11 0h1m-58 1h1m6 0h1m7 0h1m3 0h1m1 0h1m2 0h1m0 0h1m1 0h1m0 0h1m0 0h1m1 0h1m0 0h1m1 0h1m3 0h1m3 0h1m0 0h1m5 0h1m2 0h1m2 0h1m10 0h1m-67 1h1m0 0h1m6 0h1m1 0h1m3 0h1m0 0h1m0 0h1m0 0h1m0 0h1m1 0h1m1 0h1m1 0h1m0 0h1m2 0h1m0 0h1m0 0h1m1 0h1m1 0h1m0 0h1m1 0h1m20 0h1m-57 1h1m3 0h1m1 0h1m5 0h1m0 0h1m0 0h1m0 0h1m2 0h1m0 0h1m0 0h1m1 0h1m1 0h1m0 0h1m0 0h1m2 0h1m0 0h1m1 0h1m1 0h1m1 0h1m8 0h1m0 0h1m-52 1h1m2 0h1m1 0h1m2 0h1m5 0h1m0 0h1m3 0h1m1 0h1m1 0h1m3 0h1m0 0h1m1 0h1m2 0h1m1 0h1m3 0h1m1 0h1m10 0h1m-55 1h1m3 0h1m4 0h1m5 0h1m0 0h1m4 0h1m1 0h1m1 0h1m0 0h1m2 0h1m0 0h1m4 0h1m2 0h1m4 0h1m5 0h1m-43 1h1m0 0h1m5 0h1m3 0h1m0 0h1m3 0h1m0 0h1m1 0h1m0 0h1m3 0h1m1 0h1m0 0h1m10 0h1m10 0h1m-51 1h1m10 0h1m6 0h1m1 0h1m2 0h1m0 0h1m1 0h1m0 0h1m0 0h1m0 0h1m0 0h1m4 0h1m-46 1h1m6 0h1m2 0h1m0 0h1m1 0h1m4 0h1m4 0h1m0 0h1m0 0h1m5 0h1m5 0h1m1 0h1m1 0h1m0 0h1m9 0h1m-42 1h1m8 0h1m1 0h1m3 0h1m0 0h1m0 0h1m2 0h1m0 0h1m2 0h1m0 0h1m28 0h1m-51 1h1m3 0h1m0 0h1m1 0h1m3 0h1m1 0h1m0 0h1m4 0h1m1 0h1m2 0h1m6 0h1m9 0h1m1 0h1m1 0h1m-48 1h1m1 0h1m2 0h1m9 0h1m2 0h1m0 0h1m0 0h1m1 0h1m8 0h1m1 0h1m2 0h1m-54 1h1m15 0h1m2 0h1m0 0h1m11 0h1m0 0h1m0 0h1m2 0h1m-27 1h1m1 0h1m0 0h1m0 0h1m3 0h1m0 0h1m0 0h1m1 0h1m4 0h1m0 0h1m1 0h1m5 0h1m4 0h1m-38 1h1m4 0h1m8 0h1m3 0h1m4 0h1m2 0h1m2 0h1m5 0h1" stroke="#3444ac" stroke-width="1.0"/>
<path transform="translate(0 0.5)" d="M221 549h1m-22 2h1m0 2h1m1 0h1m7 0h1m-6 1h1m-7 1h1m0 0h1m4 0h1m1 0h1m2 0h1m-7 1h1m0 0h1m2 0h1m1 0h1m-12 1h1m1 0h1m1 0h1m5 0h1m-16 1h1m2 0h1m3 0h1m0 0h1m0 0h1m0 0h1m0 0h1m2 0h1m0 0h1m-14 1h1m1 0h1m0 0h1m1 0h1m1 0h1m0 0h1m1 0h1m1 0h1m5 0h1m-20 1h1m3 0h1m0 0h1m1 0h1m0 0h1m3 0h1m5 0h1m5 0h1m-26 1h1m0 0h1m0 0h1m0 0h1m0 0h1m0 0h1m0 0h1m0 0h1m0 0h1m1 0h1m0 0h1m0 0h1m0 0h1m0 0h1m0 0h1m0 0h1m0 0h1m0 0h1m2 0h1m-20 1h1m0 0h1m0 0h1m0 0h1m0 0h1m1 0h1m0 0h1m0 0h1m0 0h1m0 0h1m0 0h1m0 0h1m1 0h1m0 0h1m-18 1h1m1 0h1m0 0h1m0 0h1m0 0h1m0 0h1m1 0h1m0 0h1m0 0h1m0 0h1m3 0h1m0 0h1m0 0h1m1 0h1m-20 1h1m1 0h1m1 0h1m0 0h1m0 0h1m0 0h1m1 0h1m0 0h1m0 0h1m0 0h1m0 0h1m0 0h1m0 0h1m-16 1h1m0 0h1m1 0h1m0 0h1m0 0h1m0 0h1m0 0h1m0 0h1m0 0h1m0 0h1m0 0h1m0 0h1m0 0h1m0 0h1m0 0h1m2 0h1m-19 1h1m3 0h1m0 0h1m0 0h1m0 0h1m0 0h1m1 0h1m0 0h1m0 0h1m0 0h1m0 0h1m0 0h1m1 0h1m0 0h1m2 0h1m0 0h1m2 0h1m-25 1h1m0 0h1m0 0h1m0 0h1m2 0h1m1 0h1m1 0h1m1 0h1m0 0h1m0 0h1m1 0h1m0 0h1m-18 1h1m0 0h1m0 0h1m1 0h1m0 0h1m0 0h1m0 0h1m0 0h1m0 0h1m1 0h1m0 0h1m0 0h1m2 0h1m3 0h1m-22 1h1m0 0h1m2 0h1m2 0h1m0 0h1m0 0h1m0 0h1m0 0h1m1 0h1m2 0h1m-17 1h1m0 0h1m0 0h1m0 0h1m0 0h1m0 0h1m1 0h1m0 0h1m1 0h1m2 0h1m1 0h1" stroke="#2a3cb4" stroke-width="1.0"/>
<clipPath id="cp181"><rect x="194.6" y="452.3" width="106.4" height="118.3"/></clipPath><g clip-path="url(#cp181)">
<g transform="translate(198.2,565.6) rotate(-22)" filter="url(#bl)">
<ellipse rx="10.4" ry="4.4" fill="#2a4cc4"/>
<ellipse rx="9.1" ry="3.8" fill="#2470d6"/>
<ellipse rx="8.8" ry="3.7" fill="#1f98df"/>
<ellipse rx="7.2" ry="3" fill="#22c3d2"/>
<ellipse rx="5.6" ry="2.4" fill="#35c27a"/>
</g>
</g>
<path transform="translate(0 0.5)" d="M218 541h1m2 2h1m6 0h1m-13 1h1m2 0h1m5 0h1m4 0h1m7 1h1m-21 1h1m2 0h1m-19 1h1m12 0h1m4 0h1m-19 1h1m10 0h1m-8 1h1m2 0h1m8 0h1m3 0h1m6 0h1m-15 1h1m1 0h1m7 0h1m4 0h1m2 0h1m-29 1h1m4 0h1m0 0h1m1 0h1m11 0h1m0 0h1m-12 1h1m0 0h1m0 0h1m0 0h1m0 0h1m1 0h1m2 0h1m0 0h1m0 0h1m1 0h1m0 0h1m1 0h1m0 0h1m-29 1h1m1 0h1m1 0h1m2 0h1m2 0h1m3 0h1m0 0h1m3 0h1m0 0h1m-15 1h1m2 0h1m2 0h1m0 0h1m1 0h1m0 0h1m3 0h1m1 0h1m1 0h1m0 0h1m-27 1h1m2 0h1m3 0h1m0 0h1m2 0h1m1 0h1m1 0h1m0 0h1m0 0h1m0 0h1m0 0h1m1 0h1m0 0h1m0 0h1m0 0h1m1 0h1m4 0h1m-30 1h1m3 0h1m1 0h1m1 0h1m1 0h1m0 0h1m0 0h1m0 0h1m0 0h1m1 0h1m0 0h1m1 0h1m2 0h1m4 0h1m-29 1h1m3 0h1m0 0h1m1 0h1m0 0h1m0 0h1m0 0h1m0 0h1m0 0h1m0 0h1m0 0h1m0 0h1m0 0h1m0 0h1m1 0h1m1 0h1m0 0h1m0 0h1m3 0h1m-29 1h1m6 0h1m0 0h1m0 0h1m3 0h1m0 0h1m0 0h1m1 0h1m0 0h1m0 0h1m0 0h1m0 0h1m5 0h1m-27 1h1m1 0h1m1 0h1m0 0h1m0 0h1m0 0h1m0 0h1m1 0h1m0 0h1m0 0h1m0 0h1m0 0h1m0 0h1m0 0h1m0 0h1m0 0h1m0 0h1m3 0h1m0 0h1m0 0h1m0 0h1m-21 1h1m1 0h1m0 0h1m0 0h1m0 0h1m1 0h1m0 0h1m0 0h1m0 0h1m0 0h1m0 0h1m0 0h1m6 0h1m-26 1h1m3 0h1m0 0h1m2 0h1m0 0h1m0 0h1m0 0h1m0 0h1m0 0h1m0 0h1m1 0h1m1 0h1m2 0h1m4 0h1m-28 1h1m2 0h1m1 0h1m0 0h1m0 0h1m1 0h1m3 0h1m0 0h1m1 0h1m0 0h1m0 0h1m0 0h1m0 0h1m0 0h1m3 0h1m1 0h1m-28 1h1m2 0h1m1 0h1m1 0h1m0 0h1m0 0h1m1 0h1m0 0h1m1 0h1m0 0h1m0 0h1m0 0h1m0 0h1m1 0h1m1 0h1m-26 1h1m7 0h1m2 0h1m0 0h1m0 0h1m0 0h1m0 0h1m1 0h1m0 0h1m0 0h1m0 0h1m1 0h1m2 0h1m3 0h1m-30 1h1m4 0h1m0 0h1m1 0h1m2 0h1m1 0h1m0 0h1m0 0h1m0 0h1m0 0h1m0 0h1m4 0h1m0 0h1m0 0h1m1 0h1m2 0h1m-31 1h1m2 0h1m1 0h1m1 0h1m4 0h1m0 0h1m1 0h1m0 0h1m0 0h1m1 0h1m0 0h1m0 0h1m3 0h1m1 0h1m-22 1h1m1 0h1m2 0h1m1 0h1m2 0h1m0 0h1m0 0h1m0 0h1m0 0h1m0 0h1m-24 1h1m3 0h1m1 0h1m0 0h1m0 0h1m6 0h1m0 0h1m1 0h1m0 0h1m0 0h1m0 0h1m0 0h1m0 0h1m0 0h1m4 0h1m-22 1h1m0 0h1m0 0h1m0 0h1m4 0h1m1 0h1m0 0h1m0 0h1m1 0h1m2 0h1m-18 1h1m1 0h1m1 0h1m3 0h1m5 0h1" stroke="#2a3cb4" stroke-width="1.0"/>
<g transform="translate(219,560.4) rotate(-25)" filter="url(#bl)">
<ellipse rx="11.2" ry="7.2" fill="#2a4cc4"/>
<ellipse rx="9.8" ry="6.3" fill="#2470d6"/>
<ellipse rx="9.5" ry="6.1" fill="#1f98df"/>
<ellipse rx="7.7" ry="5" fill="#22c3d2"/>
<ellipse rx="6" ry="3.9" fill="#35c27a"/>
<ellipse rx="4.5" ry="2.9" fill="#9ed62a"/>
<ellipse rx="3.1" ry="2" fill="#ece51e"/>
<ellipse rx="1.8" ry="1.2" fill="#f39a1e"/>
<ellipse rx="1" ry="0.6" fill="#e3281e"/>
</g>
<path d="M205.5 569.1L208.4 556L217.2 551.6L237.6 550.7L239 561.8L225.9 568.5Z" fill="none" stroke="#000" stroke-width="0.9"/>
<text x="202" y="526.3" font-size="5.6" fill="#111" stroke="#111" stroke-width="0.12">Lymphocytes</text>
<rect x="181.5" y="452.3" width="119.5" height="118.3" fill="none" stroke="#3a3a3a" stroke-width="0.8"/>
<path d="M181.5 570.6v2.2M181.5 570.6h-2.2M186 570.6v1.2M181.5 566.1h-1.2M190.5 570.6v1.2M181.5 561.6h-1.2M195.1 570.6v1.2M181.5 557h-1.2M199.6 570.6v1.2M181.5 552.5h-1.2M204.1 570.6v2.2M181.5 548h-2.2M208.6 570.6v1.2M181.5 543.5h-1.2M213.1 570.6v1.2M181.5 539h-1.2M217.7 570.6v1.2M181.5 534.4h-1.2M222.2 570.6v1.2M181.5 529.9h-1.2M226.7 570.6v2.2M181.5 525.4h-2.2M231.2 570.6v1.2M181.5 520.9h-1.2M235.7 570.6v1.2M181.5 516.4h-1.2M240.3 570.6v1.2M181.5 511.8h-1.2M244.8 570.6v1.2M181.5 507.3h-1.2M249.3 570.6v2.2M181.5 502.8h-2.2M253.8 570.6v1.2M181.5 498.3h-1.2M258.3 570.6v1.2M181.5 493.8h-1.2M262.9 570.6v1.2M181.5 489.2h-1.2M267.4 570.6v1.2M181.5 484.7h-1.2M271.9 570.6v2.2M181.5 480.2h-2.2M276.4 570.6v1.2M181.5 475.7h-1.2M280.9 570.6v1.2M181.5 471.2h-1.2M285.5 570.6v1.2M181.5 466.6h-1.2M290 570.6v1.2M181.5 462.1h-1.2M294.5 570.6v2.2M181.5 457.6h-2.2M299 570.6v1.2M181.5 453.1h-1.2" stroke="#333" stroke-width="0.5"/>
<text x="182" y="585.1" font-size="4.9" text-anchor="middle">0</text>
<text x="175.9" y="572.4" font-size="4.9" text-anchor="end">0</text>
<text x="204.6" y="585.1" font-size="4.9" text-anchor="middle">50K</text>
<text x="175.9" y="549.8" font-size="4.9" text-anchor="end">50K</text>
<text x="227.2" y="585.1" font-size="4.9" text-anchor="middle">100K</text>
<text x="175.9" y="527.2" font-size="4.9" text-anchor="end">100K</text>
<text x="249.8" y="585.1" font-size="4.9" text-anchor="middle">150K</text>
<text x="175.9" y="504.6" font-size="4.9" text-anchor="end">150K</text>
<text x="272.4" y="585.1" font-size="4.9" text-anchor="middle">200K</text>
<text x="175.9" y="482" font-size="4.9" text-anchor="end">200K</text>
<text x="295" y="585.1" font-size="4.9" text-anchor="middle">250K</text>
<text x="175.9" y="459.4" font-size="4.9" text-anchor="end">250K</text>
<text x="239.8" y="595.4" font-size="5.7" text-anchor="middle">FSC-A</text>
<text transform="translate(161.7,511) rotate(-90)" font-size="5.8" text-anchor="middle">SSC-A</text>
<path transform="translate(0 0.5)" d="M368 454h1m-1 2h1m3 1h1m17 1h1m37 0h1m-73 3h1m11 0h1m27 1h1m-37 1h1m74 3h1m-42 3h1m-24 2h1m64 1h1m-58 1h1m52 0h1m0 0h1m-23 1h1m-6 1h1m-34 2h1m-2 3h1m-5 3h1m39 0h1m4 0h1m19 2h1m-48 3h1m18 0h1m-31 1h1m9 0h1m39 2h1m8 2h1m-53 4h1m9 0h1m-23 1h1m6 0h1m-8 1h1m9 0h1m20 0h1m20 0h1m-71 1h1m48 0h1m29 0h1m-39 1h1m32 0h1m-60 1h1m12 0h1m18 0h1m-9 1h1m4 0h1m18 0h1m-10 1h1m8 0h1m-58 1h1m20 0h1m-22 1h1m41 0h1m7 0h1m-33 1h1m4 0h1m6 0h1m40 0h1m-41 1h1m31 0h1m3 0h1m-70 1h1m41 0h1m-23 1h1m14 0h1m11 0h1m-52 1h1m21 0h1m23 0h1m-45 1h1m20 0h1m25 0h1m1 0h1m25 0h1m-77 1h1m12 0h1m25 0h1m9 0h1m19 0h1m-41 1h1m17 0h1m5 0h1m5 0h1m5 0h1m-59 1h1m12 0h1m14 0h1m5 0h1m1 0h1m15 0h1m-57 1h1m7 0h1m7 0h1m18 0h1m8 0h1m27 0h1m2 0h1m-78 1h1m2 0h1m61 0h1m-24 1h1m10 0h1m12 0h1m8 0h1m-69 1h1m11 0h1m5 0h1m7 0h1m1 0h1m-5 1h1m10 0h1m10 0h1m9 0h1m10 0h1m0 0h1m-78 1h1m53 0h1m0 0h1m-21 1h1m9 0h1m6 0h1m0 0h1m25 0h1m-77 1h1m19 0h1m10 0h1m35 0h1m-47 1h1m0 0h1m35 0h1m4 0h1m3 0h1m-40 1h1m38 0h1m5 0h1m-35 1h1m0 0h1m11 0h1m12 0h1m-59 1h1m8 0h1m11 0h1m9 0h1m-14 1h1m21 0h1m11 0h1m-22 1h1m2 0h1m23 0h1m-57 1h1m37 0h1m1 0h1m11 0h1m0 0h1m4 0h1m-54 1h1m14 0h1m2 0h1m-19 1h1m4 0h1m14 0h1m29 0h1m-67 1h1m40 0h1m2 0h1m17 0h1m-36 2h1m8 0h1m1 0h1m2 0h1m6 0h1m20 0h1m-22 1h1m-36 1h1m25 0h1m15 0h1m13 0h1m-55 1h1m30 0h1m2 0h1m23 0h1m-73 1h1m2 0h1m6 0h1m20 0h1m14 0h1m8 0h1m-44 1h1m0 0h1m1 0h1m25 0h1m1 0h1m1 0h1m2 0h1m20 0h1m-42 1h1m7 0h1m2 0h1m36 0h1m-66 1h1m18 0h1m7 0h1m-38 1h1m16 0h1m13 0h1m-36 1h1m4 0h1m7 0h1m0 0h1m3 0h1m11 0h1m6 0h1m-38 1h1m53 0h1m-33 1h1m27 0h1m10 0h1m10 0h1m10 0h1m-50 1h1m31 0h1m5 0h1m-16 1h1m0 0h1m24 0h1m-70 2h1m27 0h1m15 0h1m7 0h1m-64 1h1m0 0h1m15 0h1m4 0h1m23 0h1m12 0h1m-47 1h1m0 0h1m21 0h1m5 0h1m13 0h1m12 0h1m14 0h1m-43 1h1m6 0h1m1 0h1m10 0h1m14 0h1m-75 1h1m59 0h1m-13 1h1m10 0h1m1 0h1m0 0h1m4 0h1m0 0h1m-75 1h1m29 0h1m3 0h1m0 0h1m36 0h1m-59 1h1m3 0h1m17 0h1m20 0h1m-53 1h1m10 0h1m8 0h1m-24 1h1m1 0h1m24 0h1m12 0h1m12 0h1m3 0h1m24 0h1m-72 1h1m29 0h1m25 0h1m2 0h1m-60 1h1m29 0h1m18 0h1m9 0h1m1 0h1m-72 1h1m2 1h1m47 0h1m0 0h1m-28 1h1" stroke="#8a90c8" stroke-width="1.0"/>
<path transform="translate(0 0.5)" d="M371 503h1m11 1h1m3 0h1m15 0h1m-40 1h1m6 0h1m5 0h1m14 0h1m-33 1h1m18 0h1m0 0h1m3 0h1m-26 2h1m3 1h1m-1 1h1m22 0h1m8 0h1m-41 1h1m4 0h1m3 0h1m3 0h1m9 2h1m6 1h1m18 0h1m-14 1h1m11 0h1m-42 1h1m2 0h1m37 0h1m-26 1h1m13 1h1m7 0h1m-4 1h1m-41 1h1m41 0h1m-46 1h1m30 0h1m15 0h1m-31 1h1m5 0h1m14 0h1m-36 1h1m-3 1h1m9 0h1m32 0h1m-34 2h1m-10 1h1m3 0h1m38 1h1m-38 1h1m-2 1h1m5 0h1m-13 1h1m32 0h1m9 0h1m-25 1h1m-9 1h1m12 0h1m20 0h1m2 0h1m-44 1h1m5 0h1m8 0h1m-18 1h1m-2 2h1m11 0h1m27 0h1m4 0h1m-20 1h1m1 0h1m10 0h1m-33 1h1m17 0h1m-26 1h1m27 0h1m-26 1h1m30 0h1m-36 1h1m17 1h1m-21 1h1m17 0h1m1 0h1m-6 1h1m34 0h1m-52 1h1m28 0h1m-1 1h1m8 0h1m-26 1h1m23 0h1m-31 1h1m9 0h1m7 1h1m12 0h1m-28 1h1m2 0h1m-16 1h1m12 0h1m12 0h1m19 0h1m-9 1h1m2 0h1m-42 1h1m12 0h1m14 1h1m16 0h1m-37 2h1m10 0h1m20 0h1m-43 1h1m9 0h1m-3 1h1m37 1h1m-41 1h1m3 0h1m17 0h1m4 0h1" stroke="#b4b8da" stroke-width="1.0"/>
<path transform="translate(0 0.5)" d="M437 506h1m-10 6h1m-15 2h1m37 1h1m-61 3h1m19 0h1m6 0h1m6 0h1m8 0h1m-18 1h1m-11 1h1m2 0h1m10 0h1m-9 1h1m6 0h1m4 0h1m6 0h1m-16 1h1m18 0h1m4 0h1m-44 1h1m2 0h1m4 0h1m7 0h1m1 0h1m7 0h1m-8 1h1m8 0h1m3 0h1m1 0h1m3 0h1m16 0h1m-51 1h1m6 0h1m0 0h1m0 0h1m1 0h1m9 0h1m1 0h1m1 0h1m2 0h1m2 0h1m3 0h1m-42 1h1m0 0h1m6 0h1m7 0h1m0 0h1m1 0h1m1 0h1m5 0h1m1 0h1m-30 1h1m8 0h1m2 0h1m0 0h1m14 0h1m1 0h1m2 0h1m1 0h1m4 0h1m-37 1h1m1 0h1m0 0h1m2 0h1m0 0h1m2 0h1m3 0h1m1 0h1m4 0h1m0 0h1m0 0h1m1 0h1m2 0h1m6 0h1m-32 1h1m0 0h1m0 0h1m7 0h1m2 0h1m3 0h1m9 0h1m5 0h1m0 0h1m5 0h1m-44 1h1m2 0h1m1 0h1m1 0h1m2 0h1m3 0h1m0 0h1m1 0h1m2 0h1m0 0h1m0 0h1m0 0h1m4 0h1m1 0h1m-37 1h1m4 0h1m4 0h1m1 0h1m0 0h1m3 0h1m0 0h1m1 0h1m0 0h1m0 0h1m0 0h1m3 0h1m4 0h1m5 0h1m6 0h1m-44 1h1m11 0h1m1 0h1m0 0h1m4 0h1m0 0h1m0 0h1m4 0h1m-40 1h1m2 0h1m11 0h1m3 0h1m0 0h1m1 0h1m1 0h1m0 0h1m1 0h1m3 0h1m0 0h1m2 0h1m6 0h1m1 0h1m3 0h1m0 0h1m-44 1h1m0 0h1m5 0h1m10 0h1m7 0h1m2 0h1m0 0h1m0 0h1m7 0h1m3 0h1m-50 1h1m6 0h1m2 0h1m0 0h1m8 0h1m2 0h1m0 0h1m1 0h1m1 0h1m2 0h1m3 0h1m1 0h1m1 0h1m5 0h1m-46 1h1m1 0h1m1 0h1m3 0h1m6 0h1m1 0h1m1 0h1m1 0h1m1 0h1m0 0h1m0 0h1m0 0h1m3 0h1m0 0h1m0 0h1m2 0h1m6 0h1m2 0h1m-50 1h1m2 0h1m4 0h1m5 0h1m3 0h1m4 0h1m0 0h1m1 0h1m0 0h1m0 0h1m1 0h1m0 0h1m0 0h1m2 0h1m6 0h1m6 0h1m-49 1h1m17 0h1m1 0h1m0 0h1m2 0h1m1 0h1m1 0h1m0 0h1m1 0h1m4 0h1m6 0h1m-40 1h1m5 0h1m0 0h1m2 0h1m1 0h1m0 0h1m0 0h1m0 0h1m1 0h1m2 0h1m0 0h1m0 0h1m1 0h1m1 0h1m2 0h1m3 0h1m0 0h1m4 0h1m0 0h1m0 0h1m1 0h1m-37 1h1m0 0h1m1 0h1m0 0h1m2 0h1m1 0h1m0 0h1m0 0h1m0 0h1m1 0h1m0 0h1m0 0h1m2 0h1m0 0h1m0 0h1m0 0h1m2 0h1m0 0h1m3 0h1m1 0h1m2 0h1m-46 1h1m4 0h1m1 0h1m0 0h1m0 0h1m0 0h1m0 0h1m2 0h1m2 0h1m0 0h1m1 0h1m0 0h1m4 0h1m0 0h1m0 0h1m0 0h1m0 0h1m0 0h1m1 0h1m1 0h1m4 0h1m-35 1h1m1 0h1m0 0h1m3 0h1m1 0h1m4 0h1m1 0h1m0 0h1m1 0h1m0 0h1m1 0h1m0 0h1m0 0h1m0 0h1m0 0h1m2 0h1m0 0h1m3 0h1m-43 1h1m0 0h1m1 0h1m3 0h1m1 0h1m3 0h1m0 0h1m1 0h1m0 0h1m2 0h1m0 0h1m0 0h1m4 0h1m0 0h1m0 0h1m1 0h1m0 0h1m0 0h1m3 0h1m0 0h1m2 0h1m2 0h1m1 0h1m1 0h1m-45 1h1m0 0h1m5 0h1m0 0h1m0 0h1m2 0h1m1 0h1m1 0h1m0 0h1m1 0h1m0 0h1m2 0h1m0 0h1m0 0h1m0 0h1m3 0h1m2 0h1m4 0h1m8 0h1m-43 1h1m2 0h1m1 0h1m1 0h1m0 0h1m0 0h1m1 0h1m0 0h1m0 0h1m1 0h1m1 0h1m3 0h1m6 0h1m1 0h1m-58 1h1m17 0h1m3 0h1m4 0h1m1 0h1m0 0h1m0 0h1m0 0h1m0 0h1m0 0h1m2 0h1m0 0h1m1 0h1m0 0h1m3 0h1m0 0h1m0 0h1m0 0h1m0 0h1m0 0h1m0 0h1m0 0h1m9 0h1m-49 1h1m7 0h1m1 0h1m4 0h1m0 0h1m2 0h1m2 0h1m0 0h1m0 0h1m0 0h1m0 0h1m1 0h1m0 0h1m0 0h1m5 0h1m0 0h1m3 0h1m-37 1h1m0 0h1m0 0h1m1 0h1m8 0h1m3 0h1m0 0h1m0 0h1m2 0h1m0 0h1m0 0h1m0 0h1m6 0h1m2 0h1m-44 1h1m7 0h1m6 0h1m0 0h1m0 0h1m1 0h1m0 0h1m0 0h1m0 0h1m0 0h1m3 0h1m0 0h1m2 0h1m0 0h1m0 0h1m1 0h1m0 0h1m0 0h1m2 0h1m0 0h1m-44 1h1m0 0h1m0 0h1m4 0h1m1 0h1m3 0h1m2 0h1m2 0h1m3 0h1m0 0h1m0 0h1m6 0h1m5 0h1m5 0h1m1 0h1m5 0h1m-51 1h1m12 0h1m3 0h1m0 0h1m0 0h1m3 0h1m3 0h1m0 0h1m0 0h1m1 0h1m0 0h1m11 0h1m-50 1h1m2 0h1m15 0h1m1 0h1m8 0h1m3 0h1m2 0h1m1 0h1m1 0h1m0 0h1m-40 1h1m5 0h1m9 0h1m1 0h1m0 0h1m1 0h1m4 0h1m0 0h1m1 0h1m5 0h1m20 0h1m-48 1h1m2 0h1m1 0h1m0 0h1m0 0h1m1 0h1m0 0h1m4 0h1m0 0h1m1 0h1m1 0h1m4 0h1m1 0h1m0 0h1m1 0h1m2 0h1m0 0h1m4 0h1m-55 1h1m4 0h1m10 0h1m0 0h1m1 0h1m1 0h1m1 0h1m1 0h1m1 0h1m5 0h1m4 0h1m1 0h1m2 0h1m-33 1h1m2 0h1m7 0h1m1 0h1m0 0h1m3 0h1m3 0h1m0 0h1m-22 1h1m1 0h1m1 0h1m1 0h1m10 0h1m6 0h1m-28 1h1m2 0h1m3 0h1m8 0h1m2 0h1m-23 1h1m0 0h1m0 0h1m8 0h1m9 0h1m0 0h1m3 0h1m0 0h1m2 0h1m0 0h1m-27 1h1m10 0h1m0 0h1m0 0h1m-10 1h1m1 0h1m0 0h1m6 0h1m-33 1h1m24 0h1m7 0h1m13 0h1m-10 1h1m10 0h1m-41 1h1m13 0h1m7 0h1m1 0h1m5 0h1m-25 1h1m1 0h1m1 0h1m4 0h1m4 0h1m20 0h1m-39 1h1m12 0h1m-23 2h1" stroke="#3a4aae" stroke-width="1.0"/>
<path transform="translate(0 0.5)" d="M425 504h1m-5 6h1m9 2h1m5 1h1m-20 1h1m-3 3h1m33 0h1m-15 1h1m-33 1h1m15 0h1m5 0h1m-28 2h1m29 0h1m16 0h1m-44 1h1m20 0h1m6 0h1m14 0h1m-37 1h1m8 0h1m4 0h1m7 0h1m0 0h1m3 0h1m-40 1h1m8 0h1m0 0h1m4 0h1m19 0h1m0 0h1m1 0h1m0 0h1m-20 1h1m0 0h1m0 0h1m3 0h1m1 0h1m4 0h1m3 0h1m-35 1h1m9 0h1m3 0h1m0 0h1m18 0h1m-29 1h1m5 0h1m4 0h1m0 0h1m7 0h1m0 0h1m3 0h1m-37 1h1m5 0h1m0 0h1m1 0h1m5 0h1m3 0h1m2 0h1m1 0h1m0 0h1m1 0h1m4 0h1m1 0h1m0 0h1m0 0h1m0 0h1m-33 1h1m0 0h1m7 0h1m1 0h1m2 0h1m2 0h1m1 0h1m6 0h1m1 0h1m11 0h1m-49 1h1m2 0h1m2 0h1m3 0h1m1 0h1m0 0h1m3 0h1m0 0h1m0 0h1m0 0h1m6 0h1m3 0h1m4 0h1m1 0h1m10 0h1m-39 1h1m0 0h1m3 0h1m1 0h1m1 0h1m1 0h1m0 0h1m2 0h1m7 0h1m-26 1h1m0 0h1m3 0h1m0 0h1m0 0h1m0 0h1m6 0h1m3 0h1m3 0h1m0 0h1m0 0h1m1 0h1m0 0h1m1 0h1m-46 1h1m0 0h1m3 0h1m0 0h1m1 0h1m0 0h1m5 0h1m0 0h1m0 0h1m1 0h1m1 0h1m1 0h1m2 0h1m0 0h1m0 0h1m1 0h1m0 0h1m1 0h1m2 0h1m2 0h1m9 0h1m5 0h1m-60 1h1m6 0h1m1 0h1m3 0h1m0 0h1m1 0h1m2 0h1m2 0h1m6 0h1m0 0h1m0 0h1m2 0h1m0 0h1m2 0h1m1 0h1m3 0h1m10 0h1m0 0h1m-42 1h1m1 0h1m0 0h1m1 0h1m0 0h1m2 0h1m1 0h1m0 0h1m0 0h1m0 0h1m1 0h1m0 0h1m1 0h1m2 0h1m0 0h1m0 0h1m2 0h1m0 0h1m1 0h1m2 0h1m5 0h1m-42 1h1m2 0h1m4 0h1m1 0h1m0 0h1m0 0h1m1 0h1m0 0h1m0 0h1m3 0h1m2 0h1m0 0h1m1 0h1m1 0h1m2 0h1m-46 1h1m10 0h1m3 0h1m2 0h1m2 0h1m1 0h1m0 0h1m3 0h1m2 0h1m0 0h1m1 0h1m0 0h1m0 0h1m0 0h1m0 0h1m1 0h1m2 0h1m-38 1h1m3 0h1m2 0h1m2 0h1m2 0h1m0 0h1m0 0h1m1 0h1m0 0h1m0 0h1m0 0h1m2 0h1m3 0h1m1 0h1m0 0h1m0 0h1m1 0h1m3 0h1m3 0h1m-40 1h1m1 0h1m1 0h1m0 0h1m1 0h1m0 0h1m0 0h1m1 0h1m3 0h1m0 0h1m1 0h1m0 0h1m0 0h1m1 0h1m0 0h1m2 0h1m7 0h1m3 0h1m6 0h1m-44 1h1m2 0h1m4 0h1m0 0h1m0 0h1m2 0h1m0 0h1m0 0h1m0 0h1m1 0h1m0 0h1m1 0h1m0 0h1m1 0h1m2 0h1m4 0h1m-50 1h1m6 0h1m0 0h1m5 0h1m2 0h1m0 0h1m2 0h1m1 0h1m11 0h1m0 0h1m0 0h1m1 0h1m0 0h1m0 0h1m0 0h1m-37 1h1m2 0h1m9 0h1m1 0h1m0 0h1m0 0h1m0 0h1m0 0h1m0 0h1m0 0h1m0 0h1m0 0h1m0 0h1m0 0h1m1 0h1m0 0h1m2 0h1m0 0h1m0 0h1m0 0h1m7 0h1m-39 1h1m1 0h1m1 0h1m8 0h1m0 0h1m0 0h1m0 0h1m0 0h1m0 0h1m2 0h1m1 0h1m0 0h1m1 0h1m1 0h1m0 0h1m1 0h1m1 0h1m9 0h1m2 0h1m-47 1h1m0 0h1m0 0h1m8 0h1m0 0h1m1 0h1m2 0h1m1 0h1m0 0h1m0 0h1m0 0h1m2 0h1m1 0h1m0 0h1m2 0h1m1 0h1m1 0h1m3 0h1m3 0h1m-49 1h1m1 0h1m0 0h1m2 0h1m1 0h1m0 0h1m0 0h1m0 0h1m0 0h1m2 0h1m0 0h1m2 0h1m0 0h1m0 0h1m0 0h1m3 0h1m0 0h1m1 0h1m1 0h1m0 0h1m8 0h1m3 0h1m7 0h1m-49 1h1m2 0h1m4 0h1m1 0h1m0 0h1m0 0h1m1 0h1m2 0h1m3 0h1m0 0h1m3 0h1m2 0h1m0 0h1m1 0h1m4 0h1m2 0h1m-53 1h1m4 0h1m3 0h1m7 0h1m0 0h1m1 0h1m1 0h1m4 0h1m0 0h1m0 0h1m0 0h1m0 0h1m0 0h1m2 0h1m2 0h1m2 0h1m0 0h1m0 0h1m4 0h1m3 0h1m-58 1h1m9 0h1m2 0h1m4 0h1m2 0h1m1 0h1m2 0h1m0 0h1m0 0h1m1 0h1m0 0h1m0 0h1m0 0h1m1 0h1m0 0h1m0 0h1m5 0h1m0 0h1m-37 1h1m5 0h1m0 0h1m1 0h1m0 0h1m0 0h1m6 0h1m0 0h1m0 0h1m1 0h1m1 0h1m2 0h1m0 0h1m0 0h1m4 0h1m4 0h1m10 0h1m-55 1h1m3 0h1m8 0h1m8 0h1m1 0h1m1 0h1m0 0h1m1 0h1m1 0h1m0 0h1m0 0h1m3 0h1m6 0h1m2 0h1m13 0h1m-56 1h1m0 0h1m1 0h1m1 0h1m4 0h1m2 0h1m0 0h1m0 0h1m3 0h1m3 0h1m7 0h1m1 0h1m4 0h1m1 0h1m-41 1h1m3 0h1m3 0h1m4 0h1m1 0h1m0 0h1m0 0h1m0 0h1m2 0h1m2 0h1m2 0h1m0 0h1m0 0h1m0 0h1m7 0h1m1 0h1m-43 1h1m7 0h1m0 0h1m1 0h1m1 0h1m2 0h1m0 0h1m1 0h1m1 0h1m1 0h1m0 0h1m1 0h1m1 0h1m0 0h1m15 0h1m0 0h1m-46 1h1m2 0h1m1 0h1m1 0h1m3 0h1m2 0h1m1 0h1m0 0h1m0 0h1m8 0h1m1 0h1m1 0h1m4 0h1m1 0h1m-48 1h1m7 0h1m10 0h1m0 0h1m3 0h1m3 0h1m0 0h1m1 0h1m2 0h1m9 0h1m-37 1h1m4 0h1m1 0h1m0 0h1m5 0h1m1 0h1m0 0h1m2 0h1m4 0h1m1 0h1m3 0h1m2 0h1m2 0h1m-39 1h1m8 0h1m0 0h1m3 0h1m1 0h1m0 0h1m6 0h1m5 0h1m-21 1h1m3 0h1m1 0h1m8 0h1m-31 1h1m5 0h1m4 0h1m2 0h1m7 0h1m2 0h1m0 0h1m6 0h1m-26 1h1m7 0h1m1 0h1m0 0h1m2 0h1m1 0h1m15 0h1m-34 1h1m6 0h1m7 0h1m4 0h1m1 0h1m4 0h1m1 0h1m-22 1h1m1 0h1m0 0h1m15 0h1m1 1h1m4 0h1m-41 2h1m9 0h1m8 0h1m6 0h1m-9 1h1m-8 1h1m14 0h1m5 1h1" stroke="#5864b8" stroke-width="1.0"/>
<path transform="translate(0 0.5)" d="M445 491h1m-41 3h1m2 0h1m-22 1h1m43 1h1m-49 3h1m24 1h1m-10 4h1m-10 1h1m6 0h1m24 1h1m-29 1h1m30 0h1m4 0h1m-8 1h1m12 0h1m-50 1h1m18 0h1m0 0h1m1 0h1m11 0h1m-48 1h1m6 0h1m27 0h1m-4 1h1m12 0h1m-20 1h1m2 0h1m0 0h1m-46 1h1m29 0h1m16 0h1m3 0h1m3 0h1m1 0h1m2 0h1m0 0h1m3 0h1m19 0h1m-22 1h1m-32 1h1m24 0h1m-45 1h1m2 0h1m3 0h1m11 0h1m23 0h1m0 0h1m-32 1h1m12 0h1m2 0h1m3 0h1m37 0h1m-72 1h1m36 0h1m1 0h1m6 0h1m0 0h1m0 0h1m1 0h1m1 0h1m24 0h1m-72 1h1m7 0h1m17 0h1m12 0h1m1 0h1m13 0h1m0 0h1m-51 1h1m4 0h1m0 0h1m43 0h1m-64 1h1m8 0h1m16 0h1m9 0h1m-11 1h1m16 0h1m12 0h1m5 0h1m2 0h1m5 0h1m-62 1h1m9 0h1m3 0h1m3 0h1m12 0h1m1 0h1m6 0h1m1 0h1m10 0h1m7 0h1m-66 1h1m20 0h1m1 0h1m4 0h1m8 0h1m4 0h1m2 0h1m13 0h1m-45 1h1m10 0h1m3 0h1m1 0h1m9 0h1m5 0h1m-47 1h1m1 0h1m12 0h1m3 0h1m4 0h1m12 0h1m8 0h1m7 0h1m12 0h1m-75 1h1m13 0h1m0 0h1m4 0h1m0 0h1m1 0h1m6 0h1m14 0h1m-48 1h1m4 0h1m2 0h1m4 0h1m6 0h1m8 0h1m4 0h1m4 0h1m2 0h1m22 0h1m-54 1h1m12 0h1m4 0h1m6 0h1m23 0h1m-55 1h1m7 0h1m1 0h1m0 0h1m15 0h1m8 0h1m14 0h1m-41 1h1m11 0h1m11 0h1m1 0h1m1 0h1m1 0h1m4 0h1m4 0h1m4 0h1m13 0h1m0 0h1m-76 1h1m19 0h1m10 0h1m7 0h1m21 0h1m-55 1h1m4 0h1m11 0h1m8 0h1m22 0h1m-31 1h1m12 0h1m2 0h1m18 0h1m6 0h1m-78 1h1m12 0h1m0 0h1m9 0h1m3 0h1m0 0h1m3 0h1m1 0h1m0 0h1m8 0h1m3 0h1m4 0h1m1 0h1m-56 1h1m12 0h1m5 0h1m4 0h1m9 0h1m0 0h1m3 0h1m0 0h1m1 0h1m1 0h1m0 0h1m0 0h1m2 0h1m0 0h1m1 0h1m5 0h1m3 0h1m-68 1h1m29 0h1m4 0h1m2 0h1m2 0h1m4 0h1m19 0h1m5 0h1m-78 1h1m1 0h1m24 0h1m6 0h1m0 0h1m0 0h1m1 0h1m7 0h1m17 0h1m1 0h1m-51 1h1m31 0h1m1 0h1m17 0h1m12 0h1m-48 1h1m4 0h1m1 0h1m9 0h1m5 0h1m8 0h1m7 0h1m0 0h1m3 0h1m-44 1h1m7 0h1m1 0h1m2 0h1m1 0h1m4 0h1m3 0h1m2 0h1m18 0h1m-18 1h1m0 0h1m2 0h1m12 0h1m-51 1h1m1 0h1m14 0h1m4 0h1m0 0h1m12 0h1m-36 1h1m2 0h1m1 0h1m15 0h1m4 0h1m2 0h1m0 0h1m1 0h1m2 0h1m0 0h1m0 0h1m7 0h1m10 0h1m-75 1h1m8 0h1m2 0h1m3 0h1m0 0h1m10 0h1m0 0h1m3 0h1m1 0h1m4 0h1m13 0h1m6 0h1m-45 1h1m0 0h1m5 0h1m0 0h1m6 0h1m2 0h1m0 0h1m8 0h1m8 0h1m4 0h1m-67 1h1m9 0h1m7 0h1m10 0h1m10 0h1m0 0h1m6 0h1m0 0h1m0 0h1m0 0h1m4 0h1m9 0h1m-78 1h1m28 0h1m4 0h1m2 0h1m1 0h1m2 0h1m3 0h1m5 0h1m2 0h1m0 0h1m3 0h1m5 0h1m11 0h1m12 0h1m-72 1h1m4 0h1m17 0h1m13 0h1m3 0h1m1 0h1m-34 1h1m6 0h1m6 0h1m6 0h1m1 0h1m8 0h1m3 0h1m4 0h1m3 0h1m-77 1h1m27 0h1m10 0h1m2 0h1m5 0h1m5 0h1m14 0h1m11 0h1m18 0h1m-70 1h1m16 0h1m7 0h1m0 0h1m2 0h1m7 0h1m7 0h1m-58 1h1m13 0h1m6 0h1m4 0h1m6 0h1m-39 1h1m28 0h1m5 0h1m2 0h1m0 0h1m9 0h1m1 0h1m0 0h1m-32 1h1m8 0h1m1 0h1m3 0h1m12 0h1m16 0h1m-58 1h1m10 0h1m1 0h1m0 0h1m6 0h1m2 0h1m2 0h1m16 0h1m-81 1h1m26 0h1m1 0h1m13 0h1m2 0h1m13 0h1m0 0h1m9 0h1m2 0h1m0 0h1m5 0h1m18 0h1m6 0h1m-77 1h1m18 0h1m12 0h1m16 0h1m-60 1h1m27 0h1m17 0h1m8 0h1m12 0h1m-50 1h1m1 0h1m7 0h1m2 0h1m4 0h1m4 0h1m5 0h1m14 0h1m10 0h1m19 0h1m-81 1h1m8 0h1m12 0h1m29 0h1m11 0h1m-28 1h1m18 0h1m-42 1h1m5 0h1m13 0h1m-34 1h1m0 0h1m7 0h1m3 0h1m0 0h1m1 0h1m0 0h1m2 0h1m13 0h1m-37 1h1m0 0h1m4 0h1m17 0h1m22 0h1m-32 1h1m13 0h1m5 0h1m-63 1h1m15 0h1m35 0h1m0 0h1m17 0h1m2 0h1m-35 1h1m8 0h1m1 0h1m2 0h1m-32 1h1m18 0h1m13 0h1m31 0h1m-8 1h1" stroke="#8a92c8" stroke-width="1.0"/>
<path transform="translate(0 0.5)" d="M409 529h1m-5 1h1m-22 1h1m26 0h1m-21 1h1m5 0h1m3 1h1m27 0h1m-32 1h1m3 0h1m3 0h1m35 0h1m-34 1h1m20 0h1m-42 1h1m9 0h1m3 0h1m10 0h1m4 0h1m0 0h1m-39 1h1m11 0h1m9 0h1m2 0h1m-30 1h1m3 0h1m4 0h1m7 0h1m10 0h1m5 0h1m1 0h1m4 0h1m-30 1h1m2 0h1m4 0h1m0 0h1m10 0h1m7 0h1m4 0h1m-47 1h1m10 0h1m9 0h1m4 0h1m0 0h1m0 0h1m5 0h1m4 0h1m1 0h1m1 0h1m-18 1h1m1 0h1m0 0h1m18 0h1m-51 1h1m9 0h1m1 0h1m6 0h1m5 0h1m6 0h1m0 0h1m0 0h1m-42 1h1m8 0h1m11 0h1m6 0h1m1 0h1m2 0h1m23 0h1m-30 1h1m2 0h1m1 0h1m1 0h1m1 0h1m0 0h1m1 0h1m2 0h1m5 0h1m0 0h1m-38 1h1m1 0h1m4 0h1m5 0h1m1 0h1m1 0h1m0 0h1m0 0h1m2 0h1m7 0h1m0 0h1m1 0h1m2 0h1m-46 1h1m10 0h1m4 0h1m1 0h1m3 0h1m1 0h1m0 0h1m4 0h1m0 0h1m0 0h1m5 0h1m4 0h1m1 0h1m8 0h1m-60 1h1m2 0h1m8 0h1m1 0h1m5 0h1m4 0h1m1 0h1m0 0h1m1 0h1m0 0h1m1 0h1m1 0h1m0 0h1m8 0h1m8 0h1m-60 1h1m3 0h1m11 0h1m1 0h1m0 0h1m0 0h1m11 0h1m2 0h1m2 0h1m0 0h1m3 0h1m0 0h1m0 0h1m1 0h1m0 0h1m1 0h1m-48 1h1m4 0h1m4 0h1m3 0h1m2 0h1m1 0h1m1 0h1m4 0h1m0 0h1m0 0h1m0 0h1m1 0h1m1 0h1m4 0h1m1 0h1m1 0h1m3 0h1m3 0h1m13 0h1m-61 1h1m5 0h1m2 0h1m1 0h1m1 0h1m0 0h1m0 0h1m1 0h1m0 0h1m0 0h1m0 0h1m2 0h1m1 0h1m2 0h1m0 0h1m0 0h1m0 0h1m1 0h1m4 0h1m1 0h1m0 0h1m-43 1h1m11 0h1m0 0h1m0 0h1m0 0h1m0 0h1m0 0h1m0 0h1m0 0h1m0 0h1m0 0h1m1 0h1m0 0h1m2 0h1m0 0h1m2 0h1m0 0h1m0 0h1m0 0h1m1 0h1m0 0h1m0 0h1m1 0h1m1 0h1m-41 1h1m2 0h1m2 0h1m1 0h1m7 0h1m0 0h1m0 0h1m0 0h1m4 0h1m0 0h1m0 0h1m0 0h1m4 0h1m2 0h1m0 0h1m0 0h1m1 0h1m8 0h1m0 0h1m-57 1h1m5 0h1m0 0h1m0 0h1m3 0h1m1 0h1m1 0h1m3 0h1m0 0h1m0 0h1m1 0h1m2 0h1m0 0h1m0 0h1m1 0h1m1 0h1m1 0h1m0 0h1m1 0h1m0 0h1m0 0h1m0 0h1m2 0h1m5 0h1m6 0h1m-69 1h1m15 0h1m4 0h1m5 0h1m0 0h1m1 0h1m0 0h1m0 0h1m0 0h1m0 0h1m0 0h1m1 0h1m2 0h1m1 0h1m0 0h1m0 0h1m0 0h1m0 0h1m0 0h1m0 0h1m1 0h1m0 0h1m5 0h1m-41 1h1m4 0h1m1 0h1m0 0h1m0 0h1m0 0h1m0 0h1m1 0h1m0 0h1m1 0h1m0 0h1m1 0h1m1 0h1m0 0h1m0 0h1m1 0h1m3 0h1m0 0h1m2 0h1m1 0h1m1 0h1m14 0h1m-63 1h1m6 0h1m4 0h1m1 0h1m1 0h1m1 0h1m2 0h1m1 0h1m0 0h1m2 0h1m0 0h1m3 0h1m0 0h1m0 0h1m4 0h1m0 0h1m2 0h1m3 0h1m0 0h1m4 0h1m6 0h1m-71 1h1m15 0h1m2 0h1m0 0h1m2 0h1m1 0h1m0 0h1m0 0h1m0 0h1m1 0h1m1 0h1m0 0h1m2 0h1m0 0h1m0 0h1m2 0h1m0 0h1m0 0h1m0 0h1m7 0h1m2 0h1m1 0h1m4 0h1m-52 1h1m0 0h1m1 0h1m9 0h1m1 0h1m0 0h1m0 0h1m0 0h1m0 0h1m2 0h1m1 0h1m0 0h1m1 0h1m3 0h1m1 0h1m0 0h1m0 0h1m0 0h1m1 0h1m-40 1h1m7 0h1m2 0h1m1 0h1m0 0h1m2 0h1m0 0h1m0 0h1m1 0h1m0 0h1m1 0h1m2 0h1m1 0h1m2 0h1m0 0h1m0 0h1m2 0h1m0 0h1m2 0h1m4 0h1m4 0h1m-55 1h1m6 0h1m4 0h1m0 0h1m3 0h1m3 0h1m1 0h1m0 0h1m0 0h1m0 0h1m0 0h1m1 0h1m0 0h1m2 0h1m2 0h1m0 0h1m0 0h1m3 0h1m0 0h1m8 0h1m10 0h1m-63 1h1m3 0h1m8 0h1m2 0h1m1 0h1m1 0h1m0 0h1m0 0h1m1 0h1m0 0h1m2 0h1m2 0h1m0 0h1m2 0h1m0 0h1m2 0h1m0 0h1m-34 1h1m4 0h1m0 0h1m2 0h1m1 0h1m0 0h1m0 0h1m2 0h1m0 0h1m0 0h1m1 0h1m0 0h1m1 0h1m0 0h1m4 0h1m0 0h1m3 0h1m0 0h1m0 0h1m5 0h1m0 0h1m0 0h1m-41 1h1m1 0h1m0 0h1m0 0h1m0 0h1m1 0h1m1 0h1m0 0h1m2 0h1m0 0h1m1 0h1m0 0h1m21 0h1m-54 1h1m7 0h1m0 0h1m3 0h1m0 0h1m0 0h1m1 0h1m1 0h1m1 0h1m0 0h1m0 0h1m0 0h1m0 0h1m0 0h1m0 0h1m4 0h1m2 0h1m1 0h1m2 0h1m0 0h1m-41 1h1m5 0h1m2 0h1m0 0h1m0 0h1m5 0h1m0 0h1m2 0h1m2 0h1m3 0h1m1 0h1m1 0h1m2 0h1m13 0h1m-47 1h1m6 0h1m0 0h1m4 0h1m1 0h1m0 0h1m1 0h1m0 0h1m7 0h1m0 0h1m5 0h1m10 0h1m-56 1h1m1 0h1m9 0h1m2 0h1m2 0h1m0 0h1m0 0h1m0 0h1m6 0h1m1 0h1m1 0h1m4 0h1m1 0h1m0 0h1m4 0h1m5 0h1m-38 1h1m1 0h1m0 0h1m1 0h1m5 0h1m0 0h1m6 0h1m0 0h1m1 0h1m1 0h1m3 0h1m-50 1h1m4 0h1m23 0h1m5 0h1m0 0h1m1 0h1m3 0h1m5 0h1m3 0h1m-53 1h1m6 0h1m0 0h1m2 0h1m17 0h1m1 0h1m0 0h1m0 0h1m0 0h1m2 0h1m0 0h1" stroke="#3444ac" stroke-width="1.0"/>
<g transform="translate(407.1,540.8) rotate(-30)" filter="url(#bl)">
<ellipse rx="9.6" ry="4" fill="#2a4cc4"/>
</g>
<path transform="translate(0 0.5)" d="M361 553h1m5 3h1m-5 1h1m10 0h1m-19 1h1m9 0h1m0 0h1m8 0h1m-24 1h1m5 0h1m1 0h1m0 0h1m0 0h1m1 0h1m0 0h1m1 0h1m1 0h1m4 0h1m-23 1h1m0 0h1m0 0h1m0 0h1m2 0h1m0 0h1m0 0h1m0 0h1m5 0h1m1 0h1m-18 1h1m1 0h1m1 0h1m0 0h1m0 0h1m0 0h1m1 0h1m1 0h1m0 0h1m0 0h1m0 0h1m0 0h1m4 0h1m-22 1h1m0 0h1m0 0h1m0 0h1m0 0h1m0 0h1m0 0h1m1 0h1m4 0h1m0 0h1m0 0h1m1 0h1m-18 1h1m0 0h1m0 0h1m0 0h1m0 0h1m0 0h1m0 0h1m0 0h1m1 0h1m0 0h1m0 0h1m1 0h1m0 0h1m0 0h1m1 0h1m0 0h1m-19 1h1m1 0h1m0 0h1m0 0h1m0 0h1m0 0h1m0 0h1m0 0h1m0 0h1m0 0h1m0 0h1m3 0h1m0 0h1m4 0h1m0 0h1m1 0h1m-26 1h1m0 0h1m0 0h1m0 0h1m0 0h1m0 0h1m0 0h1m0 0h1m0 0h1m0 0h1m0 0h1m0 0h1m1 0h1m0 0h1m1 0h1m0 0h1m0 0h1m0 0h1m4 0h1m-25 1h1m0 0h1m0 0h1m0 0h1m0 0h1m0 0h1m0 0h1m0 0h1m0 0h1m0 0h1m0 0h1m0 0h1m1 0h1m1 0h1m0 0h1m1 0h1m5 0h1m8 0h1m-34 1h1m0 0h1m0 0h1m0 0h1m0 0h1m0 0h1m0 0h1m0 0h1m0 0h1m0 0h1m0 0h1m0 0h1m0 0h1m0 0h1m0 0h1m0 0h1m0 0h1m0 0h1m7 0h1m-24 1h1m0 0h1m0 0h1m0 0h1m0 0h1m0 0h1m0 0h1m2 0h1m0 0h1m0 0h1m0 0h1m1 0h1m1 0h1m3 0h1m-23 1h1m0 0h1m0 0h1m0 0h1m0 0h1m0 0h1m0 0h1m0 0h1m0 0h1m0 0h1m0 0h1m0 0h1m0 0h1m1 0h1m-15 1h1m1 0h1m0 0h1m0 0h1m0 0h1m0 0h1m0 0h1m2 0h1m0 0h1m1 0h1m2 0h1m0 0h1" stroke="#2a3cb4" stroke-width="1.0"/>
<clipPath id="cp337"><rect x="350.1" y="452.3" width="106.1" height="118.3"/></clipPath><g clip-path="url(#cp337)">
<g transform="translate(353.7,566.5) rotate(-15)" filter="url(#bl)">
<ellipse rx="10.8" ry="3.8" fill="#2a4cc4"/>
<ellipse rx="9.4" ry="3.4" fill="#2470d6"/>
<ellipse rx="9.2" ry="3.3" fill="#1f98df"/>
<ellipse rx="7.4" ry="2.6" fill="#22c3d2"/>
<ellipse rx="5.8" ry="2.1" fill="#35c27a"/>
</g>
</g>
<path transform="translate(0 0.5)" d="M375 549h1m15 2h1m-9 1h1m-15 1h1m5 0h1m2 0h1m6 0h1m1 0h1m0 0h1m0 0h1m0 0h1m-11 1h1m0 0h1m0 0h1m0 0h1m0 0h1m4 0h1m-25 1h1m7 0h1m3 0h1m2 0h1m0 0h1m0 0h1m0 0h1m0 0h1m0 0h1m2 0h1m2 0h1m1 0h1m-25 1h1m3 0h1m0 0h1m2 0h1m1 0h1m1 0h1m0 0h1m0 0h1m0 0h1m0 0h1m0 0h1m0 0h1m0 0h1m0 0h1m1 0h1m-22 1h1m0 0h1m2 0h1m2 0h1m1 0h1m0 0h1m0 0h1m1 0h1m0 0h1m0 0h1m0 0h1m1 0h1m0 0h1m0 0h1m2 0h1m4 0h1m-32 1h1m3 0h1m1 0h1m0 0h1m0 0h1m0 0h1m1 0h1m1 0h1m1 0h1m0 0h1m0 0h1m0 0h1m0 0h1m2 0h1m2 0h1m-28 1h1m7 0h1m0 0h1m1 0h1m0 0h1m1 0h1m0 0h1m0 0h1m1 0h1m0 0h1m0 0h1m0 0h1m0 0h1m0 0h1m2 0h1m0 0h1m0 0h1m0 0h1m-28 1h1m1 0h1m0 0h1m1 0h1m0 0h1m0 0h1m0 0h1m0 0h1m0 0h1m0 0h1m0 0h1m0 0h1m0 0h1m0 0h1m0 0h1m0 0h1m0 0h1m0 0h1m0 0h1m2 0h1m0 0h1m3 0h1m-27 1h1m0 0h1m0 0h1m0 0h1m0 0h1m0 0h1m0 0h1m0 0h1m0 0h1m0 0h1m0 0h1m0 0h1m0 0h1m0 0h1m0 0h1m0 0h1m0 0h1m0 0h1m1 0h1m0 0h1m1 0h1m3 0h1m-28 1h1m0 0h1m0 0h1m0 0h1m0 0h1m0 0h1m0 0h1m0 0h1m0 0h1m0 0h1m0 0h1m0 0h1m0 0h1m0 0h1m0 0h1m0 0h1m0 0h1m0 0h1m1 0h1m0 0h1m0 0h1m4 0h1m-29 1h1m1 0h1m1 0h1m3 0h1m0 0h1m0 0h1m0 0h1m0 0h1m0 0h1m0 0h1m1 0h1m1 0h1m0 0h1m0 0h1m1 0h1m0 0h1m-25 1h1m0 0h1m2 0h1m0 0h1m0 0h1m0 0h1m0 0h1m0 0h1m0 0h1m0 0h1m1 0h1m2 0h1m1 0h1m0 0h1m1 0h1m0 0h1m0 0h1m-28 1h1m2 0h1m0 0h1m4 0h1m0 0h1m0 0h1m0 0h1m1 0h1m0 0h1m0 0h1m2 0h1m0 0h1m0 0h1m1 0h1m0 0h1m-24 1h1m2 0h1m1 0h1m0 0h1m0 0h1m1 0h1m0 0h1m1 0h1m0 0h1m0 0h1m1 0h1m0 0h1m0 0h1m1 0h1m0 0h1m0 0h1m2 0h1m-23 1h1m0 0h1m2 0h1m3 0h1m0 0h1m2 0h1m0 0h1m0 0h1m0 0h1m-20 1h1m5 0h1m1 0h1m0 0h1m0 0h1m1 0h1m0 0h1m1 0h1m0 0h1m2 0h1m2 0h1m-17 1h1m1 0h1m0 0h1m1 0h1m2 0h1m0 0h1m8 0h1m-15 1h1" stroke="#2a3cb4" stroke-width="1.0"/>
<g transform="translate(378.6,561.1) rotate(-20)" filter="url(#bl)">
<ellipse rx="10" ry="4.6" fill="#2a4cc4"/>
<ellipse rx="8.8" ry="4.1" fill="#2470d6"/>
<ellipse rx="8.5" ry="3.9" fill="#1f98df"/>
<ellipse rx="6.9" ry="3.2" fill="#22c3d2"/>
<ellipse rx="5.4" ry="2.5" fill="#35c27a"/>
<ellipse rx="4" ry="1.9" fill="#9ed62a"/>
<ellipse rx="2.8" ry="1.3" fill="#ece51e"/>
<ellipse rx="1.6" ry="0.8" fill="#f39a1e"/>
<ellipse rx="0.9" ry="0.4" fill="#e3281e"/>
</g>
<path d="M364.2 567.7L368.6 557.4L377.4 550.7L393.4 550.1L397.8 556L393.4 563.9L384.7 567.7Z" fill="none" stroke="#000" stroke-width="0.9"/>
<text x="359.9" y="526.3" font-size="5.6" fill="#111" stroke="#111" stroke-width="0.12">Lymphocytes</text>
<rect x="337" y="452.3" width="119.2" height="118.3" fill="none" stroke="#3a3a3a" stroke-width="0.8"/>
<path d="M337 570.6v2.2M337 570.6h-2.2M341.5 570.6v1.2M337 566.1h-1.2M346 570.6v1.2M337 561.6h-1.2M350.6 570.6v1.2M337 557h-1.2M355.1 570.6v1.2M337 552.5h-1.2M359.6 570.6v2.2M337 548h-2.2M364.1 570.6v1.2M337 543.5h-1.2M368.6 570.6v1.2M337 539h-1.2M373.2 570.6v1.2M337 534.4h-1.2M377.7 570.6v1.2M337 529.9h-1.2M382.2 570.6v2.2M337 525.4h-2.2M386.7 570.6v1.2M337 520.9h-1.2M391.2 570.6v1.2M337 516.4h-1.2M395.8 570.6v1.2M337 511.8h-1.2M400.3 570.6v1.2M337 507.3h-1.2M404.8 570.6v2.2M337 502.8h-2.2M409.3 570.6v1.2M337 498.3h-1.2M413.8 570.6v1.2M337 493.8h-1.2M418.4 570.6v1.2M337 489.2h-1.2M422.9 570.6v1.2M337 484.7h-1.2M427.4 570.6v2.2M337 480.2h-2.2M431.9 570.6v1.2M337 475.7h-1.2M436.4 570.6v1.2M337 471.2h-1.2M441 570.6v1.2M337 466.6h-1.2M445.5 570.6v1.2M337 462.1h-1.2M450 570.6v2.2M337 457.6h-2.2M454.5 570.6v1.2M337 453.1h-1.2" stroke="#333" stroke-width="0.5"/>
<text x="337.5" y="585.1" font-size="4.9" text-anchor="middle">0</text>
<text x="331.4" y="572.4" font-size="4.9" text-anchor="end">0</text>
<text x="360.1" y="585.1" font-size="4.9" text-anchor="middle">50K</text>
<text x="331.4" y="549.8" font-size="4.9" text-anchor="end">50K</text>
<text x="382.7" y="585.1" font-size="4.9" text-anchor="middle">100K</text>
<text x="331.4" y="527.2" font-size="4.9" text-anchor="end">100K</text>
<text x="405.3" y="585.1" font-size="4.9" text-anchor="middle">150K</text>
<text x="331.4" y="504.6" font-size="4.9" text-anchor="end">150K</text>
<text x="427.9" y="585.1" font-size="4.9" text-anchor="middle">200K</text>
<text x="331.4" y="482" font-size="4.9" text-anchor="end">200K</text>
<text x="450.5" y="585.1" font-size="4.9" text-anchor="middle">250K</text>
<text x="331.4" y="459.4" font-size="4.9" text-anchor="end">250K</text>
<text x="395.1" y="595.4" font-size="5.7" text-anchor="middle">FSC-A</text>
<text transform="translate(317.2,511) rotate(-90)" font-size="5.8" text-anchor="middle">SSC-A</text>
<path transform="translate(0 0.5)" d="M46 688h1m-4 1h1m1 2h1m-12 1h1m11 0h1m-3 1h1m-5 1h1m3 0h1m0 0h1m4 0h1m-5 1h1m1 0h1m-12 1h1m4 0h1m2 1h1m0 0h1m0 0h1m0 0h1m2 0h1m2 0h1m-21 1h1m5 0h1m2 0h1m1 0h1m0 0h1m7 0h1m2 0h1m-22 1h1m0 0h1m0 0h1m8 0h1m1 0h1m-10 1h1m1 0h1m0 0h1m0 0h1m2 0h1m-11 1h1m2 0h1m4 0h1m0 0h1m0 0h1m2 0h1m-7 1h1m0 0h1m4 0h1m-14 1h1m2 0h1m1 0h1m3 0h1m3 0h1m2 0h1m0 0h1m-17 1h1m4 0h1m-1 1h1m2 0h1m0 0h1m0 0h1m5 0h1m0 0h1m-21 1h1m0 0h1m6 0h1m4 0h1m0 0h1m0 0h1m-17 1h1m2 0h1m1 0h1m1 0h1m0 0h1m1 0h1m3 0h1m-11 1h1m2 0h1m0 0h1m6 0h1m0 0h1m-11 1h1m0 0h1m2 0h1m0 0h1m2 0h1m0 0h1m1 0h1m0 0h1m-18 1h1m0 0h1m3 0h1m6 0h1m1 0h1m0 0h1m7 0h1m-16 1h1m0 0h1m1 0h1m0 0h1m0 0h1m-14 1h1m3 0h1m3 0h1m1 0h1m1 0h1m0 0h1m1 0h1m-17 1h1m14 0h1m-12 1h1m1 0h1m0 0h1m4 0h1m2 0h1m-8 1h1m2 0h1m-4 1h1m5 0h1m0 0h1m7 0h1m-21 1h1m7 0h1m4 0h1m2 0h1m-18 1h1m2 0h1m2 0h1m0 0h1m2 0h1m3 0h1m2 0h1m-5 1h1m5 0h1m-16 1h1m0 0h1m1 0h1m4 0h1m-4 1h1m0 0h1m1 0h1m-4 1h1m1 0h1m0 0h1m-8 1h1m1 0h1m1 0h1m6 1h1m-10 2h1m0 0h1m1 0h1m-7 1h1m7 0h1m-16 4h1m24 1h1" stroke="#6c76c2" stroke-width="1.0"/>
<path transform="translate(0 0.5)" d="M45 691h1m-3 2h1m-2 2h1m-4 1h1m12 0h1m-7 1h1m-8 1h1m6 0h1m-4 1h1m3 0h1m3 0h1m0 0h1m-10 1h1m0 0h1m-4 1h1m1 1h1m1 0h1m3 0h1m-3 1h1m1 0h1m-6 1h1m0 0h1m0 0h1m4 0h1m-3 1h1m-7 1h1m1 0h1m1 0h1m0 0h1m-14 1h1m6 0h1m1 0h1m1 0h1m1 0h1m-11 1h1m0 0h1m3 0h1m3 0h1m0 0h1m-14 1h1m8 0h1m2 0h1m2 0h1m0 0h1m-12 1h1m0 0h1m5 0h1m1 0h1m1 0h1m-11 2h1m4 0h1m1 0h1m0 0h1m-6 1h1m5 1h1m-8 1h1m3 0h1m4 0h1m-10 1h1m2 0h1m0 0h1m0 0h1m0 0h1m-10 1h1m6 0h1m-5 1h1m-1 1h1m3 2h1m1 0h1m-2 3h1" stroke="#4452b4" stroke-width="1.0"/>
<path transform="translate(0 0.5)" d="M46 720h1m-6 1h1m-2 1h1m-3 2h1m7 0h1m0 0h1m-7 2h1m6 0h1m-6 1h1m2 0h1m0 0h1m0 1h1m-8 1h1m3 0h1m1 0h1m0 0h1m-11 1h1m0 0h1m-1 1h1m9 0h1m-9 1h1m3 0h1m-4 1h1m1 0h1m1 0h1m1 0h1m-5 1h1m0 0h1m2 0h1m2 0h1m-9 1h1m1 0h1m2 0h1m-5 1h1m3 0h1m0 0h1m-10 1h1m3 0h1m2 0h1m-7 1h1m1 0h1m0 0h1m0 0h1m1 0h1m6 0h1m-12 1h1m0 0h1m0 0h1m2 0h1m3 0h1m-11 1h1m3 1h1m3 0h1m-11 1h1m1 0h1m1 0h1m2 0h1m-5 1h1m4 3h1" stroke="#6c76c0" stroke-width="1.0"/>
<path transform="translate(0 0.5)" d="M59 747h1m4 1h1m-11 2h1m0 0h1m2 0h1m6 0h1m-9 1h1m2 0h1m-9 1h1m1 0h1m0 0h1m1 0h1m1 0h1m2 0h1m2 0h1m-22 1h1m14 0h1m0 0h1m2 0h1m0 0h1m0 0h1m-7 1h1m0 0h1m0 0h1m0 0h1m0 0h1m-8 1h1m0 0h1m2 0h1m0 0h1m0 0h1m1 0h1m0 0h1m-10 1h1m1 0h1m1 0h1m1 0h1m0 0h1m3 0h1m0 0h1m-14 1h1m0 0h1m0 0h1m1 0h1m0 0h1m0 0h1m0 0h1m0 0h1m0 0h1m-11 1h1m2 0h1m0 0h1m1 0h1m2 0h1m0 0h1m-11 1h1m1 0h1m0 0h1m0 0h1m0 0h1m0 0h1m1 0h1m0 0h1m0 0h1m1 0h1m-15 1h1m3 0h1m1 0h1m2 0h1m1 0h1m0 0h1m0 0h1m-11 1h1m2 0h1m0 0h1m0 0h1m4 0h1m0 0h1m-8 1h1m0 0h1m0 0h1m-3 1h1m0 0h1m-9 1h1m4 0h1m0 0h1m1 0h1m1 0h1m1 1h1m-14 1h1" stroke="#2f45b8" stroke-width="1.0"/>
<path transform="translate(0 0.5)" d="M41 739h1m13 1h1m3 2h1m0 1h1m-21 1h1m16 0h1m-25 1h1m4 0h1m4 0h1m-3 1h1m1 0h1m0 0h1m2 0h1m1 0h1m0 0h1m1 0h1m6 0h1m-23 1h1m1 0h1m2 0h1m2 0h1m1 0h1m0 0h1m0 0h1m3 0h1m0 0h1m-14 1h1m1 0h1m1 0h1m2 0h1m1 0h1m1 0h1m-18 1h1m4 0h1m7 0h1m1 0h1m1 0h1m1 0h1m0 0h1m-4 1h1m2 0h1m-21 1h1m1 0h1m16 0h1m3 0h1m-23 1h1m17 0h1m-19 1h1m20 0h1m-28 1h1m25 0h1m-27 1h1m0 0h1m2 0h1m21 0h1m0 0h1m1 0h1m0 0h1m-26 1h1m19 0h1m-24 1h1m0 0h1m0 0h1m20 0h1m0 0h1m2 0h1m1 0h1m-33 1h1m2 0h1m2 0h1m-1 1h1m19 0h1m-26 1h1m2 0h1m0 0h1m0 0h1m24 0h1m-27 1h1m0 0h1m19 0h1m-25 1h1m0 0h1m0 0h1m1 0h1m27 0h1m-31 1h1m1 0h1m0 0h1m17 0h1m2 0h1m1 0h1m1 0h1m-27 1h1m1 0h1m15 0h1m2 0h1m-23 1h1m0 0h1m1 0h1m14 0h1m0 0h1m0 0h1m1 0h1m0 0h1m0 0h1m-7 1h1m0 0h1m2 0h1m-17 1h1m0 0h1m1 0h1m3 0h1m1 0h1m1 0h1m4 0h1m-13 1h1m0 0h1m1 0h1m0 0h1m3 0h1m-13 1h1m4 0h1m0 0h1m4 0h1m3 0h1m-10 1h1m-5 1h1m1 0h1m1 0h1m2 0h1m3 0h1m-6 1h1m3 0h1m2 0h1m-24 1h1m7 0h1m7 0h1m-12 1h1" stroke="#2838b0" stroke-width="1.0"/>
<path transform="translate(0 0.5)" d="M41 749h1m1 0h1m1 0h1m0 0h1m1 0h1m-6 1h1m0 0h1m0 0h1m2 0h1m-9 1h1m1 0h1m0 0h1m0 0h1m0 0h1m0 0h1m0 0h1m0 0h1m3 0h1m-15 1h1m0 0h1m0 0h1m0 0h1m1 0h1m0 0h1m0 0h1m0 0h1m0 0h1m1 0h1m0 0h1m-14 1h1m1 0h1m0 0h1m0 0h1m0 0h1m6 0h1m1 0h1m0 0h1m0 0h1m-17 1h1m0 0h1m0 0h1m0 0h1m9 0h1m0 0h1m0 0h1m0 0h1m0 0h1m-18 1h1m0 0h1m0 0h1m11 0h1m0 0h1m-17 1h1m0 0h1m1 0h1m11 0h1m0 0h1m0 0h1m1 0h1m-18 1h1m0 0h1m12 0h1m0 0h1m-19 1h1m0 0h1m1 0h1m0 0h1m11 0h1m0 0h1m1 0h1m-20 1h1m1 0h1m0 0h1m0 0h1m12 0h1m1 0h1m-19 1h1m0 0h1m1 0h1m11 0h1m0 0h1m0 0h1m-17 1h1m0 0h1m0 0h1m11 0h1m0 0h1m1 0h1m-18 1h1m0 0h1m0 0h1m0 0h1m0 0h1m7 0h1m1 0h1m2 0h1m-19 1h1m3 0h1m0 0h1m5 0h1m1 0h1m0 0h1m0 0h1m0 0h1m0 0h1m-17 1h1m1 0h1m1 0h1m0 0h1m0 0h1m0 0h1m0 0h1m0 0h1m0 0h1m0 0h1m0 0h1m0 0h1m0 0h1m-14 1h1m0 0h1m0 0h1m0 0h1m0 0h1m0 0h1m0 0h1m1 0h1m0 0h1m0 0h1m0 0h1m0 0h1m0 0h1m-11 1h1m1 0h1m0 0h1m0 0h1m2 0h1m1 0h1m-8 1h1m0 0h1m0 0h1m0 0h1m1 0h1" stroke="#3658c4" stroke-width="1.0"/>
<g transform="translate(45,757.8)" filter="url(#bl)">
<ellipse rx="8.5" ry="8" fill="#2f55c8"/>
<ellipse rx="7.2" ry="6.8" fill="#2a8fdc"/>
<ellipse rx="6.1" ry="5.7" fill="#25bfd0"/>
<ellipse rx="4.9" ry="4.6" fill="#38c070"/>
<ellipse rx="3.7" ry="3.5" fill="#a8d828"/>
<ellipse rx="2.7" ry="2.5" fill="#f0e020"/>
<ellipse rx="1.8" ry="1.7" fill="#f39a1e"/>
<ellipse rx="1" ry="0.9" fill="#e3281e"/>
</g>
<path transform="translate(0 0.5)" d="M86 737h1m-7 1h1m-7 1h1m11 0h1m-18 1h1m16 0h1m-26 1h1m10 0h1m12 0h1m-17 1h1m0 0h1m7 0h1m0 0h1m4 0h1m1 0h1m-14 1h1m1 0h1m0 0h1m2 0h1m0 0h1m4 0h1m10 0h1m-32 1h1m6 0h1m11 0h1m0 0h1m0 0h1m1 0h1m3 0h1m-36 1h1m2 0h1m1 0h1m2 0h1m1 0h1m0 0h1m0 0h1m1 0h1m0 0h1m2 0h1m0 0h1m1 0h1m1 0h1m1 0h1m2 0h1m2 0h1m3 0h1m2 0h1m0 0h1m0 0h1m-25 1h1m3 0h1m2 0h1m0 0h1m5 0h1m1 0h1m2 0h1m1 0h1m3 0h1m-40 1h1m2 0h1m0 0h1m2 0h1m5 0h1m14 0h1m2 0h1m2 0h1m-34 1h1m0 0h1m6 0h1m23 0h1m0 0h1m0 0h1m1 0h1m3 0h1m-43 1h1m2 0h1m2 0h1m0 0h1m2 0h1m24 0h1m0 0h1m1 0h1m1 0h1m-44 1h1m3 0h1m2 0h1m2 0h1m0 0h1m26 0h1m0 0h1m1 0h1m1 0h1m-37 1h1m1 0h1m30 0h1m1 0h1m0 0h1m4 0h1m6 0h1m-60 1h1m10 0h1m1 0h1m35 0h1m-42 1h1m2 0h1m0 0h1m0 0h1m40 0h1m-53 1h1m4 0h1m4 0h1m32 0h1m1 0h1m-40 1h1m1 0h1m0 0h1m0 0h1m37 0h1m-47 1h1m1 0h1m0 0h1m3 0h1m0 0h1m32 0h1m0 0h1m0 0h1m1 0h1m-48 1h1m5 0h1m1 0h1m0 0h1m34 0h1m-40 1h1m4 0h1m33 0h1m1 0h1m8 0h1m-53 1h1m2 0h1m1 0h1m0 0h1m0 0h1m32 0h1m-49 1h1m9 0h1m2 0h1m0 0h1m1 0h1m37 0h1m0 0h1m-40 1h1m0 0h1m29 0h1m5 0h1m-43 1h1m5 0h1m27 0h1m0 0h1m0 0h1m2 0h1m-40 1h1m2 0h1m4 0h1m0 0h1m22 0h1m2 0h1m1 0h1m8 0h1m-50 1h1m7 0h1m0 0h1m2 0h1m19 0h1m3 0h1m-25 1h1m1 0h1m0 0h1m2 0h1m1 0h1m7 0h1m0 0h1m4 0h1m-43 1h1m12 0h1m3 0h1m1 0h1m1 0h1m2 0h1m1 0h1m3 0h1m0 0h1m20 0h1m8 0h1m4 0h1m-54 1h1m9 0h1m4 0h1m6 0h1m2 0h1m0 0h1m0 0h1m0 0h1m7 0h1m-31 1h1m4 0h1m2 0h1m3 0h1m2 0h1m1 0h1m0 0h1m0 0h1m5 0h1m4 0h1m-34 1h1m3 0h1m5 0h1m6 0h1m3 0h1m10 0h1m-29 1h1m0 0h1m-2 1h1m8 0h1m3 0h1m3 0h1m4 0h1m-20 2h1" stroke="#2838b0" stroke-width="1.0"/>
<path transform="translate(0 0.5)" d="M77 746h1m1 0h1m-8 1h1m2 0h1m2 0h1m0 0h1m0 0h1m1 0h1m0 0h1m2 0h1m1 0h1m-18 1h1m0 0h1m1 0h1m1 0h1m0 0h1m0 0h1m0 0h1m0 0h1m0 0h1m0 0h1m0 0h1m0 0h1m0 0h1m0 0h1m-20 1h1m0 0h1m0 0h1m0 0h1m3 0h1m1 0h1m0 0h1m0 0h1m0 0h1m0 0h1m0 0h1m0 0h1m0 0h1m0 0h1m0 0h1m0 0h1m0 0h1m1 0h1m0 0h1m0 0h1m-25 1h1m1 0h1m1 0h1m0 0h1m0 0h1m0 0h1m0 0h1m4 0h1m1 0h1m0 0h1m0 0h1m1 0h1m0 0h1m0 0h1m0 0h1m1 0h1m-24 1h1m0 0h1m1 0h1m0 0h1m13 0h1m0 0h1m0 0h1m2 0h1m0 0h1m0 0h1m-29 1h1m1 0h1m0 0h1m0 0h1m0 0h1m0 0h1m16 0h1m0 0h1m0 0h1m0 0h1m0 0h1m0 0h1m-30 1h1m0 0h1m0 0h1m0 0h1m2 0h1m19 0h1m0 0h1m0 0h1m0 0h1m0 0h1m-29 1h1m2 0h1m0 0h1m18 0h1m0 0h1m0 0h1m0 0h1m0 0h1m1 0h1m0 0h1m-33 1h1m1 0h1m0 0h1m0 0h1m0 0h1m0 0h1m19 0h1m1 0h1m0 0h1m0 0h1m0 0h1m-33 1h1m1 0h1m1 0h1m0 0h1m0 0h1m20 0h1m0 0h1m1 0h1m-29 1h1m0 0h1m0 0h1m0 0h1m21 0h1m1 0h1m0 0h1m1 0h1m-32 1h1m1 0h1m0 0h1m0 0h1m0 0h1m0 0h1m18 0h1m0 0h1m2 0h1m0 0h1m-31 1h1m1 0h1m1 0h1m0 0h1m0 0h1m0 0h1m0 0h1m16 0h1m0 0h1m0 0h1m0 0h1m-26 1h1m0 0h1m0 0h1m0 0h1m0 0h1m1 0h1m12 0h1m0 0h1m1 0h1m1 0h1m1 0h1m-28 1h1m0 0h1m0 0h1m0 0h1m0 0h1m2 0h1m0 0h1m0 0h1m2 0h1m0 0h1m6 0h1m0 0h1m0 0h1m0 0h1m0 0h1m0 0h1m0 0h1m-25 1h1m1 0h1m1 0h1m1 0h1m0 0h1m0 0h1m0 0h1m0 0h1m0 0h1m0 0h1m0 0h1m0 0h1m2 0h1m0 0h1m0 0h1m0 0h1m0 0h1m0 0h1m0 0h1m-22 1h1m0 0h1m0 0h1m0 0h1m0 0h1m0 0h1m0 0h1m1 0h1m0 0h1m1 0h1m1 0h1m0 0h1m0 0h1m0 0h1m0 0h1m0 0h1m0 0h1m-18 1h1m1 0h1m0 0h1m0 0h1m1 0h1m2 0h1m0 0h1m0 0h1m2 0h1m0 0h1m0 0h1m-12 1h1m0 0h1m5 0h1" stroke="#3658c4" stroke-width="1.0"/>
<g transform="translate(79.5,755.5)" filter="url(#bl)">
<ellipse rx="13.7" ry="8.1" fill="#2f55c8"/>
<ellipse rx="11.6" ry="6.9" fill="#2a8fdc"/>
<ellipse rx="9.7" ry="5.8" fill="#25bfd0"/>
<ellipse rx="7.8" ry="4.6" fill="#38c070"/>
<ellipse rx="5.9" ry="3.5" fill="#a8d828"/>
</g>
<path d="M27.5 685.4H58.6V774.6M27.5 733.5H115.8V774.6" fill="none" stroke="#222" stroke-width="0.8"/>
<rect x="27.5" y="656" width="119.2" height="118.6" fill="none" stroke="#3a3a3a" stroke-width="0.8"/>
<path d="M27.5 671.3h-2.2M27.5 707.2h-2.2M27.5 744.3h-2.2M27.5 757.4h-2.2M27.5 772h-2.2M44.4 774.6v2.2M97.8 774.6v2.2M132.8 774.6v2.2M27.5 733.1h-1.1M27.5 726.5h-1.1M27.5 721.9h-1.1M27.5 718.3h-1.1M27.5 715.4h-1.1M27.5 712.9h-1.1M27.5 710.8h-1.1M27.5 708.9h-1.1M27.5 696.5h-1.1M27.5 690.1h-1.1M27.5 685.6h-1.1M27.5 682.1h-1.1M27.5 679.3h-1.1M27.5 676.9h-1.1M27.5 674.8h-1.1M27.5 672.9h-1.1M108.3 774.6v1.1M114.5 774.6v1.1M118.9 774.6v1.1M122.3 774.6v1.1M125 774.6v1.1M127.4 774.6v1.1M129.4 774.6v1.1M131.2 774.6v1.1M44.4 774.6v1.1M60.5 774.6v1.1M69.9 774.6v1.1M76.5 774.6v1.1M81.7 774.6v1.1M85.9 774.6v1.1M89.5 774.6v1.1M92.6 774.6v1.1M95.3 774.6v1.1" stroke="#333" stroke-width="0.5"/>
<rect x="42.1" y="774.9" width="3.6" height="1.6" fill="#111"/>
<rect x="25.7" y="756.4" width="1.6" height="2.6" fill="#111"/>
<text x="22.9" y="673.1" font-size="5.4" font-family="Liberation Serif, serif" stroke="#222" stroke-width="0.12" text-anchor="end">10<tspan dy="-2.4" font-size="3.6">4</tspan></text>
<text x="22.9" y="709" font-size="5.4" font-family="Liberation Serif, serif" stroke="#222" stroke-width="0.12" text-anchor="end">10<tspan dy="-2.4" font-size="3.6">3</tspan></text>
<text x="22.9" y="746.1" font-size="5.4" font-family="Liberation Serif, serif" stroke="#222" stroke-width="0.12" text-anchor="end">10<tspan dy="-2.4" font-size="3.6">2</tspan></text>
<text x="22.9" y="759.2" font-size="5.4" font-family="Liberation Serif, serif" stroke="#222" stroke-width="0.12" text-anchor="end">0</text>
<text x="22.9" y="773.8" font-size="5.4" font-family="Liberation Serif, serif" stroke="#222" stroke-width="0.12" text-anchor="end">-10<tspan dy="-2.4" font-size="3.6">2</tspan></text>
<text x="44.4" y="789.6" font-size="5.4" font-family="Liberation Serif, serif" stroke="#222" stroke-width="0.12" text-anchor="middle">0</text>
<text x="97.8" y="789.6" font-size="5.4" font-family="Liberation Serif, serif" stroke="#222" stroke-width="0.12" text-anchor="middle">10<tspan dy="-2.4" font-size="3.6">3</tspan></text>
<text x="132.8" y="789.6" font-size="5.4" font-family="Liberation Serif, serif" stroke="#222" stroke-width="0.12" text-anchor="middle">10<tspan dy="-2.4" font-size="3.6">4</tspan></text>
<path transform="translate(0 0.5)" d="M200 687h1m2 0h1m1 0h1m-7 3h1m1 0h1m-16 1h1m9 0h1m-3 1h1m0 0h1m1 0h1m2 0h1m1 0h1m3 0h1m-8 1h1m3 0h1m0 0h1m0 0h1m-13 1h1m3 0h1m3 0h1m0 0h1m-6 1h1m4 0h1m0 0h1m0 0h1m-11 1h1m2 0h1m0 0h1m1 0h1m4 0h1m-9 1h1m0 0h1m1 0h1m1 0h1m0 0h1m0 0h1m-16 1h1m1 0h1m1 0h1m0 0h1m0 0h1m0 0h1m1 0h1m0 0h1m0 0h1m0 0h1m2 0h1m0 0h1m0 0h1m1 0h1m-18 1h1m2 0h1m0 0h1m0 0h1m1 0h1m0 0h1m0 0h1m2 0h1m0 0h1m1 0h1m-19 1h1m2 0h1m1 0h1m1 0h1m0 0h1m0 0h1m3 0h1m-10 1h1m2 0h1m0 0h1m1 0h1m1 0h1m0 0h1m0 0h1m1 0h1m0 0h1m1 0h1m-18 1h1m0 0h1m3 0h1m0 0h1m2 0h1m3 0h1m1 0h1m1 0h1m-18 1h1m2 0h1m0 0h1m2 0h1m1 0h1m0 0h1m0 0h1m0 0h1m0 0h1m1 0h1m1 0h1m-17 1h1m3 0h1m0 0h1m0 0h1m0 0h1m0 0h1m1 0h1m0 0h1m3 0h1m0 0h1m0 0h1m-23 1h1m3 0h1m1 0h1m0 0h1m1 0h1m2 0h1m1 0h1m1 0h1m0 0h1m1 0h1m0 0h1m0 0h1m0 0h1m0 0h1m-20 1h1m3 0h1m1 0h1m0 0h1m3 0h1m0 0h1m0 0h1m2 0h1m0 0h1m-12 1h1m0 0h1m0 0h1m0 0h1m0 0h1m0 0h1m2 0h1m0 0h1m1 0h1m0 0h1m-18 1h1m0 0h1m0 0h1m1 0h1m0 0h1m0 0h1m0 0h1m0 0h1m0 0h1m0 0h1m0 0h1m1 0h1m1 0h1m1 0h1m3 0h1m-19 1h1m1 0h1m1 0h1m1 0h1m0 0h1m1 0h1m0 0h1m0 0h1m0 0h1m-17 1h1m0 0h1m1 0h1m3 0h1m1 0h1m0 0h1m0 0h1m0 0h1m-6 1h1m0 0h1m0 0h1m0 0h1m0 0h1m0 0h1m1 0h1m0 0h1m0 0h1m-15 1h1m2 0h1m1 0h1m1 0h1m0 0h1m0 0h1m1 0h1m1 0h1m4 0h1m-22 1h1m2 0h1m4 0h1m0 0h1m0 0h1m0 0h1m0 0h1m0 0h1m0 0h1m0 0h1m1 0h1m1 0h1m-18 1h1m0 0h1m0 0h1m2 0h1m0 0h1m1 0h1m1 0h1m6 0h1m-14 1h1m2 0h1m0 0h1m0 0h1m0 0h1m0 0h1m0 0h1m0 0h1m1 0h1m2 0h1m-17 1h1m3 0h1m3 0h1m6 0h1m-14 1h1m3 0h1m0 0h1m4 0h1m3 0h1m-11 1h1m6 0h1m0 0h1m-13 1h1m1 0h1m1 0h1m1 0h1m5 0h1m-13 1h1m0 0h1m2 0h1m0 0h1m2 0h1m1 0h1m0 0h1m0 0h1m0 0h1m-19 1h1m10 0h1m1 0h1m1 0h1m1 0h1m-3 1h1m0 0h1m-4 1h1m3 2h1m-7 1h1m0 0h1" stroke="#6c76c2" stroke-width="1.0"/>
<path transform="translate(0 0.5)" d="M198 692h1m-3 1h1m5 2h1m-7 1h1m4 1h1m1 0h1m1 0h1m-14 1h1m1 0h1m8 0h1m-8 1h1m0 0h1m0 0h1m2 0h1m3 0h1m0 0h1m0 0h1m-5 1h1m-9 1h1m4 0h1m0 0h1m0 0h1m0 0h1m0 0h1m-11 1h1m0 0h1m2 0h1m1 0h1m0 0h1m0 0h1m0 0h1m-8 1h1m1 0h1m0 0h1m0 0h1m0 0h1m0 0h1m1 0h1m3 0h1m-13 1h1m0 0h1m0 0h1m0 0h1m0 0h1m0 0h1m1 0h1m0 0h1m0 0h1m2 0h1m-12 1h1m0 0h1m0 0h1m0 0h1m0 0h1m1 0h1m1 0h1m-10 1h1m1 0h1m1 0h1m0 0h1m1 0h1m0 0h1m1 0h1m-11 1h1m0 0h1m0 0h1m0 0h1m1 0h1m1 0h1m-8 1h1m1 0h1m1 0h1m0 0h1m0 0h1m-8 1h1m1 0h1m0 0h1m0 0h1m0 0h1m0 0h1m0 0h1m0 0h1m1 0h1m-11 1h1m4 0h1m1 0h1m1 0h1m-9 1h1m2 0h1m0 0h1m1 0h1m0 0h1m0 0h1m-11 1h1m2 0h1m1 0h1m0 0h1m1 0h1m1 0h1m-8 1h1m0 0h1m1 0h1m0 0h1m0 0h1m-9 1h1m0 0h1m0 0h1m3 0h1m0 0h1m-10 1h1m2 0h1m0 0h1m4 0h1m1 0h1m2 0h1m-10 1h1m0 0h1m4 1h1m-3 1h1m-4 2h1m3 0h1m-5 1h1" stroke="#4452b4" stroke-width="1.0"/>
<path transform="translate(0 0.5)" d="M201 707h1m-1 14h1m5 1h1m-1 1h1m-13 1h1m6 0h1m-13 1h1m5 0h1m2 0h1m-3 1h1m5 0h1m3 0h1m-13 2h1m2 0h1m-3 1h1m0 0h1m0 0h1m2 1h1m0 0h1m-7 1h1m4 0h1m0 0h1m0 0h1m4 0h1m-16 1h1m6 0h1m0 0h1m4 0h1m-11 1h1m0 0h1m3 0h1m3 0h1m-10 1h1m2 0h1m0 0h1m-8 1h1m1 0h1m6 0h1m-10 1h1m2 0h1m0 0h1m1 0h1m3 0h1m-3 1h1m0 0h1m-1 1h1m3 0h1m-9 1h1m4 0h1m-9 1h1m6 0h1m-4 1h1m-8 1h1m2 1h1m0 1h1m4 0h1m6 0h1m-12 1h1m0 0h1m-2 1h1m2 0h1m5 0h1m-8 1h1m8 2h1" stroke="#6c76c0" stroke-width="1.0"/>
<path transform="translate(0 0.5)" d="M215 746h1m-6 1h1m5 0h1m0 0h1m0 0h1m-5 1h1m1 0h1m-3 1h1m3 0h1m-5 1h1m2 0h1m0 0h1m0 0h1m-10 1h1m4 0h1m1 0h1m0 0h1m-10 1h1m3 0h1m0 0h1m3 0h1m0 0h1m-11 1h1m4 0h1m0 0h1m0 0h1m0 0h1m0 0h1m5 0h1m-11 1h1m0 0h1m0 0h1m0 0h1m1 0h1m0 0h1m0 0h1m0 0h1m-17 1h1m4 0h1m2 0h1m0 0h1m0 0h1m1 0h1m0 0h1m2 0h1m0 0h1m-17 1h1m2 0h1m2 0h1m0 0h1m0 0h1m1 0h1m0 0h1m0 0h1m0 0h1m-9 1h1m0 0h1m0 0h1m1 0h1m0 0h1m0 0h1m0 0h1m0 0h1m-13 1h1m2 0h1m2 0h1m0 0h1m1 0h1m0 0h1m1 0h1m0 0h1m-13 1h1m3 0h1m0 0h1m0 0h1m3 0h1m2 0h1m-21 1h1m10 0h1m0 0h1m2 0h1m2 0h1m-8 1h1m0 0h1m0 0h1m1 0h1m-2 1h1m1 0h1m5 1h1m-14 4h1" stroke="#2f45b8" stroke-width="1.0"/>
<path transform="translate(0 0.5)" d="M187 739h1m14 1h1m-8 3h1m2 0h1m0 0h1m1 0h1m0 0h1m5 0h1m3 0h1m-21 1h1m2 0h1m2 0h1m3 0h1m1 0h1m1 0h1m-11 1h1m4 0h1m-7 1h1m1 0h1m0 0h1m3 0h1m1 0h1m1 0h1m0 0h1m1 0h1m-18 1h1m2 0h1m2 0h1m0 0h1m2 0h1m2 0h1m1 0h1m-24 1h1m6 0h1m1 0h1m1 0h1m9 0h1m0 0h1m0 0h1m-21 1h1m3 0h1m1 0h1m12 0h1m0 0h1m-24 1h1m2 0h1m3 0h1m15 0h1m0 0h1m0 0h1m-20 1h1m0 0h1m0 0h1m16 0h1m-19 1h1m17 0h1m0 0h1m2 0h1m-24 1h1m0 0h1m17 0h1m0 0h1m1 0h1m-23 1h1m0 0h1m17 0h1m4 0h1m-30 1h1m3 0h1m0 0h1m19 0h1m0 0h1m5 0h1m-29 1h1m0 0h1m20 0h1m-22 1h1m18 0h1m2 0h1m-26 1h1m1 0h1m0 0h1m19 0h1m-23 1h1m1 0h1m19 0h1m6 0h1m-32 1h1m0 0h1m21 0h1m0 0h1m-27 1h1m5 0h1m1 0h1m15 0h1m1 0h1m0 0h1m-22 1h1m0 0h1m0 0h1m0 0h1m14 0h1m1 0h1m3 0h1m-22 1h1m12 0h1m4 0h1m0 0h1m-24 1h1m0 0h1m2 0h1m10 0h1m1 0h1m0 0h1m3 0h1m-26 1h1m4 0h1m1 0h1m0 0h1m0 0h1m2 0h1m0 0h1m0 0h1m0 0h1m0 0h1m0 0h1m0 0h1m0 0h1m2 0h1m-15 1h1m6 0h1m1 0h1m0 0h1m2 0h1m-15 1h1m0 0h1m0 0h1m1 0h1m4 0h1m3 0h1m3 0h1m-22 1h1m5 1h1m0 0h1m2 0h1m4 0h1m1 0h1m0 1h1m-13 1h1m5 0h1m2 0h1" stroke="#2838b0" stroke-width="1.0"/>
<path transform="translate(0 0.5)" d="M198 747h1m-4 1h1m1 0h1m0 0h1m0 0h1m0 0h1m0 0h1m0 0h1m1 0h1m-11 1h1m1 0h1m1 0h1m0 0h1m0 0h1m0 0h1m0 0h1m1 0h1m0 0h1m-12 1h1m1 0h1m0 0h1m1 0h1m0 0h1m0 0h1m1 0h1m0 0h1m0 0h1m-14 1h1m0 0h1m0 0h1m0 0h1m0 0h1m0 0h1m0 0h1m1 0h1m1 0h1m0 0h1m0 0h1m0 0h1m-13 1h1m1 0h1m7 0h1m1 0h1m0 0h1m-16 1h1m0 0h1m1 0h1m0 0h1m9 0h1m1 0h1m0 0h1m-16 1h1m0 0h1m10 0h1m0 0h1m0 0h1m0 0h1m-17 1h1m0 0h1m12 0h1m0 0h1m-16 1h1m0 0h1m0 0h1m10 0h1m0 0h1m0 0h1m0 0h1m-18 1h1m1 0h1m0 0h1m10 0h1m0 0h1m0 0h1m0 0h1m-18 1h1m1 0h1m0 0h1m11 0h1m0 0h1m-17 1h1m0 0h1m1 0h1m0 0h1m8 0h1m0 0h1m0 0h1m0 0h1m0 0h1m-15 1h1m8 0h1m0 0h1m0 0h1m0 0h1m0 0h1m-15 1h1m0 0h1m0 0h1m0 0h1m0 0h1m3 0h1m0 0h1m0 0h1m0 0h1m-12 1h1m0 0h1m1 0h1m0 0h1m0 0h1m0 0h1m1 0h1m0 0h1m0 0h1m0 0h1m0 0h1m0 0h1m-13 1h1m0 0h1m0 0h1m2 0h1m0 0h1m1 0h1m0 0h1m0 0h1m-9 1h1m0 0h1m0 0h1m0 0h1m3 0h1" stroke="#3658c4" stroke-width="1.0"/>
<g transform="translate(199.6,756)" filter="url(#bl)">
<ellipse rx="7.6" ry="7.6" fill="#2f55c8"/>
<ellipse rx="6.5" ry="6.5" fill="#2a8fdc"/>
<ellipse rx="5.4" ry="5.4" fill="#25bfd0"/>
<ellipse rx="4.4" ry="4.4" fill="#38c070"/>
<ellipse rx="3.3" ry="3.3" fill="#a8d828"/>
<ellipse rx="2.4" ry="2.4" fill="#f0e020"/>
<ellipse rx="1.6" ry="1.6" fill="#f39a1e"/>
</g>
<path transform="translate(0 0.5)" d="M233 734h1m-5 2h1m2 0h1m12 0h1m-2 1h1m5 0h1m-36 1h1m19 1h1m13 0h1m-29 1h1m16 0h1m3 0h1m10 0h1m-33 1h1m11 0h1m1 0h1m1 0h1m4 0h1m1 0h1m0 0h1m0 0h1m14 0h1m-46 1h1m4 0h1m4 0h1m3 0h1m2 0h1m6 0h1m6 0h1m-40 1h1m10 0h1m5 0h1m0 0h1m1 0h1m0 0h1m3 0h1m0 0h1m7 0h1m2 0h1m2 0h1m0 0h1m2 0h1m2 0h1m5 0h1m-38 1h1m0 0h1m2 0h1m2 0h1m2 0h1m7 0h1m6 0h1m4 0h1m-35 1h1m1 0h1m1 0h1m0 0h1m1 0h1m0 0h1m21 0h1m-32 1h1m0 0h1m30 0h1m1 0h1m1 0h1m5 0h1m-44 1h1m1 0h1m4 0h1m27 0h1m2 0h1m2 0h1m-50 1h1m6 0h1m38 0h1m2 0h1m1 0h1m-50 1h1m3 0h1m50 0h1m-10 1h1m7 0h1m0 0h1m-50 1h1m37 0h1m3 0h1m1 0h1m-57 1h1m2 0h1m5 0h1m0 0h1m0 0h1m1 0h1m0 0h1m37 0h1m0 0h1m1 0h1m-49 1h1m3 0h1m2 0h1m36 0h1m2 0h1m0 0h1m5 0h1m-61 1h1m5 0h1m4 0h1m37 0h1m0 0h1m3 0h1m3 0h1m-59 1h1m4 0h1m2 0h1m2 0h1m47 0h1m-56 1h1m4 0h1m1 0h1m-1 1h1m1 0h1m36 0h1m7 0h1m-54 1h1m0 0h1m4 0h1m2 0h1m38 0h1m0 0h1m-43 1h1m36 0h1m0 0h1m1 0h1m1 0h1m-48 1h1m2 0h1m0 0h1m0 0h1m34 0h1m2 0h1m0 0h1m1 0h1m4 0h1m-53 1h1m4 0h1m0 0h1m0 0h1m0 0h1m0 0h1m33 0h1m0 0h1m2 0h1m-47 1h1m35 0h1m1 0h1m1 0h1m2 0h1m0 0h1m-34 1h1m3 0h1m19 0h1m0 0h1m3 0h1m3 0h1m-38 1h1m7 0h1m15 0h1m0 0h1m0 0h1m1 0h1m4 0h1m-41 1h1m1 0h1m10 0h1m0 0h1m2 0h1m0 0h1m3 0h1m2 0h1m1 0h1m0 0h1m0 0h1m2 0h1m0 0h1m3 0h1m-36 1h1m1 0h1m15 0h1m1 0h1m0 0h1m0 0h1m1 0h1m0 0h1m11 0h1m3 0h1m-34 1h1m2 0h1m6 0h1m2 0h1m1 0h1m0 0h1m2 0h1m0 0h1m0 0h1m2 0h1m8 0h1m-19 1h1m1 0h1m4 0h1m1 0h1m-31 1h1m6 0h1m1 0h1m3 0h1m8 0h1m5 0h1m-1 1h1m-24 1h1m9 0h1m8 0h1m4 0h1m-13 1h1m13 0h1" stroke="#2838b0" stroke-width="1.0"/>
<path transform="translate(0 0.5)" d="M233 744h1m1 0h1m0 0h1m2 0h1m1 0h1m0 0h1m1 0h1m-15 1h1m0 0h1m0 0h1m0 0h1m0 0h1m0 0h1m0 0h1m2 0h1m2 0h1m0 0h1m1 0h1m0 0h1m0 0h1m-21 1h1m0 0h1m0 0h1m0 0h1m2 0h1m1 0h1m0 0h1m0 0h1m0 0h1m0 0h1m3 0h1m1 0h1m0 0h1m0 0h1m-20 1h1m2 0h1m0 0h1m0 0h1m0 0h1m1 0h1m0 0h1m0 0h1m0 0h1m0 0h1m0 0h1m1 0h1m0 0h1m1 0h1m1 0h1m1 0h1m1 0h1m-29 1h1m0 0h1m3 0h1m1 0h1m0 0h1m1 0h1m0 0h1m5 0h1m1 0h1m0 0h1m1 0h1m0 0h1m0 0h1m0 0h1m0 0h1m0 0h1m0 0h1m-31 1h1m6 0h1m0 0h1m0 0h1m12 0h1m0 0h1m0 0h1m0 0h1m1 0h1m0 0h1m0 0h1m0 0h1m0 0h1m-30 1h1m0 0h1m0 0h1m0 0h1m0 0h1m0 0h1m19 0h1m0 0h1m0 0h1m-28 1h1m0 0h1m0 0h1m0 0h1m19 0h1m0 0h1m0 0h1m2 0h1m0 0h1m0 0h1m-34 1h1m1 0h1m0 0h1m0 0h1m1 0h1m21 0h1m0 0h1m1 0h1m0 0h1m1 0h1m0 0h1m-33 1h1m0 0h1m0 0h1m0 0h1m21 0h1m0 0h1m0 0h1m2 0h1m0 0h1m-35 1h1m0 0h1m0 0h1m0 0h1m0 0h1m0 0h1m23 0h1m0 0h1m0 0h1m-32 1h1m1 0h1m0 0h1m0 0h1m0 0h1m0 0h1m22 0h1m0 0h1m0 0h1m1 0h1m0 0h1m-34 1h1m0 0h1m2 0h1m0 0h1m22 0h1m0 0h1m0 0h1m0 0h1m2 0h1m-36 1h1m0 0h1m0 0h1m1 0h1m0 0h1m0 0h1m0 0h1m19 0h1m0 0h1m4 0h1m-33 1h1m2 0h1m2 0h1m17 0h1m0 0h1m0 0h1m1 0h1m0 0h1m0 0h1m-30 1h1m1 0h1m0 0h1m1 0h1m0 0h1m0 0h1m14 0h1m0 0h1m0 0h1m0 0h1m0 0h1m2 0h1m0 0h1m0 0h1m-32 1h1m1 0h1m1 0h1m0 0h1m1 0h1m0 0h1m0 0h1m1 0h1m4 0h1m2 0h1m0 0h1m0 0h1m0 0h1m1 0h1m0 0h1m0 0h1m0 0h1m0 0h1m-26 1h1m1 0h1m0 0h1m1 0h1m0 0h1m0 0h1m1 0h1m0 0h1m0 0h1m0 0h1m0 0h1m0 0h1m0 0h1m0 0h1m3 0h1m0 0h1m0 0h1m0 0h1m0 0h1m-23 1h1m0 0h1m0 0h1m0 0h1m0 0h1m1 0h1m1 0h1m1 0h1m2 0h1m1 0h1m0 0h1m0 0h1m1 0h1m0 0h1m-19 1h1m0 0h1m0 0h1m0 0h1m3 0h1m2 0h1m0 0h1m0 0h1m0 0h1m-13 1h1m3 0h1m1 0h1m0 0h1m1 0h1m2 0h1m1 0h1" stroke="#3658c4" stroke-width="1.0"/>
<g transform="translate(238,754)" filter="url(#bl)">
<ellipse rx="15.2" ry="8.8" fill="#2f55c8"/>
<ellipse rx="12.9" ry="7.5" fill="#2a8fdc"/>
<ellipse rx="10.8" ry="6.3" fill="#25bfd0"/>
<ellipse rx="8.7" ry="5.1" fill="#38c070"/>
<ellipse rx="6.6" ry="3.8" fill="#a8d828"/>
<ellipse rx="4.8" ry="2.8" fill="#f0e020"/>
</g>
<path d="M181.5 684.5H212.8V774.4M181.5 732.6H269.7V774.4" fill="none" stroke="#222" stroke-width="0.8"/>
<rect x="181.5" y="655.3" width="118.9" height="119.1" fill="none" stroke="#3a3a3a" stroke-width="0.8"/>
<path d="M181.5 670.6h-2.2M181.5 706.5h-2.2M181.5 743.6h-2.2M181.5 756.7h-2.2M181.5 771.3h-2.2M198.4 774.4v2.2M251.8 774.4v2.2M286.8 774.4v2.2M181.5 732.4h-1.1M181.5 725.8h-1.1M181.5 721.2h-1.1M181.5 717.6h-1.1M181.5 714.7h-1.1M181.5 712.2h-1.1M181.5 710.1h-1.1M181.5 708.2h-1.1M181.5 695.8h-1.1M181.5 689.4h-1.1M181.5 684.9h-1.1M181.5 681.4h-1.1M181.5 678.6h-1.1M181.5 676.2h-1.1M181.5 674.1h-1.1M181.5 672.2h-1.1M262.3 774.4v1.1M268.5 774.4v1.1M272.9 774.4v1.1M276.3 774.4v1.1M279 774.4v1.1M281.4 774.4v1.1M283.4 774.4v1.1M285.2 774.4v1.1M198.4 774.4v1.1M214.5 774.4v1.1M223.9 774.4v1.1M230.5 774.4v1.1M235.7 774.4v1.1M239.9 774.4v1.1M243.5 774.4v1.1M246.6 774.4v1.1M249.3 774.4v1.1" stroke="#333" stroke-width="0.5"/>
<rect x="196.1" y="774.7" width="3.6" height="1.6" fill="#111"/>
<rect x="179.7" y="755.7" width="1.6" height="2.6" fill="#111"/>
<text x="176.9" y="672.4" font-size="5.4" font-family="Liberation Serif, serif" stroke="#222" stroke-width="0.12" text-anchor="end">10<tspan dy="-2.4" font-size="3.6">4</tspan></text>
<text x="176.9" y="708.3" font-size="5.4" font-family="Liberation Serif, serif" stroke="#222" stroke-width="0.12" text-anchor="end">10<tspan dy="-2.4" font-size="3.6">3</tspan></text>
<text x="176.9" y="745.4" font-size="5.4" font-family="Liberation Serif, serif" stroke="#222" stroke-width="0.12" text-anchor="end">10<tspan dy="-2.4" font-size="3.6">2</tspan></text>
<text x="176.9" y="758.5" font-size="5.4" font-family="Liberation Serif, serif" stroke="#222" stroke-width="0.12" text-anchor="end">0</text>
<text x="176.9" y="773.1" font-size="5.4" font-family="Liberation Serif, serif" stroke="#222" stroke-width="0.12" text-anchor="end">-10<tspan dy="-2.4" font-size="3.6">2</tspan></text>
<text x="198.4" y="789.4" font-size="5.4" font-family="Liberation Serif, serif" stroke="#222" stroke-width="0.12" text-anchor="middle">0</text>
<text x="251.8" y="789.4" font-size="5.4" font-family="Liberation Serif, serif" stroke="#222" stroke-width="0.12" text-anchor="middle">10<tspan dy="-2.4" font-size="3.6">3</tspan></text>
<text x="286.8" y="789.4" font-size="5.4" font-family="Liberation Serif, serif" stroke="#222" stroke-width="0.12" text-anchor="middle">10<tspan dy="-2.4" font-size="3.6">4</tspan></text>
<path transform="translate(0 0.5)" d="M354 684h1m1 1h1m0 1h1m-4 1h1m-2 1h1m-7 2h1m1 0h1m11 0h1m1 0h1m-17 1h1m5 0h1m2 0h1m6 0h1m-24 1h1m14 0h1m3 0h1m-13 1h1m0 0h1m3 0h1m0 0h1m1 0h1m5 0h1m1 0h1m-13 1h1m8 0h1m-21 1h1m9 0h1m0 0h1m0 0h1m1 0h1m0 0h1m0 0h1m0 0h1m2 0h1m0 0h1m1 0h1m-19 1h1m4 0h1m0 0h1m1 0h1m1 0h1m0 0h1m5 0h1m1 0h1m-24 1h1m7 0h1m2 0h1m1 0h1m0 0h1m0 0h1m2 0h1m-12 1h1m1 0h1m0 0h1m0 0h1m0 0h1m1 0h1m0 0h1m3 0h1m0 0h1m5 0h1m-18 1h1m2 0h1m4 0h1m3 0h1m2 0h1m-23 1h1m0 0h1m5 0h1m1 0h1m1 0h1m0 0h1m1 0h1m0 0h1m-14 1h1m1 0h1m3 0h1m1 0h1m1 0h1m1 0h1m0 0h1m0 0h1m1 0h1m2 0h1m2 0h1m-21 1h1m0 0h1m0 0h1m0 0h1m0 0h1m3 0h1m1 0h1m2 0h1m-16 1h1m0 0h1m0 0h1m2 0h1m0 0h1m1 0h1m0 0h1m0 0h1m0 0h1m0 0h1m0 0h1m1 0h1m2 0h1m-19 1h1m1 0h1m0 0h1m1 0h1m0 0h1m1 0h1m0 0h1m0 0h1m0 0h1m0 0h1m0 0h1m0 0h1m0 0h1m1 0h1m2 0h1m1 0h1m-22 1h1m1 0h1m2 0h1m1 0h1m1 0h1m1 0h1m0 0h1m1 0h1m5 0h1m-21 1h1m0 0h1m0 0h1m0 0h1m1 0h1m0 0h1m0 0h1m0 0h1m1 0h1m0 0h1m0 0h1m0 0h1m0 0h1m1 0h1m1 0h1m-21 1h1m2 0h1m0 0h1m1 0h1m0 0h1m0 0h1m0 0h1m0 0h1m0 0h1m0 0h1m0 0h1m0 0h1m0 0h1m2 0h1m0 0h1m-18 1h1m0 0h1m0 0h1m0 0h1m0 0h1m0 0h1m0 0h1m0 0h1m1 0h1m1 0h1m0 0h1m1 0h1m0 0h1m1 0h1m1 0h1m2 0h1m-23 1h1m0 0h1m0 0h1m0 0h1m0 0h1m0 0h1m0 0h1m0 0h1m0 0h1m4 0h1m0 0h1m0 0h1m1 0h1m-17 1h1m0 0h1m0 0h1m0 0h1m1 0h1m2 0h1m1 0h1m0 0h1m0 0h1m2 0h1m1 0h1m-19 1h1m4 0h1m0 0h1m1 0h1m0 0h1m1 0h1m0 0h1m0 0h1m1 0h1m0 0h1m1 0h1m0 0h1m-23 1h1m1 0h1m4 0h1m0 0h1m0 0h1m0 0h1m0 0h1m1 0h1m0 0h1m2 0h1m1 0h1m2 0h1m-10 1h1m0 0h1m1 0h1m5 0h1m-23 1h1m0 0h1m1 0h1m1 0h1m2 0h1m0 0h1m1 0h1m0 0h1m0 0h1m0 0h1m0 0h1m0 0h1m0 0h1m0 0h1m0 0h1m0 0h1m1 0h1m-20 1h1m2 0h1m0 0h1m2 0h1m1 0h1m2 0h1m0 0h1m3 0h1m2 0h1m-26 1h1m7 0h1m3 0h1m2 0h1m1 0h1m1 0h1m2 0h1m0 0h1m-17 1h1m0 0h1m1 0h1m2 0h1m0 0h1m0 0h1m2 0h1m0 0h1m-17 1h1m2 0h1m2 0h1m1 0h1m1 0h1m1 0h1m0 0h1m2 0h1m0 0h1m2 0h1m2 0h1m-28 1h1m1 0h1m6 0h1m4 0h1m2 0h1m0 0h1m0 0h1m0 0h1m0 0h1m-14 1h1m6 0h1m3 0h1m0 0h1m5 0h1m-19 1h1m3 0h1m1 0h1m1 0h1m0 0h1m0 0h1m0 0h1m1 0h1m-16 1h1m11 0h1m1 0h1m-11 1h1m1 0h1m2 0h1m0 0h1m3 0h1m5 0h1m-13 1h1m-10 2h1m2 0h1m9 0h1m-8 1h1m1 0h1m2 0h1m-6 1h1m0 2h1m6 0h1m2 5h1" stroke="#6c76c2" stroke-width="1.0"/>
<path transform="translate(0 0.5)" d="M355 691h1m-1 1h1m5 1h1m-12 1h1m3 1h1m2 1h1m1 0h1m-2 1h1m0 0h1m0 0h1m-11 1h1m10 0h1m-14 1h1m8 0h1m0 0h1m0 0h1m-6 1h1m1 0h1m0 0h1m-6 1h1m2 0h1m0 0h1m0 0h1m-10 1h1m0 0h1m1 0h1m0 0h1m0 0h1m0 0h1m0 0h1m2 0h1m0 0h1m0 0h1m0 0h1m5 0h1m-22 1h1m6 0h1m0 0h1m0 0h1m0 0h1m2 0h1m0 0h1m-13 1h1m0 0h1m0 0h1m1 0h1m0 0h1m0 0h1m1 0h1m0 0h1m0 0h1m3 0h1m0 0h1m-16 1h1m0 0h1m3 0h1m2 0h1m0 0h1m0 0h1m3 0h1m0 0h1m-12 1h1m1 0h1m0 0h1m0 0h1m0 0h1m0 0h1m1 0h1m3 0h1m-15 1h1m2 0h1m0 0h1m1 0h1m0 0h1m-7 1h1m0 0h1m1 0h1m1 0h1m2 0h1m1 0h1m0 0h1m1 0h1m-15 1h1m1 0h1m0 0h1m0 0h1m0 0h1m1 0h1m0 0h1m0 0h1m2 0h1m-18 1h1m3 0h1m1 0h1m1 0h1m0 0h1m0 0h1m0 0h1m0 0h1m0 0h1m0 0h1m-8 1h1m0 0h1m0 0h1m0 0h1m1 0h1m0 0h1m0 0h1m0 0h1m0 0h1m0 0h1m-14 1h1m0 0h1m6 0h1m0 0h1m2 0h1m-14 1h1m3 0h1m1 0h1m0 0h1m0 0h1m7 0h1m-15 1h1m0 0h1m1 0h1m0 0h1m2 0h1m-10 1h1m0 0h1m2 0h1m0 0h1m1 0h1m3 0h1m0 0h1m-5 1h1m0 0h1m-9 1h1m1 0h1m2 0h1m0 0h1m1 0h1m2 0h1m-3 1h1m-8 1h1m2 0h1m0 0h1m1 0h1m1 0h1m-5 1h1m1 0h1m-7 2h1m0 2h1" stroke="#4452b4" stroke-width="1.0"/>
<path transform="translate(0 0.5)" d="M359 713h1m-2 6h1m-6 2h1m3 0h1m-5 4h1m0 0h1m-3 1h1m2 0h1m-6 1h1m1 0h1m2 0h1m-7 1h1m0 1h1m3 0h1m0 0h1m0 0h1m-2 1h1m3 0h1m1 0h1m-4 1h1m-4 1h1m3 0h1m-7 1h1m0 0h1m3 0h1m-6 1h1m7 0h1m-9 1h1m2 0h1m3 0h1m-7 1h1m1 0h1m2 0h1m-9 1h1m5 0h1m-5 1h1m0 0h1m2 0h1m-7 1h1m3 0h1m-2 1h1m1 0h1m0 0h1m1 0h1m-7 1h1m1 0h1m2 0h1m-10 1h1m5 0h1m0 0h1m0 0h1m4 0h1m-11 1h1m1 0h1m5 0h1m-8 1h1m5 0h1m0 1h1m-4 3h1m-1 1h1" stroke="#6c76c0" stroke-width="1.0"/>
<path transform="translate(0 0.5)" d="M363 744h1m5 2h1m-3 1h1m2 0h1m-4 1h1m0 1h1m-9 1h1m1 0h1m0 0h1m2 0h1m0 0h1m0 0h1m1 0h1m0 0h1m2 0h1m-14 1h1m1 0h1m2 0h1m2 0h1m2 0h1m0 0h1m1 0h1m-9 1h1m1 0h1m0 0h1m-10 1h1m2 0h1m4 0h1m0 0h1m0 0h1m1 0h1m-15 1h1m3 0h1m2 0h1m0 0h1m0 0h1m0 0h1m0 0h1m1 0h1m1 0h1m-15 1h1m0 0h1m4 0h1m2 0h1m2 0h1m1 0h1m7 0h1m-21 1h1m0 0h1m1 0h1m2 0h1m0 0h1m1 0h1m4 0h1m-14 1h1m2 0h1m0 0h1m0 0h1m2 0h1m0 0h1m0 0h1m2 0h1m-16 1h1m0 0h1m3 0h1m0 0h1m1 0h1m0 0h1m7 0h1m-21 1h1m6 0h1m2 0h1m2 0h1m4 0h1m-13 1h1m0 0h1m0 0h1m0 0h1m1 0h1m0 0h1m0 0h1m4 0h1m-11 1h1m0 0h1m2 0h1m-7 1h1m3 0h1m2 0h1m1 0h1m-7 1h1m1 0h1m4 0h1m1 0h1" stroke="#2f45b8" stroke-width="1.0"/>
<path transform="translate(0 0.5)" d="M360 739h1m-6 1h1m-6 1h1m9 0h1m2 0h1m-13 2h1m1 0h1m0 0h1m0 0h1m-12 1h1m0 0h1m1 0h1m12 0h1m-20 1h1m9 0h1m0 0h1m0 0h1m1 0h1m2 0h1m-11 1h1m1 0h1m3 0h1m2 0h1m0 0h1m1 0h1m0 0h1m1 0h1m1 0h1m-21 1h1m1 0h1m1 0h1m1 0h1m8 0h1m6 0h1m-25 1h1m18 0h1m0 0h1m1 0h1m2 0h1m-31 1h1m0 0h1m6 0h1m-6 1h1m5 0h1m14 0h1m0 0h1m0 0h1m-21 1h1m0 0h1m18 0h1m1 0h1m-22 1h1m18 0h1m-20 1h1m0 0h1m17 0h1m2 0h1m0 0h1m-27 1h1m0 0h1m1 0h1m18 0h1m0 0h1m3 0h1m-27 1h1m0 0h1m1 0h1m19 0h1m-22 1h1m0 0h1m18 0h1m3 0h1m-27 1h1m2 0h1m17 0h1m0 0h1m-25 1h1m0 0h1m2 0h1m-8 1h1m6 0h1m18 0h1m1 0h1m-21 1h1m18 0h1m0 0h1m1 0h1m-24 1h1m17 0h1m-19 1h1m1 0h1m0 0h1m14 0h1m0 0h1m2 0h1m-27 1h1m4 0h1m1 0h1m13 0h1m0 0h1m-24 1h1m5 0h1m1 0h1m1 0h1m10 0h1m0 0h1m2 0h1m-24 1h1m8 0h1m5 0h1m0 0h1m0 0h1m0 0h1m1 0h1m2 0h1m2 0h1m-21 1h1m3 0h1m0 0h1m0 0h1m1 0h1m0 0h1m3 0h1m0 0h1m-18 1h1m2 0h1m0 0h1m2 0h1m1 0h1m0 0h1m1 0h1m0 0h1m4 0h1m-18 1h1m4 0h1m2 0h1m0 0h1m0 0h1m0 0h1m1 0h1m-11 1h1m4 0h1m0 0h1m2 0h1m1 0h1m1 0h1m-13 1h1m1 0h1m2 0h1" stroke="#2838b0" stroke-width="1.0"/>
<path transform="translate(0 0.5)" d="M354 746h1m-3 1h1m3 0h1m0 0h1m-8 1h1m0 0h1m0 0h1m2 0h1m0 0h1m1 0h1m-9 1h1m0 0h1m1 0h1m1 0h1m0 0h1m0 0h1m0 0h1m0 0h1m0 0h1m-13 1h1m2 0h1m0 0h1m3 0h1m2 0h1m0 0h1m0 0h1m-13 1h1m0 0h1m0 0h1m0 0h1m5 0h1m0 0h1m0 0h1m0 0h1m0 0h1m-16 1h1m0 0h1m0 0h1m9 0h1m0 0h1m0 0h1m-13 1h1m0 0h1m8 0h1m0 0h1m0 0h1m0 0h1m0 0h1m-18 1h1m0 0h1m0 0h1m0 0h1m10 0h1m0 0h1m0 0h1m0 0h1m-18 1h1m0 0h1m0 0h1m0 0h1m10 0h1m0 0h1m0 0h1m0 0h1m-18 1h1m1 0h1m12 0h1m0 0h1m0 0h1m-15 1h1m10 0h1m0 0h1m0 0h1m0 0h1m-17 1h1m0 0h1m0 0h1m10 0h1m0 0h1m0 0h1m-17 1h1m0 0h1m0 0h1m0 0h1m10 0h1m0 0h1m0 0h1m0 0h1m-17 1h1m0 0h1m0 0h1m9 0h1m1 0h1m0 0h1m-16 1h1m0 0h1m2 0h1m0 0h1m5 0h1m0 0h1m0 0h1m-13 1h1m1 0h1m1 0h1m0 0h1m0 0h1m0 0h1m0 0h1m0 0h1m0 0h1m0 0h1m0 0h1m0 0h1m-13 1h1m0 0h1m0 0h1m0 0h1m0 0h1m0 0h1m0 0h1m0 0h1m2 0h1m0 0h1m-9 1h1m1 0h1m0 0h1m2 0h1m0 0h1m-8 1h1m1 0h1m0 0h1m0 0h1" stroke="#3658c4" stroke-width="1.0"/>
<g transform="translate(354.7,756)" filter="url(#bl)">
<ellipse rx="7.6" ry="8.1" fill="#2f55c8"/>
<ellipse rx="6.5" ry="6.9" fill="#2a8fdc"/>
<ellipse rx="5.4" ry="5.8" fill="#25bfd0"/>
<ellipse rx="4.4" ry="4.6" fill="#38c070"/>
</g>
<path transform="translate(0 0.5)" d="M395 734h1m-10 4h1m16 0h1m-20 1h1m2 0h1m9 0h1m-17 1h1m15 0h1m3 0h1m-33 1h1m12 0h1m8 0h1m-10 1h1m3 0h1m3 0h1m1 0h1m3 0h1m0 0h1m4 0h1m-34 1h1m5 0h1m0 0h1m4 0h1m8 0h1m1 0h1m1 0h1m6 0h1m-33 1h1m11 0h1m2 0h1m4 0h1m1 0h1m2 0h1m1 0h1m0 0h1m-33 1h1m2 0h1m2 0h1m4 0h1m2 0h1m3 0h1m6 0h1m1 0h1m0 0h1m1 0h1m0 0h1m0 0h1m1 0h1m0 0h1m0 0h1m1 0h1m3 0h1m-39 1h1m1 0h1m7 0h1m17 0h1m0 0h1m0 0h1m2 0h1m1 0h1m8 0h1m-58 1h1m13 0h1m0 0h1m0 0h1m0 0h1m3 0h1m1 0h1m20 0h1m0 0h1m0 0h1m7 0h1m-46 1h1m7 0h1m26 0h1m0 0h1m10 0h1m-45 1h1m4 0h1m1 0h1m27 0h1m3 0h1m-42 1h1m3 0h1m32 0h1m0 0h1m0 0h1m0 0h1m0 0h1m1 0h1m-38 1h1m32 0h1m4 0h1m8 0h1m-51 1h1m37 0h1m-44 1h1m2 0h1m3 0h1m34 0h1m8 0h1m-48 1h1m37 0h1m0 0h1m2 0h1m3 0h1m-59 1h1m9 0h1m0 0h1m1 0h1m37 0h1m0 0h1m-48 1h1m7 0h1m37 0h1m8 0h1m-53 1h1m3 0h1m37 0h1m0 0h1m8 0h1m1 0h1m-63 1h1m3 0h1m46 0h1m0 0h1m1 0h1m0 0h1m-57 1h1m5 0h1m3 0h1m5 0h1m0 0h1m32 0h1m9 0h1m-50 1h1m2 0h1m0 0h1m2 0h1m32 0h1m5 0h1m-40 1h1m32 0h1m0 0h1m4 0h1m0 0h1m1 0h1m-51 1h1m0 0h1m1 0h1m4 0h1m0 0h1m0 0h1m26 0h1m1 0h1m0 0h1m1 0h1m2 0h1m-43 1h1m5 0h1m24 0h1m0 0h1m0 0h1m15 0h1m-46 1h1m0 0h1m1 0h1m1 0h1m3 0h1m18 0h1m3 0h1m-39 1h1m4 0h1m0 0h1m1 0h1m2 0h1m0 0h1m2 0h1m0 0h1m0 0h1m0 0h1m8 0h1m0 0h1m1 0h1m4 0h1m0 0h1m0 0h1m0 0h1m-49 1h1m26 0h1m1 0h1m6 0h1m1 0h1m2 0h1m0 0h1m1 0h1m4 0h1m3 0h1m-34 1h1m4 0h1m3 0h1m2 0h1m-10 1h1m4 0h1m2 0h1m3 0h1m4 0h1m1 0h1m13 0h1m-39 1h1m6 0h1m3 0h1m1 0h1m0 0h1m0 0h1m5 0h1m6 0h1m3 0h1m0 0h1m3 0h1m-26 1h1m7 0h1m1 0h1m3 0h1m-22 1h1m-10 1h1m21 0h1m-12 1h1m9 0h1" stroke="#2838b0" stroke-width="1.0"/>
<path transform="translate(0 0.5)" d="M388 745h1m0 0h1m-8 1h1m0 0h1m0 0h1m0 0h1m0 0h1m0 0h1m0 0h1m3 0h1m-15 1h1m3 0h1m1 0h1m0 0h1m0 0h1m1 0h1m0 0h1m2 0h1m0 0h1m0 0h1m1 0h1m2 0h1m-24 1h1m1 0h1m1 0h1m1 0h1m1 0h1m1 0h1m1 0h1m0 0h1m0 0h1m0 0h1m0 0h1m0 0h1m1 0h1m1 0h1m0 0h1m-23 1h1m0 0h1m0 0h1m4 0h1m1 0h1m2 0h1m1 0h1m0 0h1m1 0h1m0 0h1m0 0h1m0 0h1m2 0h1m0 0h1m0 0h1m-28 1h1m0 0h1m0 0h1m0 0h1m3 0h1m0 0h1m0 0h1m11 0h1m2 0h1m0 0h1m0 0h1m1 0h1m-29 1h1m0 0h1m0 0h1m0 0h1m0 0h1m0 0h1m0 0h1m15 0h1m0 0h1m1 0h1m1 0h1m0 0h1m0 0h1m0 0h1m-33 1h1m0 0h1m0 0h1m0 0h1m0 0h1m0 0h1m1 0h1m18 0h1m1 0h1m0 0h1m0 0h1m0 0h1m0 0h1m-33 1h1m0 0h1m2 0h1m0 0h1m0 0h1m19 0h1m0 0h1m0 0h1m0 0h1m-30 1h1m0 0h1m0 0h1m0 0h1m0 0h1m0 0h1m0 0h1m20 0h1m1 0h1m1 0h1m1 0h1m-35 1h1m1 0h1m0 0h1m1 0h1m0 0h1m21 0h1m0 0h1m0 0h1m1 0h1m1 0h1m-33 1h1m1 0h1m0 0h1m0 0h1m0 0h1m20 0h1m1 0h1m0 0h1m0 0h1m1 0h1m-32 1h1m0 0h1m1 0h1m0 0h1m19 0h1m0 0h1m0 0h1m0 0h1m3 0h1m-34 1h1m0 0h1m0 0h1m2 0h1m0 0h1m19 0h1m0 0h1m0 0h1m0 0h1m0 0h1m0 0h1m-30 1h1m0 0h1m1 0h1m0 0h1m0 0h1m0 0h1m16 0h1m0 0h1m0 0h1m0 0h1m0 0h1m0 0h1m0 0h1m0 0h1m-31 1h1m1 0h1m1 0h1m1 0h1m1 0h1m12 0h1m1 0h1m2 0h1m1 0h1m-22 1h1m0 0h1m0 0h1m0 0h1m0 0h1m4 0h1m0 0h1m1 0h1m0 0h1m1 0h1m0 0h1m0 0h1m0 0h1m0 0h1m2 0h1m-29 1h1m1 0h1m0 0h1m0 0h1m0 0h1m0 0h1m0 0h1m0 0h1m0 0h1m0 0h1m0 0h1m1 0h1m1 0h1m0 0h1m0 0h1m0 0h1m0 0h1m1 0h1m0 0h1m3 0h1m-24 1h1m2 0h1m0 0h1m1 0h1m0 0h1m0 0h1m0 0h1m0 0h1m1 0h1m0 0h1m1 0h1m0 0h1m0 0h1m0 0h1m0 0h1m-17 1h1m1 0h1m1 0h1m1 0h1m0 0h1m0 0h1m0 0h1m0 0h1m0 0h1m0 0h1m1 0h1m-10 1h1" stroke="#3658c4" stroke-width="1.0"/>
<g transform="translate(388.3,755.2)" filter="url(#bl)">
<ellipse rx="14.5" ry="8.6" fill="#2f55c8"/>
<ellipse rx="12.3" ry="7.3" fill="#2a8fdc"/>
<ellipse rx="10.3" ry="6.1" fill="#25bfd0"/>
<ellipse rx="8.3" ry="4.9" fill="#38c070"/>
<ellipse rx="6.3" ry="3.7" fill="#a8d828"/>
<ellipse rx="4.5" ry="2.7" fill="#f0e020"/>
<ellipse rx="3" ry="1.8" fill="#f39a1e"/>
</g>
<path d="M337.4 685H368.6V775M337.4 733.2H426.1V775" fill="none" stroke="#222" stroke-width="0.8"/>
<rect x="337.4" y="655.8" width="118.8" height="119.2" fill="none" stroke="#3a3a3a" stroke-width="0.8"/>
<path d="M337.4 671.1h-2.2M337.4 707h-2.2M337.4 744.1h-2.2M337.4 757.2h-2.2M337.4 771.8h-2.2M354.3 775v2.2M407.7 775v2.2M442.7 775v2.2M337.4 732.9h-1.1M337.4 726.3h-1.1M337.4 721.7h-1.1M337.4 718.1h-1.1M337.4 715.2h-1.1M337.4 712.7h-1.1M337.4 710.6h-1.1M337.4 708.7h-1.1M337.4 696.3h-1.1M337.4 689.9h-1.1M337.4 685.4h-1.1M337.4 681.9h-1.1M337.4 679.1h-1.1M337.4 676.7h-1.1M337.4 674.6h-1.1M337.4 672.7h-1.1M418.2 775v1.1M424.4 775v1.1M428.8 775v1.1M432.2 775v1.1M434.9 775v1.1M437.3 775v1.1M439.3 775v1.1M441.1 775v1.1M354.3 775v1.1M370.4 775v1.1M379.8 775v1.1M386.4 775v1.1M391.6 775v1.1M395.8 775v1.1M399.4 775v1.1M402.5 775v1.1M405.2 775v1.1" stroke="#333" stroke-width="0.5"/>
<rect x="352" y="775.3" width="3.6" height="1.6" fill="#111"/>
<rect x="335.6" y="756.2" width="1.6" height="2.6" fill="#111"/>
<text x="332.8" y="672.9" font-size="5.4" font-family="Liberation Serif, serif" stroke="#222" stroke-width="0.12" text-anchor="end">10<tspan dy="-2.4" font-size="3.6">4</tspan></text>
<text x="332.8" y="708.8" font-size="5.4" font-family="Liberation Serif, serif" stroke="#222" stroke-width="0.12" text-anchor="end">10<tspan dy="-2.4" font-size="3.6">3</tspan></text>
<text x="332.8" y="745.9" font-size="5.4" font-family="Liberation Serif, serif" stroke="#222" stroke-width="0.12" text-anchor="end">10<tspan dy="-2.4" font-size="3.6">2</tspan></text>
<text x="332.8" y="759" font-size="5.4" font-family="Liberation Serif, serif" stroke="#222" stroke-width="0.12" text-anchor="end">0</text>
<text x="332.8" y="773.6" font-size="5.4" font-family="Liberation Serif, serif" stroke="#222" stroke-width="0.12" text-anchor="end">-10<tspan dy="-2.4" font-size="3.6">2</tspan></text>
<text x="354.3" y="790" font-size="5.4" font-family="Liberation Serif, serif" stroke="#222" stroke-width="0.12" text-anchor="middle">0</text>
<text x="407.7" y="790" font-size="5.4" font-family="Liberation Serif, serif" stroke="#222" stroke-width="0.12" text-anchor="middle">10<tspan dy="-2.4" font-size="3.6">3</tspan></text>
<text x="442.7" y="790" font-size="5.4" font-family="Liberation Serif, serif" stroke="#222" stroke-width="0.12" text-anchor="middle">10<tspan dy="-2.4" font-size="3.6">4</tspan></text>
<text x="67" y="803.6" font-family="Liberation Serif, Times New Roman, serif" font-size="5.6" stroke="#222" stroke-width="0.12" text-anchor="middle">CD19+B cells</text>
<text x="233.2" y="803.6" font-family="Liberation Serif, Times New Roman, serif" font-size="5.6" stroke="#222" stroke-width="0.12" text-anchor="middle">CD19+B cells</text>
<text x="390" y="803.6" font-family="Liberation Serif, Times New Roman, serif" font-size="5.6" stroke="#222" stroke-width="0.12" text-anchor="middle">CD19+B cells</text>
<text transform="translate(7.6,716.6) rotate(-90)" font-family="Liberation Serif, Times New Roman, serif" font-size="5.6" stroke="#222" stroke-width="0.12" text-anchor="middle">CD3+ T cells</text>
<text transform="translate(161.8,716.2) rotate(-90)" font-family="Liberation Serif, Times New Roman, serif" font-size="5.6" stroke="#222" stroke-width="0.12" text-anchor="middle">CD3+ T cells</text>
<text transform="translate(319.3,716.6) rotate(-90)" font-family="Liberation Serif, Times New Roman, serif" font-size="5.6" stroke="#222" stroke-width="0.12" text-anchor="middle">CD3+ T cells</text>
</g>
<g font-family="Liberation Sans, Arial, sans-serif" fill="#111">
<rect x="520.5" y="523.4" width="35.8" height="46.6" fill="#0d0b0b"/>
<path d="M538.4 523.4V509.6M529.9 509.6H546.9" stroke="#111" stroke-width="1.2" fill="none"/>
<rect x="572.6" y="515.2" width="36.9" height="54.8" fill="#a2a0a4"/>
<path d="M591 515.2V496.8M582.5 496.8H599.5" stroke="#111" stroke-width="1.2" fill="none"/>
<rect x="625.4" y="519.4" width="36.5" height="50.6" fill="#7b7a7e"/>
<path d="M643.6 519.4V501M635.1 501H652.1" stroke="#111" stroke-width="1.2" fill="none"/>
<path d="M503.3 467.6V570H678.8M503.3 467.6h-3M503.3 501.7h-3M503.3 535.8h-3M503.3 570h-3M538.4 570v2.2M591 570v2.2M643.6 570v2.2" stroke="#111" stroke-width="1.1" fill="none"/>
<text x="498.5" y="470.5" font-size="8" text-anchor="end" font-weight="bold">15</text>
<text x="498.5" y="504.6" font-size="8" text-anchor="end" font-weight="bold">10</text>
<text x="498.5" y="538.7" font-size="8" text-anchor="end" font-weight="bold">5</text>
<text x="498.5" y="572.9" font-size="8" text-anchor="end" font-weight="bold">0</text>
<text x="559.9" y="452.1" font-size="9.6" font-weight="bold" textLength="62" lengthAdjust="spacingAndGlyphs">CD3<tspan dy="-3.4" font-size="6">+</tspan><tspan dy="3.4">T cells</tspan></text>
<text transform="translate(482.9,550.1) rotate(-90)" font-size="7.1" font-weight="bold" textLength="58" lengthAdjust="spacingAndGlyphs">CD3<tspan dy="-2.6" font-size="4.6">+</tspan><tspan dy="2.6">T cells(%)</tspan></text>
<text x="520.5" y="582.9" font-size="10.5" text-anchor="start" textLength="34.7" lengthAdjust="spacingAndGlyphs" font-family="Liberation Serif, Times New Roman, serif" font-weight="bold">Normal</text>
<text x="582.5" y="582.9" font-size="10.5" text-anchor="start" textLength="18.1" lengthAdjust="spacingAndGlyphs" font-family="Liberation Serif, Times New Roman, serif" font-weight="bold">I+II</text>
<text x="625.4" y="582.9" font-size="10.5" text-anchor="start" textLength="31.6" lengthAdjust="spacingAndGlyphs" font-family="Liberation Serif, Times New Roman, serif" font-weight="bold">III+IV</text>
<text x="582.5" y="485.8" font-size="13" text-anchor="start" textLength="15.5" lengthAdjust="spacingAndGlyphs" font-weight="bold">ns</text>
<text x="635.8" y="485.8" font-size="13" text-anchor="start" textLength="15.5" lengthAdjust="spacingAndGlyphs" font-weight="bold">ns</text>
<rect x="517" y="718.7" width="35.8" height="54.3" fill="#0d0b0b"/>
<path d="M534.9 718.7V710M526.9 710H542.9" stroke="#111" stroke-width="1.2" fill="none"/>
<rect x="568.6" y="708.4" width="35.4" height="64.6" fill="#a2a0a4"/>
<path d="M586.3 708.4V698.8M578.3 698.8H594.3" stroke="#111" stroke-width="1.2" fill="none"/>
<rect x="619.8" y="704.4" width="35.7" height="68.6" fill="#7b7a7e"/>
<path d="M637.6 704.4V690.9M629.6 690.9H645.6" stroke="#111" stroke-width="1.2" fill="none"/>
<path d="M500 673.8V773H671.2M500 673.8h-3M500 698.6h-3M500 723.4h-3M500 748.2h-3M500 773h-3M534.9 773v2.2M586.3 773v2.2M637.6 773v2.2" stroke="#111" stroke-width="1.1" fill="none"/>
<text x="495.2" y="676.7" font-size="8" text-anchor="end" font-weight="bold">80</text>
<text x="495.2" y="701.5" font-size="8" text-anchor="end" font-weight="bold">60</text>
<text x="495.2" y="726.3" font-size="8" text-anchor="end" font-weight="bold">40</text>
<text x="495.2" y="751.1" font-size="8" text-anchor="end" font-weight="bold">20</text>
<text x="495.2" y="775.9" font-size="8" text-anchor="end" font-weight="bold">0</text>
<text x="553.4" y="662" font-size="9.3" font-weight="bold" textLength="67.8" lengthAdjust="spacingAndGlyphs">CD19<tspan dy="-3.3" font-size="5.8">+</tspan><tspan dy="3.3">B cells</tspan></text>
<text transform="translate(482.9,757.2) rotate(-90)" font-size="7.1" font-weight="bold" textLength="64.3" lengthAdjust="spacingAndGlyphs">CD19<tspan dy="-2.6" font-size="4.6">+</tspan><tspan dy="2.6">B cells(%)</tspan></text>
<text x="517.6" y="784.5" font-size="10.5" text-anchor="start" textLength="33.9" lengthAdjust="spacingAndGlyphs" font-family="Liberation Serif, Times New Roman, serif" font-weight="bold">Normal</text>
<text x="569.8" y="784.5" font-size="10.5" text-anchor="start" textLength="18.7" lengthAdjust="spacingAndGlyphs" font-family="Liberation Serif, Times New Roman, serif" font-weight="bold">I+II</text>
<text x="621.5" y="784.5" font-size="10.5" text-anchor="start" textLength="32" lengthAdjust="spacingAndGlyphs" font-family="Liberation Serif, Times New Roman, serif" font-weight="bold">III+IV</text>
<text x="586.2" y="699.6" font-size="10" text-anchor="middle" font-weight="bold">*</text>
<text x="632.4" y="692.8" font-size="10" text-anchor="start" textLength="9.4" lengthAdjust="spacingAndGlyphs" font-weight="bold">**</text>
</g>
</svg></body></html>
